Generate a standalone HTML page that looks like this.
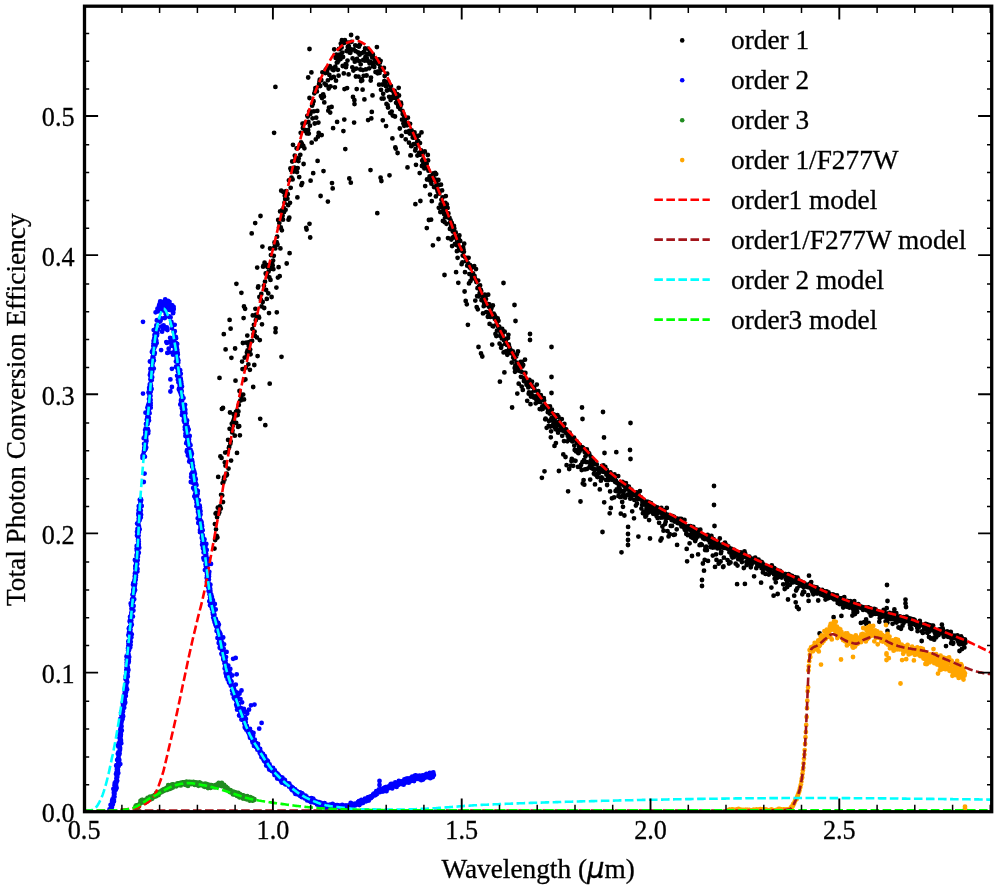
<!DOCTYPE html>
<html lang="en"><head><meta charset="utf-8"><title>Total Photon Conversion Efficiency</title>
<style>html,body{margin:0;padding:0;background:#fff;overflow:hidden}svg{display:block;filter:blur(0.45px)}</style></head>
<body>
<svg width="1000" height="892" viewBox="0 0 1000 892">
<rect width="1000" height="892" fill="#fff"/>
<defs><clipPath id="ax"><rect x="84.5" y="6.2" width="907.2" height="805.5"/></clipPath></defs>
<g clip-path="url(#ax)" fill="none" stroke-linecap="round" stroke-width="4.8">
<path stroke="#000" d="M214.5 548.6h0M214.9 524.1h0M215.2 540.0h0M215.6 513.6h0M216.0 529.3h0M216.3 513.0h0M216.7 536.0h0M217.1 517.2h0M217.4 537.5h0M217.8 507.7h0M218.2 476.9h0M218.6 513.9h0M218.9 507.8h0M219.3 512.3h0M219.7 509.5h0M220.0 506.5h0M220.4 456.4h0M220.8 508.4h0M221.1 494.8h0M221.5 457.9h0M221.9 408.9h0M222.2 495.4h0M222.6 483.1h0M223.0 502.1h0M223.3 482.6h0M223.7 480.0h0M224.1 477.3h0M224.4 479.8h0M224.8 462.4h0M225.2 452.6h0M225.5 465.7h0M225.9 474.9h0M226.3 475.6h0M226.7 473.7h0M227.0 474.7h0M227.4 452.1h0M227.8 452.1h0M228.1 439.9h0M228.5 468.6h0M228.9 447.9h0M229.2 446.9h0M229.6 428.8h0M230.0 412.5h0M230.3 443.8h0M230.7 441.5h0M231.1 460.6h0M231.4 357.8h0M231.8 423.7h0M232.2 432.4h0M232.5 430.4h0M232.9 425.5h0M233.3 421.1h0M233.7 414.2h0M234.0 418.9h0M234.4 416.3h0M234.8 435.7h0M235.1 348.5h0M235.5 380.7h0M235.9 411.9h0M236.2 422.9h0M236.6 411.3h0M237.0 452.9h0M237.3 410.5h0M237.7 415.0h0M238.1 426.9h0M238.4 411.5h0M238.8 405.0h0M239.2 426.2h0M239.5 391.0h0M239.9 435.3h0M240.3 400.6h0M240.7 400.4h0M241.0 396.1h0M241.4 292.8h0M241.8 394.9h0M242.1 361.6h0M242.5 369.1h0M242.9 343.0h0M243.2 394.6h0M243.6 318.1h0M244.0 399.4h0M244.3 380.0h0M244.7 357.6h0M245.1 308.8h0M245.4 379.4h0M245.8 367.5h0M246.2 342.7h0M246.5 356.4h0M246.9 352.4h0M247.3 335.6h0M247.6 350.3h0M248.0 353.8h0M248.4 364.3h0M248.8 345.9h0M249.1 342.2h0M249.5 351.7h0M249.9 369.8h0M250.2 349.6h0M250.6 354.3h0M251.0 341.6h0M251.3 341.2h0M251.7 233.4h0M252.1 341.0h0M252.4 329.1h0M252.8 315.4h0M253.2 387.0h0M253.5 334.1h0M253.9 324.8h0M254.3 365.0h0M254.6 331.6h0M255.0 335.8h0M255.4 308.8h0M255.8 320.2h0M256.1 314.6h0M256.5 316.4h0M256.9 337.4h0M257.2 267.6h0M257.6 356.1h0M258.0 287.6h0M258.3 286.3h0M258.7 316.6h0M259.1 317.7h0M259.4 296.9h0M259.8 340.1h0M260.2 418.8h0M260.5 216.0h0M260.9 299.9h0M261.3 294.0h0M261.6 306.4h0M262.0 324.3h0M262.4 246.6h0M262.7 302.0h0M263.1 266.7h0M263.5 265.6h0M263.9 285.7h0M264.2 308.0h0M264.6 262.7h0M265.0 281.7h0M265.3 425.2h0M265.7 273.5h0M266.1 290.0h0M266.4 274.2h0M266.8 298.9h0M267.2 275.9h0M267.5 267.1h0M267.9 265.2h0M268.3 293.3h0M268.6 271.6h0M269.0 313.1h0M269.4 277.4h0M269.7 383.7h0M270.1 248.5h0M270.5 279.9h0M270.9 255.1h0M271.2 268.5h0M271.6 297.0h0M272.0 263.2h0M272.3 266.8h0M272.7 265.4h0M273.1 260.6h0M273.4 269.2h0M273.8 255.8h0M274.2 247.6h0M274.5 242.4h0M274.9 244.2h0M275.3 248.4h0M275.6 328.3h0M276.0 245.2h0M276.4 287.6h0M276.7 242.2h0M277.1 236.7h0M277.5 244.5h0M277.9 277.6h0M278.2 220.0h0M278.6 267.2h0M279.0 227.4h0M279.3 223.1h0M279.7 276.2h0M280.1 211.4h0M280.4 248.4h0M280.8 227.5h0M281.2 190.7h0M281.5 356.8h0M281.9 230.3h0M282.3 210.0h0M282.6 215.7h0M283.0 219.7h0M283.4 192.0h0M283.7 207.9h0M284.1 212.1h0M284.5 202.7h0M284.8 195.7h0M285.2 199.0h0M285.6 209.8h0M286.0 196.0h0M286.3 191.1h0M286.7 263.5h0M287.1 194.5h0M287.4 198.7h0M287.8 194.2h0M288.2 205.2h0M288.5 219.7h0M288.9 180.3h0M289.3 217.7h0M289.6 253.2h0M290.0 202.8h0M290.4 168.5h0M290.7 187.8h0M291.1 170.3h0M291.5 177.6h0M291.8 178.4h0M292.2 161.5h0M292.6 179.4h0M293.0 144.8h0M293.3 170.9h0M293.7 171.5h0M294.1 168.9h0M294.4 167.7h0M294.8 155.6h0M295.2 160.5h0M295.5 157.2h0M295.9 168.7h0M296.3 171.2h0M296.6 148.3h0M297.0 172.1h0M297.4 197.4h0M297.7 168.1h0M298.1 148.1h0M298.5 161.1h0M298.8 158.3h0M299.2 177.1h0M299.6 146.4h0M299.9 146.0h0M300.3 154.8h0M300.7 132.8h0M301.1 142.5h0M301.4 185.1h0M301.8 143.6h0M302.2 183.1h0M302.5 123.7h0M302.9 128.0h0M303.3 146.0h0M303.6 164.0h0M304.0 123.4h0M304.4 148.3h0M304.7 130.3h0M305.1 131.0h0M305.5 130.2h0M305.8 122.5h0M306.2 227.8h0M306.6 229.6h0M306.9 133.4h0M307.3 115.8h0M307.7 116.6h0M308.1 129.9h0M308.4 121.9h0M308.8 133.6h0M309.2 111.6h0M309.5 98.0h0M309.9 125.7h0M310.3 113.9h0M310.6 180.7h0M311.0 111.6h0M311.4 72.4h0M311.7 142.7h0M312.1 105.7h0M312.5 118.3h0M312.8 104.1h0M313.2 173.2h0M313.6 101.2h0M313.9 111.3h0M314.3 93.3h0M314.7 123.5h0M315.1 90.8h0M315.4 88.1h0M315.8 139.3h0M316.2 117.7h0M316.5 88.0h0M316.9 91.4h0M317.3 110.9h0M317.6 160.9h0M318.0 136.7h0M318.4 122.6h0M318.7 133.0h0M319.1 83.9h0M319.5 81.3h0M319.8 79.6h0M320.2 86.0h0M320.6 196.0h0M320.9 96.1h0M321.3 80.1h0M321.7 135.1h0M322.0 98.0h0M322.4 72.3h0M322.8 95.0h0M323.2 94.3h0M323.5 171.1h0M323.9 96.6h0M324.3 102.4h0M324.6 83.6h0M325.0 72.1h0M325.4 73.0h0M325.7 69.8h0M326.1 85.2h0M326.5 69.0h0M326.8 68.4h0M327.2 72.3h0M327.6 69.3h0M327.9 80.3h0M328.3 110.7h0M328.7 88.6h0M329.0 107.6h0M329.4 74.9h0M329.8 66.1h0M330.2 112.6h0M330.5 86.3h0M330.9 67.7h0M331.3 78.0h0M331.6 106.9h0M332.0 183.1h0M332.4 69.5h0M332.7 188.4h0M333.1 128.2h0M333.5 70.2h0M333.8 76.9h0M334.2 49.3h0M334.6 55.3h0M334.9 87.3h0M335.3 66.7h0M335.7 57.9h0M336.0 80.7h0M336.4 54.7h0M336.8 62.6h0M337.1 121.9h0M337.5 62.4h0M337.9 69.8h0M338.3 60.9h0M338.6 75.7h0M339.0 48.9h0M339.4 49.2h0M339.7 56.7h0M340.1 54.5h0M340.5 59.0h0M340.8 43.6h0M341.2 47.0h0M341.6 47.5h0M341.9 40.2h0M342.3 52.6h0M342.7 66.0h0M343.0 57.0h0M343.4 131.1h0M343.8 73.4h0M344.1 42.9h0M344.5 89.1h0M344.9 40.2h0M345.3 149.1h0M345.6 64.2h0M346.0 67.2h0M346.4 65.0h0M346.7 51.0h0M347.1 88.1h0M347.5 60.6h0M347.8 47.0h0M348.2 42.6h0M348.6 74.4h0M348.9 46.2h0M349.3 178.5h0M349.7 52.7h0M350.0 48.9h0M350.4 52.8h0M350.8 182.7h0M351.1 35.0h0M351.5 41.8h0M351.9 49.8h0M352.3 67.3h0M352.6 58.4h0M353.0 97.0h0M353.4 70.5h0M353.7 49.3h0M354.1 122.6h0M354.5 104.1h0M354.8 61.7h0M355.2 45.3h0M355.6 51.2h0M355.9 76.5h0M356.3 68.6h0M356.7 89.1h0M357.0 59.0h0M357.4 37.8h0M357.8 46.1h0M358.1 52.5h0M358.5 76.6h0M358.9 46.7h0M359.2 61.2h0M359.6 54.7h0M360.0 44.5h0M360.4 69.5h0M360.7 64.3h0M361.1 81.0h0M361.5 79.5h0M361.8 53.1h0M362.2 80.4h0M362.6 89.7h0M362.9 70.1h0M363.3 60.0h0M363.7 75.8h0M364.0 52.0h0M364.4 99.4h0M364.8 60.7h0M365.1 48.5h0M365.5 56.7h0M365.9 69.4h0M366.2 59.8h0M366.6 75.5h0M367.0 59.0h0M367.4 54.0h0M367.7 48.7h0M368.1 120.1h0M368.5 61.3h0M368.8 54.4h0M369.2 68.3h0M369.6 63.4h0M369.9 52.7h0M370.3 62.0h0M370.7 80.6h0M371.0 77.6h0M371.4 62.6h0M371.8 111.9h0M372.1 57.3h0M372.5 95.4h0M372.9 54.5h0M373.2 66.4h0M373.6 66.3h0M374.0 57.9h0M374.3 67.0h0M374.7 58.8h0M375.1 62.4h0M375.5 72.1h0M375.8 59.9h0M376.2 72.2h0M376.6 61.9h0M376.9 47.1h0M377.3 213.2h0M377.7 73.3h0M378.0 63.5h0M378.4 71.3h0M378.8 59.4h0M379.1 84.7h0M379.5 72.9h0M379.9 62.7h0M380.2 67.5h0M380.6 60.8h0M381.0 89.8h0M381.3 69.0h0M381.7 98.6h0M382.1 69.7h0M382.5 84.5h0M382.8 120.3h0M383.2 93.8h0M383.6 98.5h0M383.9 68.0h0M384.3 81.1h0M384.7 76.0h0M385.0 81.7h0M385.4 83.1h0M385.8 86.1h0M386.1 126.1h0M386.5 103.9h0M386.9 90.6h0M387.2 73.7h0M387.6 105.1h0M388.0 107.5h0M388.3 81.5h0M388.7 89.5h0M389.1 96.8h0M389.5 175.3h0M389.8 85.0h0M390.2 112.8h0M390.6 100.0h0M390.9 86.0h0M391.3 90.0h0M391.7 111.6h0M392.0 96.8h0M392.4 138.4h0M392.8 115.6h0M393.1 97.9h0M393.5 92.0h0M393.9 92.8h0M394.2 93.7h0M394.6 90.9h0M395.0 116.5h0M395.3 147.4h0M395.7 148.5h0M396.1 102.8h0M396.4 97.7h0M396.8 98.8h0M397.2 94.1h0M397.6 153.0h0M397.9 104.7h0M398.3 107.0h0M398.7 87.8h0M399.0 95.5h0M399.4 105.7h0M399.8 128.5h0M400.1 109.0h0M400.5 106.2h0M400.9 102.7h0M401.2 104.3h0M401.6 135.8h0M402.0 119.7h0M402.3 110.8h0M402.7 114.1h0M403.1 112.9h0M403.4 123.5h0M403.8 115.5h0M404.2 125.8h0M404.6 118.4h0M404.9 119.0h0M405.3 124.3h0M405.7 139.3h0M406.0 131.9h0M406.4 124.3h0M406.8 123.0h0M407.1 125.3h0M407.5 167.4h0M407.9 117.7h0M408.2 123.5h0M408.6 123.6h0M409.0 142.7h0M409.3 130.8h0M409.7 133.6h0M410.1 123.8h0M410.4 155.4h0M410.8 155.4h0M411.2 146.2h0M411.6 130.5h0M411.9 145.3h0M412.3 133.8h0M412.7 137.5h0M413.0 137.5h0M413.4 136.9h0M413.8 144.2h0M414.1 137.5h0M414.5 132.3h0M414.9 135.1h0M415.2 150.5h0M415.6 148.9h0M416.0 164.8h0M416.3 143.8h0M416.7 137.7h0M417.1 141.8h0M417.4 155.6h0M417.8 145.1h0M418.2 141.1h0M418.5 155.0h0M418.9 135.7h0M419.3 152.8h0M419.7 173.1h0M420.0 143.1h0M420.4 201.0h0M420.8 154.5h0M421.1 150.5h0M421.5 132.4h0M421.9 166.0h0M422.2 160.6h0M422.6 154.0h0M423.0 159.5h0M423.3 163.0h0M423.7 161.8h0M424.1 161.1h0M424.4 168.4h0M424.8 151.5h0M425.2 186.1h0M425.5 165.2h0M425.9 165.2h0M426.3 167.0h0M426.7 164.0h0M427.0 179.5h0M427.4 167.9h0M427.8 155.0h0M428.1 160.4h0M428.5 170.7h0M428.9 220.0h0M429.2 179.2h0M429.6 176.5h0M430.0 194.6h0M430.3 180.8h0M430.7 179.6h0M431.1 219.7h0M431.4 183.7h0M431.8 201.2h0M432.2 175.4h0M432.5 180.1h0M432.9 245.3h0M433.3 173.4h0M433.6 177.8h0M434.0 187.1h0M434.4 187.0h0M434.8 173.4h0M435.1 172.8h0M435.5 179.7h0M435.9 196.4h0M436.2 174.1h0M436.6 183.9h0M437.0 187.6h0M437.3 189.7h0M437.7 191.4h0M438.1 192.3h0M438.4 179.9h0M438.8 207.8h0M439.2 193.6h0M439.5 190.9h0M439.9 184.8h0M440.3 212.1h0M440.6 204.5h0M441.0 184.7h0M441.4 199.8h0M441.8 206.9h0M442.1 190.4h0M442.5 197.5h0M442.9 220.9h0M443.2 210.4h0M443.6 210.3h0M444.0 214.0h0M444.3 204.9h0M444.7 222.2h0M445.1 217.4h0M445.4 202.8h0M445.8 196.1h0M446.2 208.1h0M446.5 223.8h0M446.9 204.4h0M447.3 213.4h0M447.6 207.9h0M448.0 238.1h0M448.4 213.5h0M448.8 217.6h0M449.1 217.9h0M449.5 218.0h0M449.9 228.9h0M450.2 222.4h0M450.6 220.4h0M451.0 226.3h0M451.3 239.5h0M451.7 222.8h0M452.1 246.1h0M452.4 237.9h0M452.8 231.6h0M453.2 226.5h0M453.5 236.8h0M453.9 225.8h0M454.3 228.5h0M454.6 236.2h0M455.0 243.8h0M455.4 237.5h0M455.7 232.4h0M456.1 272.2h0M456.5 245.1h0M456.9 251.2h0M457.2 240.3h0M457.6 257.8h0M458.0 243.1h0M458.3 282.8h0M458.7 238.4h0M459.1 248.2h0M459.4 235.4h0M459.8 250.1h0M460.2 240.9h0M460.5 248.3h0M460.9 248.9h0M461.3 250.6h0M461.6 264.2h0M462.0 249.8h0M462.4 262.3h0M462.7 255.6h0M463.1 247.2h0M463.5 249.6h0M463.9 251.8h0M464.2 243.7h0M464.6 291.5h0M465.0 272.2h0M465.3 257.6h0M465.7 300.9h0M466.1 261.1h0M466.4 260.6h0M466.8 304.3h0M467.2 265.7h0M467.5 257.8h0M467.9 324.8h0M468.3 263.5h0M468.6 257.8h0M469.0 283.4h0M469.4 274.1h0M469.7 267.4h0M470.1 265.1h0M470.5 281.0h0M470.8 268.4h0M471.2 274.4h0M471.6 273.9h0M472.0 277.7h0M472.3 277.4h0M472.7 267.0h0M473.1 273.4h0M473.4 276.8h0M473.8 278.4h0M474.2 266.1h0M474.5 275.9h0M474.9 278.5h0M475.3 300.6h0M475.6 279.6h0M476.0 269.1h0M476.4 282.0h0M476.7 307.1h0M477.1 296.1h0M477.5 288.2h0M477.8 309.3h0M478.2 280.6h0M478.6 296.3h0M479.0 286.5h0M479.3 286.9h0M479.7 293.1h0M480.1 285.4h0M480.4 290.7h0M480.8 289.8h0M481.2 291.1h0M481.5 300.2h0M481.9 295.6h0M482.3 356.5h0M482.6 299.5h0M483.0 313.4h0M483.4 299.2h0M483.7 306.2h0M484.1 302.8h0M484.5 297.1h0M484.8 294.7h0M485.2 295.9h0M485.6 298.9h0M486.0 299.1h0M486.3 312.1h0M486.7 304.7h0M487.1 305.0h0M487.4 303.8h0M487.8 316.8h0M488.2 294.7h0M488.5 313.6h0M488.9 306.8h0M489.3 304.5h0M489.6 323.9h0M490.0 315.3h0M490.4 316.9h0M490.7 309.9h0M491.1 309.2h0M491.5 307.9h0M491.8 314.9h0M492.2 344.6h0M492.6 326.0h0M492.9 305.5h0M493.3 326.4h0M493.7 313.7h0M494.1 317.2h0M494.4 314.8h0M494.8 318.9h0M495.2 316.4h0M495.5 333.9h0M495.9 320.1h0M496.3 336.0h0M496.6 323.9h0M497.0 330.7h0M497.4 319.7h0M497.7 318.4h0M498.1 326.4h0M498.5 320.8h0M498.8 329.8h0M499.2 326.6h0M499.6 343.7h0M499.9 381.7h0M500.3 335.9h0M500.7 333.7h0M501.1 347.8h0M501.4 345.8h0M501.8 338.4h0M502.2 328.9h0M502.5 336.0h0M502.9 338.8h0M503.3 332.4h0M503.6 352.4h0M504.0 340.2h0M504.4 372.4h0M504.7 331.7h0M505.1 343.8h0M505.5 351.7h0M505.8 340.8h0M506.2 338.7h0M506.6 351.5h0M506.9 344.9h0M507.3 354.8h0M507.7 345.0h0M508.0 338.1h0M508.4 334.8h0M508.8 344.5h0M509.2 348.6h0M509.5 347.5h0M509.9 350.4h0M510.3 349.6h0M510.6 352.8h0M511.0 353.2h0M511.4 350.6h0M511.7 362.6h0M512.1 407.5h0M512.5 353.7h0M512.8 351.4h0M513.2 357.6h0M513.6 357.2h0M513.9 355.2h0M514.3 359.2h0M514.7 368.0h0M515.0 371.8h0M515.4 365.4h0M515.8 371.1h0M516.2 356.4h0M516.5 362.6h0M516.9 354.2h0M517.3 393.6h0M517.6 369.8h0M518.0 351.5h0M518.4 368.4h0M518.7 383.7h0M519.1 370.0h0M519.5 367.5h0M519.8 370.9h0M520.2 365.6h0M520.6 362.0h0M520.9 376.8h0M521.3 371.7h0M521.7 386.6h0M522.0 361.9h0M522.4 366.6h0M522.8 389.9h0M523.2 365.0h0M523.5 377.8h0M523.9 381.1h0M524.3 372.9h0M524.6 381.4h0M525.0 359.7h0M525.4 373.0h0M525.7 378.9h0M526.1 381.1h0M526.5 384.8h0M526.8 380.5h0M527.2 400.8h0M527.6 382.6h0M527.9 382.1h0M528.3 387.4h0M528.7 393.7h0M529.0 392.5h0M529.4 380.0h0M529.8 384.7h0M530.1 384.3h0M530.5 404.2h0M530.9 396.6h0M531.3 392.6h0M531.6 385.3h0M532.0 381.7h0M532.4 395.5h0M532.7 386.9h0M533.1 396.7h0M533.5 397.2h0M533.8 397.6h0M534.2 388.4h0M534.6 390.6h0M534.9 397.8h0M535.3 396.5h0M535.7 403.3h0M536.0 399.0h0M536.4 399.3h0M536.8 384.6h0M537.1 401.4h0M537.5 402.1h0M537.9 392.6h0M538.3 391.2h0M538.6 396.3h0M539.0 396.2h0M539.4 397.4h0M539.7 409.1h0M540.1 401.9h0M540.5 396.2h0M540.8 395.1h0M541.2 398.4h0M541.6 409.3h0M541.9 477.8h0M542.3 406.5h0M542.7 408.9h0M543.0 399.5h0M543.4 405.4h0M543.8 398.1h0M544.1 400.5h0M544.5 471.3h0M544.9 405.1h0M545.2 419.3h0M545.6 418.6h0M546.0 406.5h0M546.4 407.5h0M546.7 427.8h0M547.1 406.3h0M547.5 406.5h0M547.8 412.2h0M548.2 410.7h0M548.6 425.9h0M548.9 421.0h0M549.3 410.2h0M549.7 413.6h0M550.0 406.5h0M550.4 426.6h0M550.8 437.3h0M551.1 431.3h0M551.5 418.2h0M551.9 409.7h0M552.2 425.9h0M552.6 420.4h0M553.0 418.2h0M553.4 423.8h0M553.7 414.5h0M554.1 417.4h0M554.5 445.9h0M554.8 427.5h0M555.2 418.0h0M555.6 429.3h0M555.9 443.1h0M556.3 426.4h0M556.7 422.4h0M557.0 425.1h0M557.4 415.1h0M557.8 430.5h0M558.1 432.7h0M558.5 417.0h0M558.9 471.0h0M559.2 423.3h0M559.6 421.6h0M560.0 429.9h0M560.4 429.5h0M560.7 428.2h0M561.1 426.4h0M561.5 426.4h0M561.8 419.1h0M562.2 435.8h0M562.6 427.4h0M562.9 430.7h0M563.3 454.4h0M563.7 427.3h0M564.0 441.1h0M564.4 424.0h0M564.8 431.6h0M565.1 429.4h0M565.5 457.0h0M565.9 432.8h0M566.2 429.3h0M566.6 465.2h0M567.0 431.8h0M567.3 441.3h0M567.7 435.7h0M568.1 491.3h0M568.5 437.5h0M568.8 436.9h0M569.2 469.0h0M569.6 432.7h0M569.9 435.7h0M570.3 435.1h0M570.7 439.9h0M571.0 465.6h0M571.4 460.9h0M571.8 459.0h0M572.1 441.3h0M572.5 439.9h0M572.9 460.3h0M573.2 465.8h0M573.6 460.4h0M574.0 437.6h0M574.3 445.6h0M574.7 450.0h0M575.1 440.7h0M575.5 460.8h0M575.8 451.0h0M576.2 451.4h0M576.6 441.5h0M576.9 451.3h0M577.3 442.9h0M577.7 452.3h0M578.0 466.9h0M578.4 453.2h0M578.8 449.0h0M579.1 446.8h0M579.5 451.4h0M579.9 445.2h0M580.2 466.3h0M580.6 447.7h0M581.0 464.9h0M581.3 449.3h0M581.7 470.0h0M582.1 447.2h0M582.4 462.2h0M582.8 483.5h0M583.2 447.8h0M583.6 480.1h0M583.9 460.2h0M584.3 484.7h0M584.7 452.1h0M585.0 469.4h0M585.4 456.5h0M585.8 452.0h0M586.1 462.0h0M586.5 450.3h0M586.9 449.5h0M587.2 468.8h0M587.6 452.5h0M588.0 454.0h0M588.3 452.7h0M588.7 462.3h0M589.1 453.3h0M589.4 454.7h0M589.8 466.6h0M590.2 479.6h0M590.6 461.0h0M590.9 456.9h0M591.3 468.1h0M591.7 460.5h0M592.0 464.1h0M592.4 464.9h0M592.8 468.8h0M593.1 460.1h0M593.5 462.3h0M593.9 473.7h0M594.2 464.3h0M594.6 469.9h0M595.0 484.4h0M595.3 474.4h0M595.7 469.3h0M596.1 474.9h0M596.4 475.2h0M596.8 464.5h0M597.2 476.7h0M597.6 477.1h0M597.9 473.8h0M598.3 468.9h0M598.7 473.2h0M599.0 473.0h0M599.4 468.5h0M599.8 489.4h0M600.1 470.2h0M600.5 468.1h0M600.9 480.7h0M601.2 478.8h0M601.6 477.4h0M602.0 465.8h0M602.3 478.3h0M602.7 471.7h0M603.1 467.9h0M603.4 465.5h0M603.8 470.3h0M604.2 502.3h0M604.5 468.4h0M604.9 472.2h0M605.3 467.0h0M605.7 470.0h0M606.0 479.9h0M606.4 474.7h0M606.8 469.8h0M607.1 485.0h0M607.5 473.8h0M607.9 474.7h0M608.2 477.0h0M608.6 480.1h0M609.0 479.4h0M609.3 476.3h0M609.7 513.3h0M610.1 491.4h0M610.4 472.3h0M610.8 508.0h0M611.2 476.7h0M611.5 479.6h0M611.9 498.3h0M612.3 476.3h0M612.7 479.8h0M613.0 477.9h0M613.4 475.4h0M613.8 479.5h0M614.1 497.4h0M614.5 474.4h0M614.9 479.4h0M615.2 482.1h0M615.6 490.9h0M616.0 481.0h0M616.3 452.2h0M616.7 489.4h0M617.1 483.0h0M617.4 483.3h0M617.8 491.6h0M618.2 476.1h0M618.5 496.0h0M618.9 487.1h0M619.3 491.9h0M619.6 488.5h0M620.0 497.0h0M620.4 484.2h0M620.8 513.7h0M621.1 491.0h0M621.5 552.3h0M621.9 496.5h0M622.2 502.0h0M622.6 482.0h0M623.0 506.8h0M623.3 494.8h0M623.7 485.5h0M624.1 490.8h0M624.4 515.5h0M624.8 486.6h0M625.2 497.7h0M625.5 487.6h0M625.9 483.1h0M626.3 488.5h0M626.6 487.2h0M627.0 486.4h0M627.4 494.7h0M627.8 489.4h0M628.1 526.9h0M628.5 486.7h0M628.9 486.7h0M629.2 495.3h0M629.6 492.0h0M630.0 493.7h0M630.3 498.7h0M630.7 493.5h0M631.1 498.1h0M631.4 489.7h0M631.8 494.3h0M632.2 511.3h0M632.5 495.2h0M632.9 493.2h0M633.3 492.8h0M633.6 494.7h0M634.0 518.3h0M634.4 499.9h0M634.8 494.6h0M635.1 492.8h0M635.5 495.0h0M635.9 505.6h0M636.2 495.5h0M636.6 492.3h0M637.0 503.6h0M637.3 499.2h0M637.7 495.4h0M638.1 498.4h0M638.4 536.6h0M638.8 495.5h0M639.2 497.4h0M639.5 498.9h0M639.9 491.1h0M640.3 497.1h0M640.6 498.4h0M641.0 497.3h0M641.4 508.6h0M641.7 499.8h0M642.1 505.1h0M642.5 502.4h0M642.9 513.2h0M643.2 502.4h0M643.6 500.5h0M644.0 512.3h0M644.3 513.7h0M644.7 503.3h0M645.1 511.3h0M645.4 516.7h0M645.8 505.1h0M646.2 515.7h0M646.5 508.2h0M646.9 501.6h0M647.3 507.8h0M647.6 512.2h0M648.0 509.4h0M648.4 512.6h0M648.7 502.2h0M649.1 520.1h0M649.5 504.1h0M649.9 507.2h0M650.2 509.3h0M650.6 511.1h0M651.0 503.2h0M651.3 509.1h0M651.7 511.8h0M652.1 507.7h0M652.4 506.8h0M652.8 505.7h0M653.2 513.8h0M653.5 513.2h0M653.9 507.9h0M654.3 509.5h0M654.6 510.1h0M655.0 506.6h0M655.4 513.8h0M655.7 506.9h0M656.1 509.2h0M656.5 516.1h0M656.8 512.5h0M657.2 507.3h0M657.6 518.0h0M658.0 513.0h0M658.3 509.7h0M658.7 508.6h0M659.1 522.8h0M659.4 511.2h0M659.8 511.7h0M660.2 509.4h0M660.5 540.5h0M660.9 517.7h0M661.3 507.8h0M661.6 538.5h0M662.0 513.5h0M662.4 526.5h0M662.7 513.3h0M663.1 517.3h0M663.5 530.7h0M663.8 511.8h0M664.2 510.5h0M664.6 512.3h0M665.0 524.1h0M665.3 514.3h0M665.7 521.8h0M666.1 518.6h0M666.4 516.1h0M666.8 507.9h0M667.2 514.7h0M667.5 531.1h0M667.9 516.3h0M668.3 517.5h0M668.6 536.4h0M669.0 516.8h0M669.4 517.9h0M669.7 534.2h0M670.1 515.9h0M670.5 515.6h0M670.8 525.9h0M671.2 518.4h0M671.6 520.1h0M672.0 525.9h0M672.3 517.8h0M672.7 516.1h0M673.1 517.0h0M673.4 519.9h0M673.8 534.9h0M674.2 516.9h0M674.5 521.5h0M674.9 534.6h0M675.3 519.2h0M675.6 519.4h0M676.0 520.2h0M676.4 518.5h0M676.7 529.3h0M677.1 544.9h0M677.5 523.1h0M677.8 522.1h0M678.2 522.3h0M678.6 520.8h0M678.9 521.9h0M679.3 518.9h0M679.7 520.6h0M680.1 523.8h0M680.4 523.9h0M680.8 523.7h0M681.2 518.8h0M681.5 526.4h0M681.9 523.0h0M682.3 526.6h0M682.6 522.6h0M683.0 526.7h0M683.4 524.7h0M683.7 524.7h0M684.1 527.9h0M684.5 519.9h0M684.8 529.8h0M685.2 525.8h0M685.6 526.8h0M685.9 530.8h0M686.3 533.9h0M686.7 548.9h0M687.1 561.3h0M687.4 529.7h0M687.8 535.2h0M688.2 528.3h0M688.5 534.8h0M688.9 526.2h0M689.3 529.0h0M689.6 543.3h0M690.0 526.9h0M690.4 526.1h0M690.7 530.1h0M691.1 537.1h0M691.5 534.2h0M691.8 530.9h0M692.2 535.4h0M692.6 529.5h0M692.9 538.1h0M693.3 526.8h0M693.7 534.4h0M694.0 532.4h0M694.4 530.1h0M694.8 530.4h0M695.2 541.0h0M695.5 529.3h0M695.9 539.1h0M696.3 532.8h0M696.6 535.3h0M697.0 534.6h0M697.4 529.9h0M697.7 536.7h0M698.1 554.4h0M698.5 534.1h0M698.8 532.7h0M699.2 533.0h0M699.6 545.2h0M699.9 531.5h0M700.3 529.7h0M700.7 535.3h0M701.0 544.2h0M701.4 535.2h0M701.8 544.8h0M702.2 536.8h0M702.5 536.0h0M702.9 563.5h0M703.3 538.4h0M703.6 536.3h0M704.0 570.7h0M704.4 539.1h0M704.7 559.9h0M705.1 550.0h0M705.5 547.4h0M705.8 538.8h0M706.2 546.6h0M706.6 537.8h0M706.9 550.2h0M707.3 536.9h0M707.7 535.0h0M708.0 560.9h0M708.4 540.0h0M708.8 537.5h0M709.2 539.8h0M709.5 541.2h0M709.9 542.7h0M710.3 540.5h0M710.6 547.0h0M711.0 538.9h0M711.4 536.0h0M711.7 539.1h0M712.1 545.0h0M712.5 547.6h0M712.8 555.6h0M713.2 540.3h0M713.6 539.2h0M713.9 542.7h0M714.3 547.3h0M714.7 546.0h0M715.0 566.9h0M715.4 546.7h0M715.8 544.1h0M716.1 554.3h0M716.5 559.9h0M716.9 543.0h0M717.3 543.2h0M717.6 548.4h0M718.0 542.2h0M718.4 546.4h0M718.7 563.7h0M719.1 545.8h0M719.5 547.9h0M719.8 538.5h0M720.2 545.1h0M720.6 561.5h0M720.9 553.2h0M721.3 551.6h0M721.7 545.6h0M722.0 544.6h0M722.4 546.8h0M722.8 547.2h0M723.1 567.0h0M723.5 566.4h0M723.9 557.7h0M724.3 547.8h0M724.6 547.2h0M725.0 542.7h0M725.4 546.5h0M725.7 544.4h0M726.1 546.8h0M726.5 545.5h0M726.8 547.6h0M727.2 548.5h0M727.6 560.1h0M727.9 546.9h0M728.3 546.5h0M728.7 548.2h0M729.0 563.5h0M729.4 552.3h0M729.8 548.6h0M730.1 550.2h0M730.5 562.5h0M730.9 548.7h0M731.2 548.8h0M731.6 555.7h0M732.0 551.6h0M732.4 557.6h0M732.7 550.1h0M733.1 550.6h0M733.5 555.5h0M733.8 557.2h0M734.2 549.8h0M734.6 551.9h0M734.9 551.0h0M735.3 553.6h0M735.7 563.7h0M736.0 553.7h0M736.4 555.4h0M736.8 552.2h0M737.1 584.2h0M737.5 565.6h0M737.9 552.1h0M738.2 559.2h0M738.6 556.2h0M739.0 553.2h0M739.4 557.1h0M739.7 556.2h0M740.1 557.0h0M740.5 559.8h0M740.8 552.5h0M741.2 556.7h0M741.6 559.3h0M741.9 562.1h0M742.3 553.0h0M742.7 554.4h0M743.0 553.8h0M743.4 556.1h0M743.8 568.0h0M744.1 556.5h0M744.5 551.3h0M744.9 583.9h0M745.2 553.6h0M745.6 557.2h0M746.0 556.8h0M746.4 561.9h0M746.7 565.0h0M747.1 556.9h0M747.5 558.7h0M747.8 560.2h0M748.2 558.4h0M748.6 559.2h0M748.9 557.0h0M749.3 556.6h0M749.7 563.2h0M750.0 560.6h0M750.4 559.2h0M750.8 567.3h0M751.1 559.7h0M751.5 564.7h0M751.9 558.6h0M752.2 560.9h0M752.6 560.1h0M753.0 562.6h0M753.3 559.2h0M753.7 562.1h0M754.1 576.3h0M754.5 562.2h0M754.8 560.9h0M755.2 557.7h0M755.6 562.2h0M755.9 561.6h0M756.3 568.2h0M756.7 563.1h0M757.0 561.8h0M757.4 565.7h0M757.8 560.8h0M758.1 563.3h0M758.5 559.6h0M758.9 564.0h0M759.2 564.0h0M759.6 563.6h0M760.0 565.9h0M760.3 564.3h0M760.7 561.7h0M761.1 582.7h0M761.5 568.2h0M761.8 562.2h0M762.2 563.9h0M762.6 563.3h0M762.9 572.4h0M763.3 567.9h0M763.7 565.1h0M764.0 565.3h0M764.4 567.2h0M764.8 568.4h0M765.1 566.9h0M765.5 573.9h0M765.9 566.7h0M766.2 566.9h0M766.6 566.6h0M767.0 568.9h0M767.3 566.5h0M767.7 568.1h0M768.1 567.6h0M768.4 570.2h0M768.8 574.5h0M769.2 568.0h0M769.6 567.9h0M769.9 568.6h0M770.3 569.2h0M770.7 569.0h0M771.0 572.6h0M771.4 587.6h0M771.8 565.4h0M772.1 567.1h0M772.5 567.1h0M772.9 572.7h0M773.2 572.7h0M773.6 595.7h0M774.0 574.3h0M774.3 568.2h0M774.7 578.7h0M775.1 570.2h0M775.4 569.9h0M775.8 582.3h0M776.2 571.1h0M776.6 569.8h0M776.9 575.6h0M777.3 577.8h0M777.7 594.0h0M778.0 574.6h0M778.4 573.6h0M778.8 571.3h0M779.1 571.6h0M779.5 576.5h0M779.9 571.0h0M780.2 575.2h0M780.6 571.6h0M781.0 573.2h0M781.3 574.0h0M781.7 577.6h0M782.1 573.9h0M782.4 575.5h0M782.8 574.8h0M783.2 584.3h0M783.6 574.8h0M783.9 574.4h0M784.3 575.3h0M784.7 589.0h0M785.0 574.2h0M785.4 575.4h0M785.8 574.2h0M786.1 579.4h0M786.5 579.4h0M786.9 583.2h0M787.2 587.1h0M787.6 575.9h0M788.0 576.2h0M788.3 577.1h0M788.7 574.2h0M789.1 576.2h0M789.4 578.7h0M789.8 584.9h0M790.2 575.3h0M790.5 580.4h0M790.9 580.7h0M791.3 578.5h0M791.7 582.4h0M792.0 575.8h0M792.4 577.5h0M792.8 579.3h0M793.1 582.3h0M793.5 578.3h0M793.9 581.5h0M794.2 595.7h0M794.6 580.6h0M795.0 577.2h0M795.3 578.9h0M795.7 602.3h0M796.1 590.5h0M796.4 582.5h0M796.8 582.4h0M797.2 588.5h0M797.5 577.7h0M797.9 583.1h0M798.3 579.5h0M798.7 609.0h0M799.0 582.7h0M799.4 582.2h0M799.8 585.6h0M800.1 581.2h0M800.5 585.3h0M800.9 581.5h0M801.2 583.4h0M801.6 585.8h0M802.0 584.5h0M802.3 594.3h0M802.7 585.6h0M803.1 592.1h0M803.4 582.6h0M803.8 587.6h0M804.2 592.1h0M804.5 583.4h0M804.9 585.2h0M805.3 584.4h0M805.7 585.4h0M806.0 585.4h0M806.4 585.4h0M806.8 585.0h0M807.1 585.4h0M807.5 586.6h0M807.9 587.2h0M808.2 595.2h0M808.6 600.9h0M809.0 575.7h0M809.3 584.2h0M809.7 585.1h0M810.1 587.8h0M810.4 583.4h0M810.8 583.9h0M811.2 582.1h0M811.5 589.4h0M811.9 586.4h0M812.3 591.6h0M812.6 592.1h0M813.0 589.3h0M813.4 594.3h0M813.8 588.0h0M814.1 586.9h0M814.5 592.1h0M814.9 592.8h0M815.2 587.3h0M815.6 589.7h0M816.0 588.1h0M816.3 589.3h0M816.7 587.5h0M817.1 593.5h0M817.4 592.7h0M817.8 592.9h0M818.2 600.5h0M818.5 589.2h0M818.9 591.7h0M819.3 593.4h0M819.6 633.4h0M820.0 591.2h0M820.4 591.6h0M820.8 594.4h0M821.1 590.6h0M821.5 594.7h0M821.9 592.8h0M822.2 589.9h0M822.6 594.2h0M823.0 591.7h0M823.3 593.2h0M823.7 593.3h0M824.1 595.8h0M824.4 591.3h0M824.8 593.0h0M825.2 592.5h0M825.5 599.6h0M825.9 598.1h0M826.3 591.8h0M826.6 591.5h0M827.0 597.3h0M827.4 596.3h0M827.7 597.4h0M828.1 598.3h0M828.5 592.3h0M828.9 596.3h0M829.2 594.1h0M829.6 594.9h0M830.0 595.8h0M830.3 597.3h0M830.7 596.3h0M831.1 595.7h0M831.4 594.7h0M831.8 596.5h0M832.2 598.0h0M832.5 596.9h0M832.9 594.4h0M833.3 596.3h0M833.6 617.2h0M834.0 599.3h0M834.4 598.0h0M834.7 599.0h0M835.1 598.3h0M835.5 595.4h0M835.9 596.7h0M836.2 597.6h0M836.6 597.5h0M837.0 595.4h0M837.3 600.4h0M837.7 603.1h0M838.1 601.2h0M838.4 600.7h0M838.8 599.0h0M839.2 599.8h0M839.5 598.5h0M839.9 604.2h0M840.3 604.0h0M840.6 598.7h0M841.0 601.6h0M841.4 615.9h0M841.7 598.3h0M842.1 601.9h0M842.5 601.2h0M842.9 602.0h0M843.2 607.6h0M843.6 602.1h0M844.0 604.7h0M844.3 597.2h0M844.7 604.5h0M845.1 605.5h0M845.4 601.8h0M845.8 601.6h0M846.2 602.7h0M846.5 606.5h0M846.9 606.7h0M847.3 600.9h0M847.6 602.4h0M848.0 601.1h0M848.4 605.5h0M848.7 605.6h0M849.1 601.8h0M849.5 607.7h0M849.8 605.6h0M850.2 601.1h0M850.6 604.7h0M851.0 602.6h0M851.3 607.0h0M851.7 604.2h0M852.1 605.2h0M852.4 615.6h0M852.8 605.4h0M853.2 609.2h0M853.5 612.0h0M853.9 604.1h0M854.3 601.1h0M854.6 607.4h0M855.0 614.0h0M855.4 608.4h0M855.7 608.2h0M856.1 606.1h0M856.5 608.6h0M856.8 608.3h0M857.2 611.9h0M857.6 606.8h0M858.0 604.7h0M858.3 604.2h0M858.7 606.8h0M859.1 605.7h0M859.4 605.7h0M859.8 606.9h0M860.2 606.4h0M860.5 607.8h0M860.9 622.9h0M861.3 607.4h0M861.6 607.0h0M862.0 606.8h0M862.4 607.1h0M862.7 608.7h0M863.1 609.9h0M863.5 608.3h0M863.8 608.7h0M864.2 622.2h0M864.6 608.2h0M864.9 636.7h0M865.3 607.4h0M865.7 607.6h0M866.1 619.3h0M866.4 624.2h0M866.8 610.3h0M867.2 635.2h0M867.5 607.8h0M867.9 609.0h0M868.3 607.5h0M868.6 623.0h0M869.0 608.5h0M869.4 612.5h0M869.7 609.2h0M870.1 610.3h0M870.5 608.3h0M870.8 615.7h0M871.2 609.9h0M871.6 609.4h0M871.9 609.4h0M872.3 614.4h0M872.7 613.4h0M873.1 609.4h0M873.4 609.1h0M873.8 610.8h0M874.2 608.8h0M874.5 610.4h0M874.9 611.6h0M875.3 613.8h0M875.6 609.4h0M876.0 611.5h0M876.4 610.9h0M876.7 636.3h0M877.1 612.5h0M877.5 611.1h0M877.8 612.2h0M878.2 614.1h0M878.6 613.9h0M878.9 611.7h0M879.3 621.8h0M879.7 618.3h0M880.1 612.9h0M880.4 613.6h0M880.8 613.1h0M881.2 613.7h0M881.5 612.7h0M881.9 615.2h0M882.3 616.7h0M882.6 613.0h0M883.0 613.4h0M883.4 613.0h0M883.7 609.8h0M884.1 612.1h0M884.5 611.5h0M884.8 612.9h0M885.2 613.9h0M885.6 621.5h0M885.9 617.1h0M886.3 616.4h0M886.7 608.2h0M887.0 620.3h0M887.4 622.6h0M887.8 617.6h0M888.2 616.1h0M888.5 615.2h0M888.9 613.1h0M889.3 613.1h0M889.6 613.0h0M890.0 613.4h0M890.4 616.2h0M890.7 619.1h0M891.1 617.2h0M891.5 615.7h0M891.8 615.7h0M892.2 617.6h0M892.6 623.8h0M892.9 618.5h0M893.3 615.2h0M893.7 612.7h0M894.0 614.0h0M894.4 609.5h0M894.8 618.6h0M895.2 619.7h0M895.5 620.3h0M895.9 617.9h0M896.3 613.2h0M896.6 622.5h0M897.0 618.5h0M897.4 617.4h0M897.7 618.4h0M898.1 619.4h0M898.5 627.5h0M898.8 617.8h0M899.2 617.2h0M899.6 617.0h0M899.9 616.3h0M900.3 621.1h0M900.7 617.9h0M901.0 628.8h0M901.4 617.9h0M901.8 617.3h0M902.1 618.4h0M902.5 625.7h0M902.9 619.3h0M903.3 617.2h0M903.6 623.0h0M904.0 617.3h0M904.4 621.0h0M904.7 617.9h0M905.1 618.0h0M905.5 621.0h0M905.8 621.1h0M906.2 619.8h0M906.6 616.6h0M906.9 620.4h0M907.3 621.0h0M907.7 619.2h0M908.0 618.0h0M908.4 619.5h0M908.8 620.4h0M909.1 618.5h0M909.5 621.8h0M909.9 625.1h0M910.3 628.1h0M910.6 618.7h0M911.0 624.8h0M911.4 628.9h0M911.7 620.7h0M912.1 620.5h0M912.5 622.0h0M912.8 620.7h0M913.2 623.5h0M913.6 619.3h0M913.9 620.0h0M914.3 619.9h0M914.7 620.2h0M915.0 621.3h0M915.4 624.9h0M915.8 624.3h0M916.1 622.4h0M916.5 622.6h0M916.9 626.1h0M917.3 628.0h0M917.6 631.2h0M918.0 624.1h0M918.4 623.3h0M918.7 627.5h0M919.1 623.5h0M919.5 624.0h0M919.8 620.9h0M920.2 624.0h0M920.6 624.2h0M920.9 625.0h0M921.3 625.0h0M921.7 641.0h0M922.0 631.5h0M922.4 631.7h0M922.8 632.9h0M923.1 624.8h0M923.5 625.7h0M923.9 626.0h0M924.2 628.1h0M924.6 626.9h0M925.0 629.0h0M925.4 628.8h0M925.7 623.8h0M926.1 625.3h0M926.5 626.4h0M926.8 625.5h0M927.2 632.8h0M927.6 629.3h0M927.9 624.6h0M928.3 628.7h0M928.7 627.1h0M929.0 637.0h0M929.4 631.6h0M929.8 629.3h0M930.1 630.4h0M930.5 625.4h0M930.9 638.4h0M931.2 638.5h0M931.6 629.1h0M932.0 628.2h0M932.4 626.2h0M932.7 625.7h0M933.1 625.7h0M933.5 629.6h0M933.8 630.7h0M934.2 639.7h0M934.6 637.3h0M934.9 633.1h0M935.3 630.2h0M935.7 630.4h0M936.0 637.4h0M936.4 636.7h0M936.8 633.2h0M937.1 631.5h0M937.5 630.3h0M937.9 631.1h0M938.2 631.0h0M938.6 635.0h0M939.0 632.6h0M939.3 629.3h0M939.7 631.6h0M940.1 632.7h0M940.5 629.6h0M940.8 633.0h0M941.2 630.6h0M941.6 631.7h0M941.9 624.7h0M942.3 630.6h0M942.7 628.5h0M943.0 630.4h0M943.4 634.4h0M943.8 636.8h0M944.1 633.7h0M944.5 633.6h0M944.9 632.2h0M945.2 633.6h0M945.6 633.4h0M946.0 646.1h0M946.3 634.2h0M946.7 633.3h0M947.1 631.3h0M947.5 633.1h0M947.8 634.5h0M948.2 636.9h0M948.6 635.0h0M948.9 635.1h0M949.3 635.5h0M949.7 635.1h0M950.0 634.7h0M950.4 634.9h0M950.8 631.9h0M951.1 643.2h0M951.5 639.0h0M951.9 635.6h0M952.2 638.6h0M952.6 637.0h0M953.0 643.8h0M953.3 643.0h0M953.7 635.6h0M954.1 637.7h0M954.5 637.1h0M954.8 636.4h0M955.2 636.0h0M955.6 638.3h0M955.9 636.8h0M956.3 637.8h0M956.7 638.2h0M957.0 639.1h0M957.4 635.3h0M957.8 638.0h0M958.1 641.3h0M958.5 638.0h0M958.9 643.6h0M959.2 638.7h0M959.6 644.3h0M960.0 636.9h0M960.3 665.4h0M960.7 641.2h0M961.1 636.4h0M961.4 638.2h0M961.8 637.8h0M962.2 640.8h0M962.6 639.3h0M962.9 643.8h0M963.3 639.9h0M963.7 644.7h0M964.0 642.9h0M964.4 647.4h0M964.8 639.3h0M965.1 639.9h0M965.5 642.8h0M275.4 86.9h0M274.1 132.8h0M309.5 49.0h0M308.2 77.5h0M255.2 223.1h0M327.9 201.6h0M309.5 223.8h0M310.2 237.5h0M344.3 119.6h0M371.3 118.4h0M354.4 100.2h0M370.5 170.1h0M380.6 177.7h0M381.4 181.0h0M415.4 204.2h0M426.8 228.1h0M236.4 283.8h0M244.0 306.5h0M229.6 319.9h0M230.6 328.7h0M223.8 334.2h0M225.6 349.4h0M219.5 377.9h0M223.0 407.9h0M276.8 312.3h0M275.5 332.2h0M503.5 283.0h0M514.5 305.0h0M515.5 321.0h0M530.0 334.0h0M530.0 340.0h0M551.5 347.0h0M551.5 377.0h0M551.5 393.0h0M478.5 347.0h0M481.0 353.5h0M444.5 275.0h0M438.5 239.0h0M582.0 407.5h0M582.5 419.0h0M603.0 412.0h0M604.0 437.5h0M604.5 453.0h0M630.5 423.0h0M630.0 450.0h0M630.5 459.0h0M714.0 486.0h0M714.0 505.0h0M714.5 526.0h0M580.5 501.5h0M602.5 532.0h0M628.0 534.0h0M628.0 540.0h0M628.0 545.0h0M650.0 538.5h0M702.0 580.0h0M702.0 586.0h0M692.0 556.0h0M887.0 585.0h0M887.5 601.0h0M887.5 631.0h0M905.5 599.6h0M905.5 603.4h0M906.0 607.0h0M962.0 649.0h0M959.5 651.0h0M788.0 599.5h0M797.0 607.0h0"/>
<path stroke="#00f" d="M109.7 810.8h0M109.5 809.4h0M111.4 809.5h0M110.6 809.0h0M110.5 810.3h0M110.9 808.6h0M111.1 808.7h0M111.6 809.3h0M111.3 807.3h0M110.6 808.9h0M111.1 807.9h0M110.7 805.1h0M110.6 805.0h0M111.9 807.2h0M111.4 804.3h0M111.8 804.0h0M112.5 803.9h0M112.8 804.4h0M112.4 803.0h0M112.1 801.3h0M113.1 799.6h0M112.2 800.2h0M113.9 801.6h0M112.7 799.3h0M113.9 797.2h0M112.6 799.2h0M113.9 799.9h0M113.8 796.7h0M113.5 798.1h0M114.5 796.8h0M114.2 795.9h0M114.0 796.0h0M114.0 795.2h0M114.5 793.9h0M114.4 793.2h0M113.9 793.1h0M114.0 792.0h0M114.5 792.0h0M113.9 792.5h0M113.4 789.0h0M115.4 790.1h0M114.6 789.3h0M116.6 788.0h0M115.3 788.9h0M115.8 789.8h0M115.8 789.7h0M115.4 787.4h0M115.2 785.0h0M114.5 785.2h0M114.9 784.3h0M114.8 785.1h0M114.8 785.8h0M114.8 783.6h0M116.1 785.1h0M114.7 783.2h0M117.2 780.8h0M115.6 781.8h0M116.5 782.2h0M116.5 779.0h0M116.7 778.4h0M116.4 778.3h0M116.5 780.4h0M116.7 776.3h0M117.3 777.1h0M117.3 775.3h0M117.0 773.9h0M116.0 774.1h0M116.5 772.3h0M117.2 772.5h0M118.0 773.5h0M118.3 773.1h0M117.0 768.8h0M117.7 767.7h0M117.1 770.7h0M116.9 769.2h0M117.7 768.3h0M118.1 767.1h0M117.9 769.9h0M116.2 765.7h0M118.7 766.0h0M116.5 765.2h0M118.8 765.5h0M119.1 762.0h0M120.3 764.1h0M117.2 760.0h0M117.9 759.7h0M118.4 762.3h0M118.7 759.3h0M118.1 758.5h0M119.3 759.9h0M118.3 762.3h0M118.6 758.6h0M118.6 756.9h0M119.2 753.0h0M119.1 753.9h0M117.8 753.8h0M119.4 754.2h0M118.3 752.4h0M118.4 754.7h0M118.6 754.0h0M119.0 754.2h0M119.6 753.3h0M119.6 750.9h0M118.3 746.5h0M119.3 751.7h0M120.1 748.1h0M120.1 747.9h0M119.6 750.5h0M119.0 746.9h0M120.0 749.8h0M119.5 743.3h0M118.8 743.1h0M118.0 745.4h0M120.2 744.1h0M120.7 743.6h0M121.3 743.3h0M120.9 740.0h0M120.4 742.8h0M120.0 740.7h0M120.3 741.6h0M120.7 736.6h0M119.4 737.8h0M120.4 735.4h0M120.1 738.3h0M120.9 741.0h0M120.9 734.3h0M119.0 734.0h0M119.5 732.4h0M120.6 733.4h0M121.0 731.4h0M120.1 730.4h0M120.8 732.4h0M120.8 735.0h0M120.5 728.8h0M120.5 729.0h0M121.2 729.6h0M121.8 730.5h0M120.7 724.0h0M121.5 726.4h0M121.3 725.8h0M120.9 727.2h0M120.9 726.3h0M120.7 723.6h0M121.5 726.1h0M121.9 720.3h0M121.3 723.1h0M120.4 718.8h0M121.7 720.5h0M121.6 721.8h0M121.5 715.3h0M122.6 719.0h0M121.4 719.3h0M121.8 715.6h0M122.2 716.1h0M123.2 716.3h0M121.5 720.0h0M122.4 718.8h0M121.1 712.5h0M122.0 715.0h0M122.3 712.2h0M121.7 714.5h0M123.0 711.4h0M122.9 715.3h0M122.3 711.3h0M123.0 707.0h0M122.5 709.0h0M122.9 709.7h0M123.0 708.5h0M124.2 707.7h0M122.7 702.8h0M123.8 706.1h0M124.2 704.8h0M123.6 706.3h0M124.0 703.3h0M125.1 702.9h0M123.0 704.9h0M123.1 706.5h0M124.4 702.6h0M124.1 698.8h0M125.2 702.2h0M123.8 701.1h0M124.3 696.9h0M124.8 699.3h0M123.0 702.9h0M125.5 693.9h0M124.7 697.0h0M124.1 697.8h0M124.4 696.5h0M124.5 694.1h0M125.8 695.9h0M124.4 689.8h0M126.0 692.3h0M124.8 691.2h0M125.5 691.4h0M125.0 692.8h0M125.3 690.4h0M126.1 685.9h0M125.4 690.7h0M125.2 689.2h0M126.3 687.3h0M127.1 689.4h0M125.6 684.7h0M125.6 689.3h0M125.5 684.6h0M125.0 687.4h0M125.5 685.0h0M126.3 684.4h0M125.7 676.3h0M126.4 683.7h0M126.3 679.0h0M126.7 679.8h0M127.3 682.1h0M126.3 677.2h0M125.5 679.0h0M126.6 682.4h0M126.9 682.0h0M127.8 676.5h0M126.6 675.7h0M126.2 679.6h0M126.1 674.7h0M127.2 675.0h0M126.6 672.2h0M127.5 674.7h0M127.8 672.0h0M127.0 671.8h0M127.4 669.3h0M127.1 667.4h0M127.5 664.0h0M126.2 672.8h0M126.6 667.5h0M128.4 669.9h0M126.3 669.9h0M126.6 671.0h0M127.8 667.1h0M126.8 664.8h0M127.2 664.9h0M126.9 663.0h0M128.6 662.4h0M127.6 661.0h0M128.8 661.4h0M127.9 660.1h0M126.7 659.8h0M128.0 660.9h0M126.7 662.7h0M128.6 662.4h0M126.5 656.4h0M128.8 659.8h0M128.5 654.3h0M129.2 657.1h0M128.5 657.3h0M128.5 655.1h0M128.1 653.3h0M128.0 648.2h0M128.0 653.6h0M128.3 653.2h0M128.4 650.0h0M130.2 647.5h0M129.0 650.0h0M128.1 650.5h0M129.7 646.8h0M128.9 646.7h0M128.4 645.6h0M129.0 650.2h0M128.5 643.6h0M129.4 644.6h0M128.9 641.0h0M129.9 644.1h0M128.3 641.5h0M129.4 642.8h0M128.4 635.1h0M130.6 645.1h0M128.6 643.0h0M130.8 641.8h0M129.3 647.7h0M130.3 639.7h0M129.0 632.5h0M129.4 634.5h0M130.7 632.8h0M128.8 635.8h0M130.2 636.6h0M128.8 634.5h0M131.4 637.3h0M130.7 638.0h0M128.8 628.6h0M129.8 631.4h0M130.9 626.4h0M131.8 634.3h0M130.2 629.0h0M129.0 633.3h0M131.2 623.0h0M129.9 627.0h0M130.5 629.8h0M130.2 629.1h0M129.6 621.3h0M129.1 628.0h0M131.8 624.7h0M130.8 623.3h0M130.8 625.9h0M130.4 617.2h0M131.2 615.4h0M130.2 622.4h0M130.2 619.3h0M130.1 616.9h0M130.1 616.6h0M131.4 615.6h0M130.2 621.0h0M132.6 616.5h0M131.3 620.5h0M131.1 615.6h0M131.3 612.9h0M132.6 611.2h0M130.0 620.2h0M131.6 611.8h0M132.9 616.6h0M132.5 609.7h0M132.1 609.3h0M131.6 609.3h0M133.6 606.0h0M131.7 607.7h0M133.4 610.5h0M131.5 608.4h0M131.1 605.4h0M132.3 611.5h0M132.0 606.1h0M130.7 603.4h0M132.4 607.6h0M134.2 599.2h0M132.5 598.9h0M132.9 600.2h0M132.7 601.7h0M132.8 601.9h0M133.0 598.0h0M133.0 597.8h0M133.0 595.4h0M133.3 600.5h0M133.4 595.3h0M133.3 592.9h0M132.1 599.5h0M132.7 595.0h0M132.5 594.7h0M133.2 594.8h0M134.5 590.2h0M133.7 593.5h0M133.3 589.7h0M135.1 590.1h0M134.3 588.2h0M133.3 591.1h0M134.2 591.9h0M134.6 586.6h0M134.6 588.1h0M133.6 584.7h0M134.3 588.7h0M133.7 588.3h0M133.3 583.1h0M134.6 584.5h0M133.0 584.8h0M134.3 581.2h0M135.2 583.6h0M135.0 581.7h0M134.6 579.8h0M134.9 584.9h0M134.8 576.8h0M135.7 579.7h0M135.2 580.0h0M135.5 578.6h0M134.5 580.0h0M135.0 583.7h0M134.8 576.2h0M135.9 577.3h0M135.9 569.1h0M135.4 569.0h0M136.0 575.5h0M135.5 571.8h0M135.4 568.4h0M136.0 570.3h0M135.9 571.6h0M137.4 571.6h0M134.9 573.4h0M136.6 565.8h0M135.3 566.1h0M136.6 567.1h0M135.4 567.1h0M134.9 560.0h0M137.3 564.1h0M136.1 560.0h0M137.5 568.9h0M135.9 567.0h0M135.9 566.2h0M137.4 559.7h0M136.1 563.1h0M136.7 556.2h0M136.1 560.0h0M136.6 556.1h0M135.3 560.4h0M136.6 555.1h0M136.8 559.0h0M137.6 557.4h0M137.7 560.2h0M137.0 562.6h0M137.2 559.5h0M137.2 553.3h0M138.8 552.7h0M136.8 559.3h0M137.9 556.9h0M137.5 557.1h0M136.6 548.8h0M137.9 553.7h0M138.4 553.6h0M137.8 547.1h0M136.8 550.6h0M138.1 545.5h0M138.2 543.9h0M137.5 548.4h0M138.4 552.1h0M136.7 545.9h0M137.0 535.5h0M137.7 547.6h0M138.0 537.3h0M138.6 544.5h0M138.7 545.1h0M137.5 534.7h0M138.8 541.6h0M139.2 547.7h0M138.8 543.9h0M138.1 541.2h0M138.1 539.4h0M137.7 531.3h0M137.0 531.8h0M137.8 535.0h0M137.4 532.4h0M138.6 535.5h0M138.6 539.6h0M138.8 532.0h0M138.8 532.3h0M138.9 526.9h0M138.2 528.7h0M138.4 524.5h0M139.0 530.2h0M139.7 529.3h0M137.5 529.0h0M138.0 529.9h0M138.6 521.2h0M138.1 524.3h0M138.5 529.3h0M138.9 526.2h0M138.4 514.9h0M139.5 512.4h0M139.5 515.6h0M139.6 520.2h0M139.4 513.3h0M139.7 519.6h0M137.1 523.6h0M139.8 517.6h0M138.6 521.9h0M140.8 517.4h0M138.8 506.1h0M139.6 512.8h0M138.4 513.5h0M138.6 510.2h0M139.6 514.9h0M139.8 511.2h0M140.6 515.9h0M140.2 516.8h0M140.5 512.3h0M141.1 514.8h0M138.7 518.7h0M140.8 510.4h0M139.3 512.1h0M140.1 510.8h0M139.8 499.8h0M140.6 502.7h0M140.6 500.4h0M140.4 505.0h0M139.8 508.0h0M138.9 506.7h0M140.2 513.9h0M140.3 502.9h0M140.7 499.0h0M141.7 506.0h0M140.8 501.6h0M141.2 500.1h0M142.5 456.0h0M143.3 456.5h0M143.3 454.4h0M143.1 457.0h0M143.5 456.3h0M142.5 457.9h0M143.5 454.6h0M144.1 450.4h0M143.3 456.6h0M144.9 456.7h0M144.4 447.3h0M145.1 449.9h0M144.2 456.2h0M144.8 447.3h0M144.3 447.9h0M143.7 438.2h0M144.9 444.2h0M144.1 443.9h0M145.0 447.8h0M144.0 451.6h0M144.8 446.6h0M144.6 446.8h0M145.7 446.3h0M144.7 438.2h0M145.8 448.8h0M145.4 433.9h0M146.2 447.4h0M144.9 448.9h0M145.9 436.0h0M146.0 441.5h0M145.9 443.3h0M145.7 436.8h0M146.5 440.9h0M144.7 437.0h0M146.2 439.0h0M145.3 435.6h0M146.2 440.1h0M146.5 431.5h0M146.2 436.8h0M145.8 433.4h0M145.4 444.8h0M145.1 430.1h0M145.7 435.1h0M146.6 432.6h0M145.3 432.7h0M148.2 433.3h0M146.4 434.9h0M146.0 424.0h0M147.3 431.0h0M147.4 428.9h0M147.0 429.0h0M146.3 430.5h0M146.9 420.1h0M147.8 429.0h0M147.5 422.8h0M145.7 428.4h0M147.7 431.4h0M148.4 430.9h0M146.8 419.6h0M146.0 432.4h0M146.9 430.3h0M147.6 423.9h0M147.4 416.7h0M147.5 423.2h0M145.5 412.7h0M147.3 418.9h0M147.3 418.6h0M147.8 408.2h0M148.7 413.3h0M147.4 417.7h0M148.8 417.7h0M149.1 409.6h0M148.9 405.8h0M147.9 414.3h0M149.2 413.0h0M148.1 405.5h0M148.3 414.6h0M147.4 407.7h0M147.9 408.0h0M148.0 409.6h0M149.6 413.2h0M149.0 420.6h0M149.0 407.8h0M148.6 413.1h0M148.6 404.1h0M148.3 408.0h0M148.8 406.6h0M150.1 395.5h0M149.0 399.1h0M150.7 407.7h0M149.7 396.8h0M149.1 403.0h0M150.3 407.7h0M149.5 398.8h0M150.2 398.9h0M149.2 392.8h0M150.7 391.8h0M150.0 390.7h0M149.9 400.2h0M150.5 395.9h0M149.5 405.0h0M148.5 392.4h0M149.4 394.8h0M150.7 405.3h0M151.2 388.6h0M149.2 389.0h0M150.6 400.0h0M150.7 403.1h0M149.4 391.6h0M149.2 387.6h0M151.6 388.9h0M150.7 379.4h0M150.3 373.4h0M150.9 385.7h0M149.5 386.8h0M150.9 387.5h0M150.6 372.1h0M150.5 383.3h0M151.6 378.7h0M150.9 376.9h0M150.9 375.3h0M150.6 378.2h0M150.4 368.9h0M151.0 375.9h0M152.1 377.5h0M149.8 384.3h0M150.4 379.3h0M150.8 376.8h0M151.7 369.6h0M150.8 378.6h0M151.8 373.1h0M149.9 375.0h0M150.7 389.3h0M152.0 370.9h0M149.9 361.5h0M151.8 379.9h0M152.6 363.6h0M152.2 377.2h0M152.3 371.7h0M151.3 369.1h0M151.5 362.1h0M152.7 367.2h0M152.3 366.1h0M153.3 360.1h0M152.4 359.0h0M152.3 365.2h0M152.3 360.6h0M153.4 354.4h0M153.1 359.2h0M152.1 367.7h0M153.0 360.5h0M152.0 369.7h0M153.3 345.9h0M152.6 357.7h0M153.8 368.6h0M153.9 360.5h0M153.5 354.4h0M151.9 352.0h0M152.7 356.7h0M153.4 357.8h0M153.4 360.5h0M153.6 348.3h0M154.1 345.3h0M153.0 350.5h0M152.7 350.7h0M152.6 350.4h0M154.5 354.2h0M154.4 352.5h0M153.5 345.9h0M153.9 347.2h0M154.9 345.5h0M153.8 352.4h0M154.6 342.0h0M154.8 352.9h0M154.4 337.7h0M154.9 346.3h0M155.2 342.5h0M154.2 348.3h0M153.4 343.8h0M154.5 347.5h0M153.6 341.0h0M153.6 353.0h0M155.4 333.3h0M154.2 338.9h0M154.7 335.0h0M155.2 339.7h0M154.5 335.0h0M155.7 342.2h0M156.7 342.9h0M154.8 339.2h0M155.5 345.5h0M153.7 330.1h0M155.0 336.9h0M157.0 335.5h0M155.8 339.0h0M155.6 329.3h0M156.4 325.3h0M155.9 333.8h0M157.3 333.6h0M156.2 328.3h0M156.0 328.4h0M156.3 340.4h0M154.8 334.6h0M157.1 320.2h0M157.2 311.1h0M155.6 312.3h0M155.1 330.4h0M156.8 320.4h0M157.5 308.7h0M158.5 308.2h0M156.9 331.4h0M157.1 329.2h0M157.8 320.9h0M158.9 306.3h0M157.4 330.4h0M157.9 329.7h0M157.8 311.4h0M159.2 304.9h0M159.7 307.5h0M160.3 319.7h0M160.1 318.5h0M159.7 304.8h0M158.8 322.0h0M159.7 303.9h0M160.4 305.3h0M160.2 301.4h0M159.2 309.0h0M159.8 319.1h0M159.8 321.7h0M161.0 306.9h0M160.6 307.5h0M160.3 306.8h0M161.2 326.6h0M161.2 303.6h0M160.6 320.8h0M162.0 301.8h0M161.5 318.4h0M161.5 305.8h0M161.1 350.1h0M162.1 304.4h0M162.5 328.0h0M160.8 311.0h0M162.1 331.7h0M162.6 305.5h0M163.4 304.2h0M162.4 305.5h0M165.0 328.6h0M163.6 325.3h0M163.4 307.8h0M164.2 303.6h0M165.2 311.5h0M164.8 318.0h0M164.5 307.3h0M165.4 301.4h0M165.7 314.0h0M165.8 306.2h0M165.2 299.4h0M166.3 342.1h0M169.2 309.9h0M166.3 301.9h0M166.8 327.5h0M165.3 307.6h0M167.0 304.8h0M167.4 330.1h0M167.0 305.2h0M167.4 303.0h0M166.9 342.9h0M168.4 316.5h0M168.0 300.9h0M167.3 352.9h0M168.1 316.4h0M168.7 348.7h0M168.8 302.1h0M170.6 317.3h0M168.9 308.2h0M169.2 316.5h0M168.7 302.1h0M169.9 309.1h0M169.0 352.3h0M170.1 337.9h0M169.5 306.8h0M169.5 301.9h0M169.7 308.2h0M171.8 328.0h0M169.7 342.2h0M171.4 308.4h0M170.9 306.3h0M170.1 308.6h0M170.9 305.2h0M170.7 310.0h0M171.6 345.7h0M172.3 305.4h0M173.0 308.2h0M171.3 342.1h0M171.4 322.0h0M171.5 323.8h0M172.1 345.1h0M171.6 307.3h0M173.6 306.8h0M172.4 310.5h0M172.4 306.9h0M170.5 305.2h0M172.9 338.8h0M172.2 307.9h0M174.7 324.8h0M173.6 331.4h0M172.9 352.6h0M173.7 309.3h0M174.8 331.2h0M173.8 340.6h0M174.2 332.6h0M172.4 309.1h0M173.3 312.3h0M173.0 344.8h0M174.3 340.1h0M173.1 313.2h0M173.0 354.7h0M174.0 337.1h0M174.3 345.7h0M174.9 348.3h0M175.8 336.8h0M175.6 338.0h0M174.9 351.4h0M175.1 342.7h0M173.7 308.3h0M176.0 351.3h0M174.6 351.1h0M175.0 347.8h0M175.3 337.4h0M174.8 348.1h0M175.4 348.8h0M176.4 366.4h0M176.8 347.3h0M177.2 343.9h0M176.6 358.0h0M175.7 346.4h0M176.5 349.6h0M175.5 347.4h0M174.6 353.2h0M176.8 353.6h0M176.1 338.2h0M176.2 343.1h0M175.9 361.5h0M178.1 366.9h0M176.9 354.3h0M177.8 354.5h0M177.1 357.3h0M177.3 359.5h0M177.3 350.0h0M178.3 379.2h0M176.0 366.8h0M177.2 357.2h0M177.0 358.7h0M177.9 359.3h0M177.2 367.9h0M177.7 352.9h0M177.3 358.1h0M177.2 359.6h0M178.2 362.8h0M178.7 375.4h0M178.3 370.6h0M177.1 375.8h0M177.6 368.4h0M178.8 378.6h0M178.1 370.2h0M179.0 374.8h0M178.6 371.6h0M179.7 386.0h0M177.9 379.7h0M178.9 372.9h0M179.4 369.9h0M179.3 382.7h0M178.0 371.5h0M178.4 360.4h0M178.8 377.8h0M178.4 382.3h0M178.9 389.6h0M178.9 388.9h0M179.1 382.9h0M179.2 382.0h0M179.0 377.3h0M180.2 370.2h0M180.4 387.3h0M179.7 380.8h0M180.8 373.8h0M180.8 379.8h0M179.8 382.5h0M181.4 383.4h0M181.3 393.0h0M180.9 394.1h0M180.1 381.6h0M180.7 378.5h0M180.2 380.8h0M181.2 381.6h0M180.5 378.6h0M180.0 380.1h0M180.0 391.8h0M180.5 388.7h0M180.3 404.5h0M181.4 385.2h0M181.7 391.1h0M181.4 392.0h0M181.1 387.3h0M181.2 401.7h0M181.1 393.6h0M181.0 400.2h0M182.0 386.4h0M181.3 403.9h0M182.2 400.4h0M181.2 395.0h0M181.1 388.2h0M182.3 399.0h0M184.1 407.8h0M182.3 404.3h0M181.7 398.7h0M183.5 398.1h0M182.5 409.1h0M182.3 395.8h0M181.8 408.3h0M183.3 409.2h0M182.5 405.5h0M182.3 412.0h0M182.8 412.7h0M183.9 407.5h0M183.8 420.8h0M182.4 409.7h0M181.9 415.1h0M184.6 407.0h0M183.6 414.8h0M185.1 404.8h0M184.0 408.6h0M184.1 408.3h0M183.8 410.5h0M184.0 417.3h0M184.2 410.8h0M184.1 410.1h0M185.4 413.5h0M184.2 412.9h0M184.1 413.4h0M185.3 417.4h0M183.9 419.6h0M184.4 416.5h0M184.8 416.9h0M183.7 414.8h0M185.2 412.2h0M184.9 421.3h0M185.7 422.7h0M185.3 409.7h0M184.3 421.6h0M184.3 422.1h0M184.8 427.1h0M185.3 421.0h0M185.4 436.0h0M185.5 428.5h0M186.1 426.3h0M184.9 429.5h0M185.5 424.9h0M187.1 420.5h0M186.1 425.4h0M186.2 430.1h0M186.8 441.9h0M185.5 433.7h0M186.7 423.2h0M186.5 422.3h0M186.1 428.0h0M186.9 427.1h0M187.9 428.1h0M187.2 441.1h0M186.9 435.9h0M188.3 437.2h0M187.6 431.7h0M188.7 429.6h0M188.4 435.9h0M187.6 426.6h0M187.2 438.1h0M187.5 440.8h0M188.6 441.6h0M187.0 450.2h0M189.7 436.0h0M186.2 443.2h0M188.5 437.5h0M189.0 439.2h0M187.7 439.3h0M186.8 451.6h0M188.1 445.4h0M188.2 445.4h0M189.3 442.9h0M188.7 450.6h0M189.0 451.4h0M188.8 440.3h0M190.1 454.5h0M188.8 446.4h0M189.1 454.0h0M189.5 444.6h0M191.4 451.9h0M187.2 452.0h0M187.9 455.5h0M189.2 461.5h0M189.0 442.5h0M189.8 452.7h0M190.5 445.2h0M190.5 450.0h0M189.9 459.1h0M189.7 457.4h0M190.2 452.3h0M189.9 455.4h0M192.0 459.9h0M191.5 455.0h0M190.6 453.1h0M191.3 451.9h0M190.6 450.0h0M191.0 458.7h0M191.2 461.6h0M190.4 462.1h0M191.3 474.1h0M190.9 454.6h0M191.9 453.7h0M190.8 482.0h0M191.2 462.6h0M192.2 466.7h0M193.0 465.8h0M192.4 474.2h0M192.3 466.5h0M191.1 477.1h0M191.8 463.9h0M192.4 462.9h0M192.4 462.0h0M192.6 477.5h0M193.4 475.6h0M193.7 473.3h0M192.4 463.9h0M192.3 472.5h0M191.8 464.1h0M193.1 471.6h0M193.6 469.8h0M194.2 481.1h0M192.8 482.8h0M193.1 479.0h0M192.9 481.7h0M195.2 483.7h0M194.9 474.0h0M193.5 469.5h0M194.1 481.7h0M193.4 479.1h0M193.8 472.4h0M195.8 479.3h0M194.1 476.5h0M194.2 477.2h0M194.4 475.4h0M193.5 476.3h0M193.4 481.1h0M193.2 488.0h0M195.5 478.3h0M194.3 489.7h0M194.5 484.1h0M195.7 483.1h0M194.3 471.7h0M194.9 482.9h0M194.7 484.8h0M195.7 489.3h0M195.3 489.0h0M194.3 496.3h0M196.4 500.3h0M196.7 490.8h0M196.0 489.9h0M195.7 493.6h0M195.9 493.2h0M195.2 493.8h0M195.9 484.6h0M197.0 496.8h0M196.5 485.1h0M195.4 498.3h0M195.5 496.6h0M196.4 496.4h0M197.6 493.9h0M197.1 490.3h0M196.8 493.0h0M197.6 493.1h0M196.5 497.5h0M197.4 499.5h0M196.9 500.7h0M196.4 506.2h0M197.8 491.0h0M196.5 502.3h0M197.5 506.0h0M198.4 508.8h0M196.8 505.2h0M198.7 509.5h0M198.9 500.3h0M198.6 500.2h0M197.9 509.5h0M198.0 500.9h0M198.1 503.7h0M198.3 506.5h0M197.7 507.4h0M198.7 510.6h0M199.7 505.6h0M197.7 518.3h0M200.0 507.7h0M198.0 512.0h0M198.3 523.0h0M198.7 514.5h0M199.1 512.9h0M199.3 511.3h0M200.5 514.4h0M199.8 519.8h0M200.3 515.0h0M199.2 516.1h0M200.0 532.2h0M198.4 523.1h0M198.9 520.3h0M201.6 522.2h0M199.9 519.0h0M200.5 511.2h0M200.8 521.0h0M200.7 523.8h0M199.3 522.7h0M200.5 527.1h0M202.1 526.2h0M201.3 527.5h0M200.3 522.2h0M200.8 527.8h0M200.5 525.5h0M201.0 525.1h0M201.1 531.8h0M201.1 525.2h0M200.6 521.3h0M200.0 530.1h0M201.7 528.4h0M201.6 525.3h0M201.9 525.0h0M202.4 530.1h0M201.5 532.9h0M202.7 530.2h0M201.8 537.9h0M202.7 537.3h0M202.6 536.8h0M201.6 533.1h0M203.0 540.5h0M202.7 535.1h0M202.5 544.0h0M202.4 541.7h0M202.6 541.8h0M202.1 536.2h0M201.9 531.6h0M202.8 546.6h0M203.5 539.4h0M202.9 541.6h0M203.7 539.9h0M202.1 544.7h0M204.5 539.3h0M203.6 552.4h0M203.3 540.1h0M203.6 538.6h0M203.9 548.8h0M203.8 545.3h0M204.1 551.3h0M203.0 548.5h0M204.4 548.9h0M203.9 559.7h0M203.3 545.4h0M204.8 546.8h0M204.3 542.5h0M205.5 551.2h0M204.0 550.9h0M205.5 547.1h0M205.1 560.2h0M204.2 551.0h0M205.5 555.3h0M205.3 546.6h0M205.7 555.7h0M204.7 551.5h0M203.4 558.0h0M204.9 570.1h0M205.4 551.7h0M206.1 553.7h0M206.3 543.9h0M206.5 560.5h0M206.1 555.0h0M205.8 564.4h0M205.5 564.3h0M206.2 557.8h0M205.6 558.8h0M206.2 555.5h0M205.9 566.4h0M206.7 550.0h0M206.0 562.6h0M205.9 561.0h0M206.0 570.3h0M206.9 566.2h0M206.2 568.9h0M207.5 565.7h0M206.0 556.8h0M207.0 566.2h0M206.6 563.4h0M206.1 559.7h0M206.9 572.3h0M207.4 570.4h0M207.6 572.1h0M207.0 573.3h0M206.5 570.1h0M206.8 559.1h0M207.0 577.6h0M208.8 583.4h0M206.7 578.0h0M207.6 575.0h0M209.3 571.8h0M207.0 575.8h0M209.0 576.4h0M209.0 573.9h0M208.6 558.9h0M208.5 583.1h0M206.9 581.7h0M208.2 562.9h0M208.1 584.2h0M209.3 586.1h0M209.3 584.4h0M207.7 584.0h0M206.8 568.8h0M208.1 587.1h0M210.2 588.9h0M208.9 587.9h0M208.9 579.4h0M209.5 594.3h0M208.9 587.1h0M209.4 585.1h0M208.6 590.9h0M208.8 584.3h0M209.8 595.0h0M209.6 594.6h0M210.1 588.5h0M209.7 588.0h0M210.4 591.1h0M210.1 595.2h0M210.2 599.6h0M210.8 599.3h0M210.2 591.7h0M209.3 601.3h0M209.7 593.3h0M210.2 596.9h0M211.2 594.4h0M210.1 597.2h0M210.5 601.2h0M211.7 599.8h0M211.9 601.8h0M210.0 605.3h0M210.2 602.3h0M211.1 602.4h0M211.4 606.6h0M211.0 563.9h0M210.4 584.7h0M213.2 604.4h0M212.0 608.9h0M212.9 600.2h0M212.5 608.1h0M212.5 602.7h0M210.9 606.0h0M212.6 603.4h0M212.6 607.3h0M212.7 612.6h0M212.1 605.1h0M211.9 596.9h0M212.9 614.3h0M213.5 616.0h0M213.9 603.3h0M213.4 613.7h0M212.1 600.2h0M213.2 617.6h0M213.3 604.2h0M213.2 611.7h0M213.0 611.1h0M214.4 614.4h0M213.6 611.6h0M214.3 617.7h0M214.8 604.0h0M213.9 617.2h0M214.4 619.0h0M214.3 615.4h0M215.7 609.5h0M214.5 617.8h0M214.0 620.1h0M216.0 623.1h0M213.7 608.1h0M216.6 623.6h0M216.0 620.3h0M216.1 625.3h0M216.3 622.5h0M216.2 626.5h0M216.6 624.6h0M214.6 622.3h0M216.3 620.9h0M215.8 619.0h0M215.4 624.8h0M216.0 625.0h0M216.7 621.7h0M217.3 629.3h0M216.6 630.9h0M216.7 625.1h0M218.5 625.2h0M218.1 623.0h0M217.1 623.9h0M217.3 624.9h0M218.1 627.9h0M218.7 630.8h0M217.8 627.7h0M218.3 637.8h0M219.1 633.1h0M217.5 637.9h0M218.8 634.4h0M218.7 643.1h0M218.2 633.5h0M219.2 635.6h0M219.8 632.5h0M219.1 641.4h0M219.0 638.1h0M220.5 634.2h0M219.8 643.5h0M219.2 639.3h0M220.1 646.0h0M220.5 634.1h0M220.0 643.4h0M218.9 624.6h0M220.0 640.7h0M219.7 647.7h0M221.7 642.6h0M220.2 648.3h0M222.1 642.3h0M221.0 640.1h0M221.1 645.3h0M221.3 645.8h0M222.4 650.5h0M220.6 645.6h0M221.2 645.6h0M221.4 645.1h0M222.0 646.5h0M221.4 653.8h0M222.0 653.4h0M222.7 650.3h0M221.9 648.7h0M223.2 653.6h0M222.4 653.0h0M222.4 651.0h0M223.1 652.5h0M222.5 644.6h0M223.2 637.5h0M222.5 653.0h0M222.2 654.7h0M223.4 655.3h0M223.8 656.6h0M223.3 658.2h0M224.1 653.4h0M223.3 659.5h0M225.2 657.2h0M223.6 648.6h0M224.3 661.3h0M224.0 659.2h0M224.1 644.3h0M223.7 656.6h0M225.4 663.7h0M224.4 660.4h0M224.2 661.1h0M225.6 660.5h0M225.6 665.6h0M224.5 663.4h0M225.6 668.2h0M226.1 664.4h0M225.6 662.7h0M224.7 662.2h0M225.6 672.9h0M225.3 668.5h0M225.1 666.9h0M226.2 673.2h0M226.6 651.9h0M224.7 668.5h0M226.2 674.5h0M226.0 657.1h0M227.0 669.6h0M226.4 676.6h0M226.0 674.3h0M228.1 674.3h0M227.1 673.1h0M228.3 665.6h0M227.7 672.5h0M227.1 675.7h0M226.8 674.7h0M226.9 673.8h0M227.9 669.6h0M228.4 679.7h0M229.3 674.4h0M227.7 679.4h0M228.8 679.8h0M229.4 671.8h0M230.0 683.2h0M229.8 679.2h0M229.7 682.2h0M229.9 678.2h0M228.7 679.4h0M229.8 683.3h0M229.0 682.6h0M231.6 681.7h0M230.9 681.0h0M230.3 673.8h0M230.3 668.9h0M230.5 683.0h0M231.3 684.1h0M230.8 685.7h0M231.1 683.3h0M230.7 684.0h0M231.9 685.4h0M232.1 686.2h0M231.1 685.1h0M232.4 685.6h0M232.0 690.4h0M232.9 687.1h0M233.1 658.8h0M232.2 690.9h0M233.2 685.5h0M233.7 687.0h0M232.2 675.4h0M233.2 690.6h0M232.6 690.8h0M234.0 689.7h0M232.5 693.7h0M234.5 693.4h0M233.8 697.5h0M234.6 695.6h0M235.8 684.6h0M234.5 695.3h0M234.0 695.6h0M234.0 691.6h0M235.5 691.6h0M234.2 689.6h0M234.3 698.6h0M235.7 657.9h0M236.5 697.5h0M236.0 700.6h0M237.3 698.5h0M237.0 700.1h0M236.8 699.7h0M236.7 674.3h0M236.9 697.4h0M237.1 701.1h0M237.6 697.4h0M237.2 702.5h0M236.2 694.1h0M236.2 704.7h0M236.8 695.5h0M237.7 704.1h0M236.7 706.2h0M237.8 692.9h0M238.3 704.4h0M239.1 707.3h0M237.8 709.1h0M237.9 704.8h0M237.9 694.9h0M238.1 706.7h0M238.8 704.1h0M240.3 709.0h0M237.1 709.7h0M239.5 693.7h0M239.9 710.1h0M240.8 708.3h0M240.9 708.5h0M240.4 713.1h0M239.1 715.5h0M239.9 707.6h0M240.4 711.8h0M240.2 714.1h0M241.5 712.4h0M240.7 707.8h0M240.5 699.1h0M241.4 719.6h0M242.2 715.7h0M241.3 711.8h0M241.2 714.0h0M241.5 690.5h0M242.3 715.6h0M242.6 715.6h0M242.1 702.3h0M242.2 719.6h0M243.4 718.9h0M244.6 718.4h0M245.1 717.4h0M245.1 720.4h0M243.1 719.1h0M243.9 708.9h0M243.9 717.6h0M243.7 720.3h0M243.9 719.3h0M244.4 723.5h0M244.9 722.2h0M245.7 722.3h0M245.9 719.0h0M244.9 727.7h0M245.1 725.8h0M246.1 727.6h0M246.1 727.2h0M245.4 724.9h0M246.0 726.8h0M244.9 726.6h0M246.5 726.8h0M245.6 711.9h0M246.8 725.9h0M244.8 727.3h0M247.0 730.0h0M246.3 729.7h0M246.9 728.6h0M247.6 730.8h0M247.2 713.5h0M249.0 709.7h0M248.7 731.8h0M247.9 731.8h0M249.6 733.7h0M248.5 731.4h0M248.9 733.5h0M250.2 734.2h0M250.4 733.7h0M249.3 729.4h0M250.0 729.0h0M249.6 735.5h0M250.5 736.6h0M249.9 733.7h0M251.0 705.3h0M249.2 733.6h0M250.9 737.5h0M251.6 734.5h0M251.1 733.0h0M250.0 737.8h0M251.5 733.3h0M250.8 736.5h0M251.4 733.8h0M252.0 734.1h0M253.4 740.4h0M252.2 736.8h0M251.7 732.2h0M253.9 739.3h0M252.7 739.3h0M252.6 742.5h0M253.1 735.7h0M253.3 741.4h0M254.6 743.9h0M252.3 741.2h0M253.4 741.8h0M254.8 739.7h0M254.5 744.8h0M254.5 704.6h0M253.5 733.0h0M255.6 743.2h0M254.8 744.1h0M256.4 744.3h0M254.0 745.9h0M256.1 746.7h0M256.4 743.1h0M257.4 749.7h0M256.5 744.3h0M256.2 745.6h0M257.0 746.2h0M256.8 745.1h0M257.4 747.2h0M256.0 747.1h0M257.7 746.8h0M258.0 743.9h0M258.2 746.9h0M258.3 747.4h0M259.8 749.4h0M260.1 748.8h0M259.7 751.5h0M259.2 728.7h0M260.3 750.4h0M259.7 752.7h0M259.5 751.3h0M259.6 750.7h0M260.1 753.5h0M261.4 754.5h0M261.5 752.7h0M261.7 753.9h0M261.3 754.9h0M260.8 753.5h0M261.6 722.9h0M261.6 754.1h0M261.4 752.8h0M262.8 754.4h0M261.1 755.0h0M261.5 757.3h0M261.8 753.8h0M262.5 756.7h0M263.0 753.8h0M263.8 757.8h0M264.1 757.1h0M263.4 759.6h0M263.5 757.3h0M264.2 760.4h0M265.0 758.4h0M264.8 756.1h0M265.2 758.0h0M265.6 761.5h0M265.4 758.3h0M265.4 762.0h0M264.2 761.0h0M265.4 761.6h0M265.1 761.7h0M265.7 761.5h0M266.2 765.5h0M267.1 760.4h0M267.6 762.6h0M266.5 764.3h0M267.7 762.5h0M267.9 761.1h0M266.4 765.2h0M268.2 762.9h0M268.1 764.4h0M267.1 764.4h0M268.7 765.7h0M269.3 765.0h0M269.6 764.5h0M268.9 768.1h0M270.0 767.2h0M270.5 767.1h0M270.4 767.5h0M269.2 769.5h0M271.0 768.1h0M270.2 769.2h0M270.4 767.2h0M271.9 768.1h0M272.3 768.1h0M272.6 768.1h0M269.7 769.6h0M272.9 770.6h0M270.6 768.4h0M272.8 770.3h0M271.7 770.9h0M273.0 767.8h0M273.8 772.6h0M273.1 769.5h0M273.3 769.0h0M273.6 771.7h0M273.8 772.4h0M274.0 771.2h0M274.2 773.2h0M274.5 775.1h0M274.7 770.9h0M274.9 770.5h0M275.1 774.9h0M275.4 772.2h0M275.6 773.2h0M275.8 773.8h0M276.1 772.9h0M276.3 774.8h0M276.5 774.9h0M276.7 774.5h0M277.0 774.5h0M277.2 778.6h0M277.4 773.7h0M277.7 774.8h0M277.9 774.4h0M278.1 776.3h0M278.4 777.8h0M278.6 775.8h0M278.8 776.1h0M279.1 775.7h0M279.3 776.3h0M279.5 778.7h0M279.8 779.3h0M280.0 778.3h0M280.2 777.6h0M280.5 778.5h0M280.7 779.4h0M280.9 778.7h0M281.2 781.6h0M281.4 779.5h0M281.7 782.5h0M281.9 777.5h0M282.1 782.4h0M282.4 777.7h0M282.6 779.2h0M282.8 779.2h0M283.1 779.7h0M283.3 781.5h0M283.5 781.1h0M283.8 779.3h0M284.0 783.1h0M284.3 782.2h0M284.5 780.8h0M284.7 783.2h0M285.0 780.2h0M285.2 784.3h0M285.5 783.9h0M285.7 783.0h0M285.9 784.3h0M286.2 783.9h0M286.4 783.7h0M286.7 784.2h0M286.9 783.7h0M287.2 783.8h0M287.4 784.1h0M287.6 784.4h0M287.9 784.8h0M288.1 784.7h0M288.4 784.8h0M288.6 784.4h0M288.8 783.5h0M289.1 786.7h0M289.3 783.7h0M289.6 785.1h0M289.8 785.1h0M290.1 787.3h0M290.3 786.4h0M290.5 786.6h0M290.8 787.5h0M291.0 786.5h0M291.3 789.0h0M291.5 788.8h0M291.8 786.9h0M292.0 787.7h0M292.2 790.2h0M292.5 788.1h0M292.7 788.6h0M293.0 788.0h0M293.2 789.3h0M293.5 789.4h0M293.7 790.7h0M293.9 789.9h0M294.2 790.4h0M294.4 789.6h0M294.7 792.6h0M294.9 790.6h0M295.2 789.5h0M295.4 793.9h0M295.7 790.4h0M295.9 790.8h0M296.2 791.3h0M296.4 791.3h0M296.6 792.6h0M296.9 791.1h0M297.1 791.9h0M297.4 794.3h0M297.6 791.8h0M297.9 794.0h0M298.1 794.0h0M298.4 792.7h0M298.6 793.7h0M298.9 793.3h0M299.1 793.3h0M299.4 793.9h0M299.6 793.5h0M299.9 795.8h0M300.1 792.5h0M300.4 793.5h0M300.6 795.3h0M300.9 795.0h0M301.1 793.3h0M301.4 796.0h0M301.6 797.0h0M301.9 793.2h0M302.1 794.1h0M302.4 795.3h0M302.6 794.0h0M302.9 795.4h0M303.1 795.3h0M303.4 795.6h0M303.6 795.6h0M303.9 797.5h0M304.1 796.6h0M304.4 796.4h0M304.6 798.0h0M304.9 798.4h0M305.2 797.3h0M305.4 795.7h0M305.7 797.6h0M305.9 796.5h0M306.2 796.4h0M306.4 796.4h0M306.7 797.3h0M306.9 799.9h0M307.2 800.4h0M307.5 799.5h0M307.7 798.7h0M308.0 798.7h0M308.2 799.2h0M308.5 799.2h0M308.7 798.3h0M309.0 800.3h0M309.2 798.6h0M309.5 798.7h0M309.8 801.2h0M310.0 799.4h0M310.3 799.7h0M310.5 799.2h0M310.8 799.4h0M311.0 802.2h0M311.3 798.2h0M311.6 800.1h0M311.8 799.3h0M312.1 799.5h0M312.3 801.6h0M312.6 800.7h0M312.9 801.0h0M313.1 798.7h0M313.4 802.3h0M313.6 799.5h0M313.9 800.3h0M314.1 801.4h0M314.4 802.5h0M314.7 801.7h0M314.9 801.0h0M315.2 802.7h0M315.4 801.6h0M315.7 801.3h0M316.0 801.3h0M316.2 802.5h0M316.5 801.6h0M316.7 801.6h0M317.0 804.5h0M317.3 803.7h0M317.5 804.1h0M317.8 803.5h0M318.0 802.1h0M318.3 802.4h0M318.6 802.7h0M318.8 803.7h0M319.1 802.2h0M319.3 804.9h0M319.6 804.8h0M319.9 802.8h0M320.1 803.9h0M320.4 802.6h0M320.6 802.9h0M320.9 802.9h0M321.2 804.7h0M321.4 804.6h0M321.7 805.7h0M321.9 804.2h0M322.2 804.3h0M322.5 804.9h0M322.7 804.7h0M323.0 804.3h0M323.3 803.7h0M323.5 805.2h0M323.8 805.3h0M324.0 804.9h0M324.3 804.3h0M324.6 803.1h0M324.8 804.1h0M325.1 807.4h0M325.4 806.8h0M325.6 806.0h0M325.9 807.7h0M326.1 804.7h0M326.4 806.3h0M326.7 806.7h0M326.9 805.7h0M327.2 805.3h0M327.5 806.0h0M327.7 805.7h0M328.0 804.9h0M328.3 806.8h0M328.5 805.9h0M328.8 807.7h0M329.0 807.1h0M329.3 805.1h0M329.6 806.8h0M329.8 807.1h0M330.1 805.4h0M330.4 806.6h0M330.6 805.4h0M330.9 804.5h0M331.2 804.3h0M331.4 806.6h0M331.7 806.1h0M332.0 807.0h0M332.2 804.9h0M332.5 806.0h0M332.7 804.0h0M333.0 807.0h0M333.3 806.7h0M333.5 809.3h0M333.8 807.4h0M334.0 807.1h0M334.3 806.1h0M334.5 805.6h0M334.8 807.2h0M335.1 806.6h0M335.3 806.0h0M335.6 806.6h0M335.9 805.9h0M336.1 805.1h0M336.4 807.1h0M336.7 806.3h0M336.9 805.5h0M337.2 806.5h0M337.5 805.2h0M337.7 806.8h0M338.0 805.6h0M338.3 806.3h0M338.5 806.0h0M338.8 807.1h0M339.1 805.6h0M339.3 807.6h0M339.6 805.6h0M339.9 806.5h0M340.1 806.3h0M340.4 805.4h0M340.7 807.7h0M340.9 805.8h0M341.2 806.2h0M341.4 806.9h0M341.7 805.8h0M342.0 806.5h0M342.2 804.8h0M342.5 806.9h0M342.8 805.1h0M343.0 805.2h0M343.3 806.1h0M343.6 806.9h0M343.8 806.3h0M344.1 807.4h0M344.4 806.9h0M344.6 806.8h0M344.9 805.9h0M345.2 807.4h0M345.4 805.8h0M345.7 806.5h0M346.0 805.3h0M346.2 805.6h0M346.5 806.6h0M346.8 805.8h0M347.0 805.8h0M347.3 806.4h0M347.5 806.1h0M347.8 806.0h0M348.1 806.7h0M348.3 806.8h0M348.6 805.6h0M348.9 807.2h0M349.1 805.3h0M349.4 804.9h0M349.7 806.0h0M349.9 805.2h0M350.2 806.2h0M350.5 804.9h0M350.7 802.8h0M351.0 805.0h0M351.3 805.4h0M351.5 805.3h0M351.8 806.5h0M352.0 805.8h0M352.3 805.4h0M352.6 805.7h0M352.8 805.0h0M353.1 803.9h0M353.4 806.2h0M353.6 805.5h0M353.9 804.7h0M354.2 805.8h0M354.4 805.5h0M354.7 804.2h0M354.9 804.1h0M355.2 804.2h0M355.5 805.3h0M355.7 803.9h0M356.0 803.5h0M356.3 804.6h0M356.5 804.1h0M356.8 804.3h0M357.0 804.2h0M357.3 804.3h0M357.6 803.4h0M357.8 804.4h0M358.1 802.0h0M358.3 802.9h0M358.6 803.6h0M358.9 801.2h0M359.1 803.0h0M359.4 805.1h0M359.6 801.9h0M359.9 802.2h0M360.1 802.7h0M360.4 802.5h0M360.7 803.0h0M360.9 803.5h0M361.2 803.3h0M361.4 799.8h0M361.7 802.6h0M362.0 801.8h0M362.2 800.1h0M362.5 802.4h0M362.7 801.7h0M363.0 801.9h0M363.2 802.8h0M363.5 800.8h0M363.8 800.6h0M364.0 801.3h0M364.3 801.1h0M364.5 800.2h0M364.8 800.0h0M365.0 798.7h0M365.3 799.7h0M365.6 799.5h0M365.8 800.8h0M366.1 801.3h0M366.3 798.6h0M366.6 800.6h0M366.8 799.0h0M367.1 799.4h0M367.3 800.1h0M367.6 798.9h0M367.8 797.3h0M368.1 797.5h0M368.3 799.2h0M368.6 798.9h0M368.8 800.5h0M369.1 799.5h0M369.4 798.7h0M369.6 798.0h0M369.9 797.4h0M370.1 798.1h0M370.4 796.3h0M370.6 798.3h0M370.9 796.5h0M371.1 798.1h0M371.4 797.2h0M371.6 796.5h0M371.9 795.8h0M372.1 797.1h0M372.4 796.7h0M372.6 796.3h0M372.9 795.7h0M373.1 794.3h0M373.4 794.9h0M373.6 795.7h0M373.8 795.5h0M374.1 793.8h0M374.3 793.5h0M374.6 793.6h0M374.8 794.5h0M375.1 795.3h0M375.3 794.9h0M375.6 793.8h0M375.8 794.9h0M376.1 793.8h0M376.3 791.1h0M376.5 792.8h0M376.8 792.2h0M377.0 793.9h0M377.3 791.2h0M377.5 792.9h0M377.8 792.2h0M378.0 791.9h0M378.3 791.9h0M378.5 792.4h0M378.8 791.0h0M379.0 789.3h0M379.3 791.7h0M379.5 790.3h0M379.8 792.2h0M380.0 790.6h0M380.3 791.4h0M380.5 789.1h0M380.8 791.0h0M381.1 789.7h0M381.3 790.1h0M381.6 791.4h0M381.8 789.9h0M382.1 789.9h0M382.3 788.9h0M382.6 789.8h0M382.9 791.5h0M383.1 790.5h0M383.4 789.9h0M383.6 788.4h0M383.9 789.5h0M384.1 788.0h0M384.4 789.2h0M384.7 788.3h0M384.9 787.5h0M385.2 788.4h0M385.4 790.3h0M385.7 787.1h0M386.0 788.5h0M386.2 787.2h0M386.5 791.2h0M386.7 788.0h0M387.0 787.9h0M387.2 788.3h0M387.5 787.8h0M387.8 788.7h0M388.0 788.5h0M388.3 786.8h0M388.5 787.5h0M388.8 786.3h0M389.1 786.6h0M389.3 787.8h0M389.6 786.9h0M389.8 787.2h0M390.1 786.1h0M390.4 784.7h0M390.6 786.4h0M390.9 787.0h0M391.1 783.8h0M391.4 786.5h0M391.7 786.9h0M391.9 786.4h0M392.2 788.4h0M392.4 784.0h0M392.7 784.4h0M393.0 784.3h0M393.2 784.8h0M393.5 785.6h0M393.7 785.9h0M394.0 786.1h0M394.3 784.2h0M394.5 783.9h0M394.8 783.9h0M395.0 786.0h0M395.3 782.4h0M395.5 785.5h0M395.8 784.4h0M396.1 784.4h0M396.3 784.8h0M396.6 786.9h0M396.8 785.6h0M397.1 784.7h0M397.4 782.7h0M397.6 784.3h0M397.9 783.3h0M398.1 785.1h0M398.4 783.9h0M398.7 781.9h0M398.9 781.0h0M399.2 782.7h0M399.4 782.4h0M399.7 782.8h0M400.0 783.1h0M400.2 782.7h0M400.5 781.5h0M400.7 783.5h0M401.0 783.9h0M401.3 781.7h0M401.5 783.1h0M401.8 781.8h0M402.0 783.5h0M402.3 781.8h0M402.6 782.5h0M402.8 782.6h0M403.1 781.0h0M403.3 782.5h0M403.6 784.7h0M403.9 783.1h0M404.1 781.8h0M404.4 779.3h0M404.6 781.8h0M404.9 782.7h0M405.2 781.9h0M405.4 779.7h0M405.7 780.5h0M406.0 780.2h0M406.2 780.1h0M406.5 778.7h0M406.7 782.3h0M407.0 778.8h0M407.3 779.6h0M407.5 781.6h0M407.8 779.3h0M408.0 778.4h0M408.3 780.4h0M408.6 778.6h0M408.8 782.7h0M409.1 781.8h0M409.4 779.1h0M409.6 779.5h0M409.9 778.7h0M410.1 778.8h0M410.4 778.2h0M410.7 781.2h0M410.9 781.1h0M411.2 777.6h0M411.4 778.6h0M411.7 778.9h0M412.0 779.1h0M412.2 776.6h0M412.5 779.7h0M412.8 778.1h0M413.0 776.6h0M413.3 779.3h0M413.5 779.2h0M413.8 778.8h0M414.1 781.0h0M414.3 776.7h0M414.6 776.8h0M414.9 775.6h0M415.1 778.0h0M415.4 777.3h0M415.7 776.9h0M415.9 775.5h0M416.2 777.2h0M416.4 777.0h0M416.7 778.5h0M417.0 777.1h0M417.2 777.5h0M417.5 776.0h0M417.8 776.4h0M418.0 778.9h0M418.3 778.8h0M418.6 776.8h0M418.8 777.8h0M419.1 776.8h0M419.4 775.6h0M419.6 778.9h0M419.9 776.5h0M420.1 778.4h0M420.4 777.1h0M420.7 777.1h0M420.9 778.5h0M421.2 780.2h0M421.5 777.5h0M421.7 778.6h0M422.0 776.6h0M422.3 776.7h0M422.5 775.5h0M422.8 776.0h0M423.1 779.5h0M423.3 779.2h0M423.6 777.9h0M423.9 776.8h0M424.1 776.2h0M424.4 777.5h0M424.6 776.0h0M424.9 777.8h0M425.2 774.8h0M425.4 777.0h0M425.7 777.1h0M426.0 777.0h0M426.2 776.2h0M426.5 774.0h0M426.8 775.8h0M427.0 774.6h0M427.3 777.0h0M427.6 775.0h0M427.8 774.7h0M428.1 774.3h0M428.3 777.1h0M428.6 777.0h0M428.9 775.5h0M429.1 774.7h0M429.4 776.7h0M429.7 775.1h0M429.9 773.0h0M430.2 778.2h0M430.5 777.1h0M430.7 775.5h0M431.0 774.4h0M431.2 775.1h0M431.5 774.2h0M431.8 772.8h0M432.0 775.5h0M432.3 776.0h0M432.6 772.6h0M432.8 777.1h0M433.1 773.2h0M433.3 772.5h0M433.6 773.9h0M433.9 775.1h0M144.6 473.6h0M143.8 482.0h0M143.0 321.8h0M143.0 393.6h0M171.9 368.8h0M170.4 379.4h0M171.9 387.0h0M170.4 391.5h0M379.5 781.0h0M379.5 785.0h0"/>
<path stroke="#218c21" d="M135.5 806.3h0M135.7 807.0h0M135.9 807.0h0M136.1 807.9h0M136.3 805.3h0M136.5 806.9h0M136.7 805.8h0M136.8 805.8h0M137.0 806.9h0M137.2 806.0h0M137.4 805.4h0M137.6 806.1h0M137.8 805.7h0M138.0 805.2h0M138.2 807.6h0M138.4 805.1h0M138.6 805.4h0M138.8 805.1h0M139.0 806.2h0M139.2 805.3h0M139.3 804.7h0M139.5 804.7h0M139.7 803.8h0M139.9 804.1h0M140.1 803.4h0M140.3 803.1h0M140.5 800.9h0M140.7 802.1h0M140.9 803.1h0M141.1 802.5h0M141.3 800.6h0M141.5 800.1h0M141.7 800.9h0M141.8 801.0h0M142.0 799.9h0M142.2 801.9h0M142.4 800.0h0M142.6 800.2h0M142.8 800.3h0M143.0 802.4h0M143.2 800.6h0M143.4 800.3h0M143.6 801.4h0M143.8 801.9h0M144.0 802.3h0M144.2 801.6h0M144.3 800.9h0M144.5 801.3h0M144.7 801.0h0M144.9 800.3h0M145.1 801.7h0M145.3 802.5h0M145.5 802.3h0M145.7 801.1h0M145.9 800.9h0M146.1 800.7h0M146.3 799.3h0M146.5 801.2h0M146.7 800.5h0M146.8 801.7h0M147.0 801.4h0M147.2 801.1h0M147.4 800.3h0M147.6 797.9h0M147.8 799.5h0M148.0 799.2h0M148.2 800.6h0M148.4 799.7h0M148.6 800.0h0M148.8 798.3h0M149.0 799.1h0M149.1 798.0h0M149.3 799.6h0M149.5 798.6h0M149.7 798.0h0M149.9 797.0h0M150.1 796.6h0M150.3 798.9h0M150.5 796.9h0M150.7 798.0h0M150.9 797.8h0M151.1 797.9h0M151.3 797.4h0M151.5 799.0h0M151.6 797.0h0M151.8 797.7h0M152.0 797.0h0M152.2 798.7h0M152.4 797.0h0M152.6 797.2h0M152.8 796.9h0M153.0 796.6h0M153.2 795.8h0M153.4 796.4h0M153.6 795.9h0M153.8 796.8h0M154.0 797.0h0M154.1 796.5h0M154.3 796.5h0M154.5 795.3h0M154.7 795.3h0M154.9 795.0h0M155.1 795.2h0M155.3 795.8h0M155.5 796.2h0M155.7 794.3h0M155.9 794.2h0M156.1 796.3h0M156.3 792.9h0M156.5 795.3h0M156.6 793.6h0M156.8 795.4h0M157.0 794.1h0M157.2 794.2h0M157.4 793.4h0M157.6 793.9h0M157.8 794.6h0M158.0 792.6h0M158.2 795.2h0M158.4 794.1h0M158.6 795.0h0M158.8 792.7h0M159.0 793.2h0M159.1 793.6h0M159.3 791.8h0M159.5 792.4h0M159.7 793.2h0M159.9 792.9h0M160.1 792.5h0M160.3 792.6h0M160.5 791.6h0M160.7 791.9h0M160.9 792.0h0M161.1 791.6h0M161.3 792.3h0M161.5 791.1h0M161.6 790.6h0M161.8 791.2h0M162.0 791.7h0M162.2 791.3h0M162.4 791.7h0M162.6 790.1h0M162.8 790.0h0M163.0 791.2h0M163.2 790.5h0M163.4 791.1h0M163.6 790.4h0M163.8 790.9h0M164.0 789.2h0M164.1 790.8h0M164.3 789.1h0M164.5 790.4h0M164.7 789.5h0M164.9 789.8h0M165.1 790.2h0M165.3 790.2h0M165.5 789.3h0M165.7 788.8h0M165.9 788.8h0M166.1 788.7h0M166.3 789.2h0M166.5 788.0h0M166.6 789.1h0M166.8 788.9h0M167.0 788.8h0M167.2 788.3h0M167.4 789.8h0M167.6 787.9h0M167.8 788.0h0M168.0 787.7h0M168.2 785.2h0M168.4 787.8h0M168.6 788.9h0M168.8 788.6h0M169.0 787.1h0M169.1 787.9h0M169.3 787.1h0M169.5 787.1h0M169.7 787.5h0M169.9 788.9h0M170.1 788.0h0M170.3 787.6h0M170.5 786.8h0M170.7 787.5h0M170.9 786.7h0M171.1 785.1h0M171.3 787.3h0M171.4 788.2h0M171.6 788.1h0M171.8 786.3h0M172.0 786.7h0M172.2 784.4h0M172.4 787.2h0M172.6 787.7h0M172.8 786.3h0M173.0 785.5h0M173.2 784.6h0M173.4 784.3h0M173.6 784.9h0M173.8 785.7h0M173.9 786.0h0M174.1 786.2h0M174.3 785.1h0M174.5 785.4h0M174.7 786.4h0M174.9 785.6h0M175.1 786.2h0M175.3 784.9h0M175.5 784.8h0M175.7 784.6h0M175.9 785.8h0M176.1 785.5h0M176.3 785.2h0M176.4 786.3h0M176.6 785.3h0M176.8 785.0h0M177.0 784.6h0M177.2 785.2h0M177.4 783.3h0M177.6 784.0h0M177.8 785.0h0M178.0 785.1h0M178.2 784.7h0M178.4 783.9h0M178.6 783.7h0M178.8 783.7h0M178.9 783.8h0M179.1 783.9h0M179.3 785.0h0M179.5 784.5h0M179.7 784.0h0M179.9 783.7h0M180.1 785.0h0M180.3 783.3h0M180.5 783.0h0M180.7 785.3h0M180.9 785.4h0M181.1 784.9h0M181.3 784.6h0M181.4 783.6h0M181.6 782.8h0M181.8 782.7h0M182.0 783.9h0M182.2 784.2h0M182.4 782.3h0M182.6 783.0h0M182.8 783.2h0M183.0 783.9h0M183.2 784.0h0M183.4 783.0h0M183.6 783.5h0M183.8 783.5h0M183.9 783.6h0M184.1 782.9h0M184.3 782.5h0M184.5 782.8h0M184.7 783.2h0M184.9 784.7h0M185.1 782.9h0M185.3 783.3h0M185.5 784.9h0M185.7 783.6h0M185.9 784.0h0M186.1 783.2h0M186.3 783.1h0M186.4 782.6h0M186.6 781.6h0M186.8 784.4h0M187.0 782.2h0M187.2 784.1h0M187.4 782.3h0M187.6 783.0h0M187.8 783.1h0M188.0 785.9h0M188.2 782.9h0M188.4 782.6h0M188.6 783.0h0M188.8 782.5h0M188.9 781.8h0M189.1 783.0h0M189.3 782.8h0M189.5 783.1h0M189.7 784.1h0M189.9 782.0h0M190.1 782.3h0M190.3 783.6h0M190.5 783.5h0M190.7 782.6h0M190.9 783.1h0M191.1 784.0h0M191.3 783.8h0M191.4 782.1h0M191.6 783.7h0M191.8 783.5h0M192.0 782.9h0M192.2 782.7h0M192.4 782.7h0M192.6 783.7h0M192.8 783.6h0M193.0 783.3h0M193.2 784.1h0M193.4 781.8h0M193.6 783.6h0M193.8 782.6h0M193.9 784.2h0M194.1 784.1h0M194.3 784.1h0M194.5 784.1h0M194.7 784.9h0M194.9 784.2h0M195.1 783.3h0M195.3 782.7h0M195.5 782.9h0M195.7 782.9h0M195.9 782.4h0M196.1 783.6h0M196.2 783.0h0M196.4 782.9h0M196.6 784.2h0M196.8 783.9h0M197.0 783.2h0M197.2 782.7h0M197.4 784.9h0M197.6 782.8h0M197.8 784.5h0M198.0 785.0h0M198.2 784.9h0M198.4 785.8h0M198.6 784.5h0M198.7 784.3h0M198.9 783.2h0M199.1 783.8h0M199.3 783.2h0M199.5 782.5h0M199.7 783.0h0M199.9 784.8h0M200.1 785.1h0M200.3 784.5h0M200.5 784.7h0M200.7 784.1h0M200.9 785.0h0M201.1 785.2h0M201.2 783.8h0M201.4 784.3h0M201.6 783.7h0M201.8 783.7h0M202.0 785.3h0M202.2 784.1h0M202.4 784.4h0M202.6 784.4h0M202.8 784.4h0M203.0 785.5h0M203.2 785.4h0M203.4 786.0h0M203.6 786.3h0M203.7 785.9h0M203.9 786.5h0M204.1 784.6h0M204.3 785.0h0M204.5 785.3h0M204.7 784.7h0M204.9 786.9h0M205.1 783.7h0M205.3 786.3h0M205.5 785.3h0M205.7 785.5h0M205.9 786.1h0M206.1 785.2h0M206.2 785.9h0M206.4 785.0h0M206.6 785.0h0M206.8 785.9h0M207.0 784.2h0M207.2 785.2h0M207.4 786.3h0M207.6 786.4h0M207.8 785.3h0M208.0 788.0h0M208.2 786.8h0M208.4 785.9h0M208.6 785.6h0M208.7 786.0h0M208.9 786.0h0M209.1 786.9h0M209.3 787.0h0M209.5 784.9h0M209.7 786.5h0M209.9 786.0h0M210.1 786.4h0M210.3 785.1h0M210.5 787.9h0M210.7 786.4h0M210.9 787.0h0M211.1 786.5h0M211.2 786.0h0M211.4 787.1h0M211.6 785.2h0M211.8 786.7h0M212.0 785.6h0M212.2 786.3h0M212.4 786.2h0M212.6 785.6h0M212.8 786.2h0M213.0 785.8h0M213.2 786.2h0M213.4 785.7h0M213.6 787.1h0M213.7 787.0h0M213.9 785.8h0M214.1 786.0h0M214.3 786.1h0M214.5 786.3h0M214.7 787.2h0M214.9 785.4h0M215.1 785.2h0M215.3 786.0h0M215.5 787.0h0M215.7 786.8h0M215.9 785.0h0M216.1 785.7h0M216.2 785.4h0M216.4 785.8h0M216.6 784.6h0M216.8 785.1h0M217.0 786.1h0M217.2 786.5h0M217.4 785.6h0M217.6 785.9h0M217.8 785.9h0M218.0 784.0h0M218.2 784.0h0M218.4 784.4h0M218.6 784.7h0M218.7 782.8h0M218.9 785.3h0M219.1 784.6h0M219.3 785.0h0M219.5 785.3h0M219.7 783.6h0M219.9 784.6h0M220.1 785.2h0M220.3 785.3h0M220.5 784.8h0M220.7 785.1h0M220.9 785.7h0M221.0 785.3h0M221.2 784.5h0M221.4 786.0h0M221.6 785.3h0M221.8 783.0h0M222.0 784.6h0M222.2 785.5h0M222.4 785.0h0M222.6 785.5h0M222.8 785.5h0M223.0 784.5h0M223.2 785.4h0M223.4 785.1h0M223.5 786.1h0M223.7 786.2h0M223.9 785.5h0M224.1 785.0h0M224.3 786.0h0M224.5 786.9h0M224.7 785.9h0M224.9 786.4h0M225.1 787.2h0M225.3 787.5h0M225.5 787.3h0M225.7 788.6h0M225.9 787.9h0M226.0 789.1h0M226.2 787.0h0M226.4 787.9h0M226.6 787.8h0M226.8 789.3h0M227.0 788.0h0M227.2 788.4h0M227.4 789.6h0M227.6 788.2h0M227.8 789.5h0M228.0 789.4h0M228.2 789.4h0M228.4 790.5h0M228.5 790.3h0M228.7 790.3h0M228.9 790.3h0M229.1 790.8h0M229.3 790.2h0M229.5 791.4h0M229.7 792.0h0M229.9 791.0h0M230.1 791.5h0M230.3 791.2h0M230.5 790.1h0M230.7 790.8h0M230.9 790.8h0M231.0 791.8h0M231.2 791.9h0M231.4 792.3h0M231.6 792.1h0M231.8 791.8h0M232.0 791.8h0M232.2 792.4h0M232.4 793.2h0M232.6 792.0h0M232.8 794.3h0M233.0 793.4h0M233.2 792.9h0M233.4 791.7h0M233.5 792.6h0M233.7 792.0h0M233.9 793.0h0M234.1 794.5h0M234.3 793.7h0M234.5 794.3h0M234.7 793.7h0M234.9 794.2h0M235.1 794.2h0M235.3 793.4h0M235.5 793.4h0M235.7 792.5h0M235.9 794.3h0M236.0 794.1h0M236.2 793.7h0M236.4 794.2h0M236.6 794.8h0M236.8 794.7h0M237.0 795.9h0M237.2 795.3h0M237.4 794.6h0M237.6 794.8h0M237.8 795.5h0M238.0 795.2h0M238.2 792.9h0M238.4 794.1h0M238.5 795.0h0M238.7 796.1h0M238.9 794.5h0M239.1 796.1h0M239.3 797.3h0M239.5 795.1h0M239.7 794.0h0M239.9 797.0h0M240.1 797.3h0M240.3 796.4h0M240.5 795.4h0M240.7 796.2h0M240.9 796.3h0M241.0 796.6h0M241.2 795.7h0M241.4 795.3h0M241.6 796.4h0M241.8 795.2h0M242.0 796.6h0M242.2 796.1h0M242.4 796.5h0M242.6 796.9h0M242.8 796.8h0M243.0 798.5h0M243.2 796.7h0M243.3 795.3h0M243.5 795.7h0M243.7 796.3h0M243.9 796.6h0M244.1 798.1h0M244.3 796.7h0M244.5 798.2h0M244.7 796.9h0M244.9 796.5h0M245.1 798.8h0M245.3 797.8h0M245.5 796.8h0M245.7 797.3h0M245.8 797.7h0M246.0 796.6h0M246.2 796.5h0M246.4 798.2h0M246.6 799.3h0M246.8 798.3h0M247.0 797.8h0M247.2 796.1h0M247.4 797.1h0M247.6 798.6h0M247.8 797.2h0M248.0 798.7h0M248.2 798.9h0M248.3 798.9h0M248.5 798.4h0M248.7 797.9h0M248.9 798.1h0M249.1 799.2h0M249.3 798.5h0M249.5 800.5h0M249.7 799.3h0M249.9 800.6h0M250.1 799.0h0M250.3 797.2h0M250.5 798.2h0M250.7 799.8h0M250.8 798.5h0M251.0 798.6h0M251.2 799.5h0M251.4 799.2h0M251.6 800.2h0M251.8 798.0h0M252.0 799.3h0M252.2 800.3h0M252.4 800.7h0M252.6 798.2h0M252.8 800.7h0M253.0 799.7h0M253.2 800.2h0M253.3 800.0h0M253.5 799.4h0M253.7 799.1h0M253.9 800.1h0M254.1 800.0h0M254.3 799.2h0M254.5 799.5h0"/>
<path stroke="#ffa500" d="M728.5 809.8h0M728.9 811.1h0M729.2 809.7h0M729.6 809.6h0M730.0 811.1h0M730.4 810.5h0M730.7 810.2h0M731.1 810.3h0M731.5 809.8h0M731.8 809.5h0M732.2 809.6h0M732.6 811.1h0M732.9 809.4h0M733.3 809.8h0M733.7 811.0h0M734.1 811.1h0M734.4 810.0h0M734.8 810.8h0M735.2 810.8h0M735.5 811.1h0M735.9 809.7h0M736.3 810.7h0M736.6 809.7h0M737.0 811.1h0M737.4 810.9h0M737.8 810.3h0M738.1 809.9h0M738.5 809.0h0M738.9 810.3h0M739.2 810.6h0M739.6 811.1h0M740.0 809.4h0M740.3 810.3h0M740.7 810.2h0M741.1 810.2h0M741.5 810.2h0M741.8 810.4h0M742.2 810.2h0M742.6 810.2h0M742.9 810.2h0M743.3 809.8h0M743.7 810.1h0M744.0 811.1h0M744.4 811.1h0M744.8 810.9h0M745.2 810.3h0M745.5 809.9h0M745.9 809.8h0M746.3 810.0h0M746.6 810.4h0M747.0 811.1h0M747.4 810.2h0M747.7 810.1h0M748.1 811.0h0M748.5 810.0h0M748.9 810.1h0M749.2 810.9h0M749.6 810.1h0M750.0 810.1h0M750.3 810.8h0M750.7 810.4h0M751.1 810.3h0M751.4 810.6h0M751.8 811.1h0M752.2 810.2h0M752.6 811.1h0M752.9 809.9h0M753.3 810.1h0M753.7 809.7h0M754.0 810.3h0M754.4 810.7h0M754.8 810.4h0M755.1 811.1h0M755.5 809.8h0M755.9 810.1h0M756.3 810.4h0M756.6 809.5h0M757.0 811.1h0M757.4 810.2h0M757.7 811.1h0M758.1 811.1h0M758.5 810.6h0M758.8 811.0h0M759.2 809.4h0M759.6 810.7h0M760.0 811.1h0M760.3 809.2h0M760.7 809.9h0M761.1 809.7h0M761.4 810.1h0M761.8 810.0h0M762.2 809.5h0M762.6 809.5h0M762.9 810.6h0M763.3 809.5h0M763.7 811.1h0M764.0 810.5h0M764.4 810.6h0M764.8 810.5h0M765.1 810.1h0M765.5 810.3h0M765.9 809.3h0M766.3 811.1h0M766.6 810.8h0M767.0 810.0h0M767.4 810.1h0M767.7 811.1h0M768.1 810.6h0M768.5 810.7h0M768.8 810.4h0M769.2 810.4h0M769.6 811.1h0M770.0 810.9h0M770.3 811.1h0M770.7 810.4h0M771.1 809.6h0M771.4 809.4h0M771.8 809.7h0M772.2 810.2h0M772.5 811.1h0M772.9 810.2h0M773.3 811.1h0M773.7 811.1h0M774.0 810.9h0M774.4 810.3h0M774.8 810.3h0M775.1 811.1h0M775.5 811.1h0M775.9 810.1h0M776.2 810.4h0M776.6 811.1h0M777.0 810.0h0M777.4 811.1h0M777.7 809.8h0M778.1 809.6h0M778.5 809.0h0M778.8 810.1h0M779.2 811.1h0M779.6 808.8h0M779.9 811.1h0M780.3 810.3h0M780.7 810.7h0M781.1 810.1h0M781.4 809.6h0M781.8 809.4h0M782.2 811.0h0M782.5 811.1h0M782.9 809.6h0M783.3 809.4h0M783.6 809.8h0M784.0 809.3h0M784.4 810.4h0M784.8 810.3h0M785.1 811.1h0M785.5 809.6h0M785.9 810.4h0M786.2 809.5h0M786.6 810.3h0M787.0 810.5h0M787.3 811.1h0M787.7 809.8h0M788.1 809.9h0M788.5 809.2h0M788.8 810.2h0M789.2 809.2h0M789.6 809.7h0M789.9 809.3h0M790.3 809.6h0M790.7 808.9h0M791.0 808.0h0M791.4 807.0h0M791.8 807.8h0M792.2 806.8h0M792.5 805.6h0M792.9 805.9h0M793.3 804.0h0M793.6 804.6h0M794.0 803.7h0M794.4 802.5h0M794.7 802.1h0M795.1 800.9h0M795.5 800.0h0M795.9 799.4h0M796.2 799.1h0M796.6 799.3h0M797.0 797.6h0M797.3 796.4h0M797.7 796.2h0M798.1 794.3h0M798.5 793.5h0M798.8 792.4h0M799.2 791.5h0M799.6 789.9h0M799.9 788.3h0M800.3 787.2h0M800.7 785.1h0M801.0 784.3h0M801.4 781.4h0M801.8 778.7h0M802.2 777.6h0M802.5 773.8h0M802.9 770.6h0M803.3 767.8h0M803.6 763.4h0M804.0 758.8h0M804.4 754.6h0M804.7 750.1h0M805.1 744.0h0M805.5 737.2h0M805.9 732.1h0M806.2 724.9h0M806.6 716.9h0M807.0 708.2h0M807.3 700.7h0M807.7 691.2h0M808.1 687.2h0M808.4 670.5h0M808.8 666.2h0M809.2 661.2h0M809.6 650.1h0M809.9 654.7h0M810.3 657.1h0M810.7 649.5h0M811.0 647.5h0M811.4 650.0h0M811.8 649.0h0M812.1 646.9h0M812.5 647.0h0M812.9 651.3h0M813.3 649.7h0M813.6 646.1h0M814.0 645.9h0M814.4 646.6h0M814.7 643.0h0M815.1 644.0h0M815.5 647.6h0M815.8 644.2h0M816.2 643.0h0M816.6 649.4h0M817.0 646.7h0M817.3 645.2h0M817.7 650.1h0M818.1 640.9h0M818.4 640.4h0M818.8 651.4h0M819.2 646.3h0M819.5 640.1h0M819.9 645.3h0M820.3 640.7h0M820.7 636.6h0M821.0 664.6h0M821.4 640.1h0M821.8 635.4h0M822.1 642.9h0M822.5 640.8h0M822.9 639.1h0M823.2 639.6h0M823.6 641.2h0M824.0 640.2h0M824.4 631.2h0M824.7 636.0h0M825.1 637.3h0M825.5 639.1h0M825.8 637.4h0M826.2 634.7h0M826.6 637.4h0M826.9 629.6h0M827.3 633.7h0M827.7 633.0h0M828.1 633.2h0M828.4 630.7h0M828.8 635.0h0M829.2 632.0h0M829.5 630.8h0M829.9 626.5h0M830.3 637.1h0M830.7 624.0h0M831.0 630.0h0M831.4 627.1h0M831.8 639.4h0M832.1 627.3h0M832.5 629.0h0M832.9 629.1h0M833.2 627.7h0M833.6 629.1h0M834.0 621.5h0M834.4 624.9h0M834.7 628.0h0M835.1 631.1h0M835.5 628.5h0M835.8 621.8h0M836.2 630.7h0M836.6 633.3h0M836.9 626.6h0M837.3 638.1h0M837.7 628.7h0M838.1 633.0h0M838.4 631.8h0M838.8 628.7h0M839.2 634.1h0M839.5 630.7h0M839.9 634.7h0M840.3 629.3h0M840.6 635.9h0M841.0 633.0h0M841.4 631.8h0M841.8 634.6h0M842.1 638.0h0M842.5 636.0h0M842.9 638.5h0M843.2 640.2h0M843.6 637.7h0M844.0 637.4h0M844.3 634.6h0M844.7 637.1h0M845.1 641.3h0M845.5 637.1h0M845.8 633.5h0M846.2 641.5h0M846.6 638.8h0M846.9 645.4h0M847.3 633.4h0M847.7 637.8h0M848.0 643.3h0M848.4 644.0h0M848.8 639.8h0M849.2 641.5h0M849.5 643.0h0M849.9 635.9h0M850.3 638.1h0M850.6 643.1h0M851.0 642.6h0M851.4 641.2h0M851.7 640.6h0M852.1 636.7h0M852.5 646.7h0M852.9 644.0h0M853.2 647.7h0M853.6 643.8h0M854.0 643.6h0M854.3 636.8h0M854.7 638.9h0M855.1 646.6h0M855.4 642.7h0M855.8 635.5h0M856.2 637.7h0M856.6 642.0h0M856.9 642.5h0M857.3 638.6h0M857.7 643.8h0M858.0 642.6h0M858.4 638.1h0M858.8 639.4h0M859.1 640.5h0M859.5 638.9h0M859.9 638.9h0M860.3 638.7h0M860.6 636.9h0M861.0 642.2h0M861.4 634.5h0M861.7 637.2h0M862.1 636.7h0M862.5 635.7h0M862.8 633.8h0M863.2 628.0h0M863.6 637.0h0M864.0 637.1h0M864.3 635.0h0M864.7 635.6h0M865.1 638.8h0M865.4 634.9h0M865.8 641.4h0M866.2 628.9h0M866.6 630.6h0M866.9 638.6h0M867.3 639.0h0M867.7 627.4h0M868.0 633.3h0M868.4 638.0h0M868.8 633.9h0M869.1 628.2h0M869.5 630.8h0M869.9 625.9h0M870.3 627.1h0M870.6 632.7h0M871.0 628.9h0M871.4 635.8h0M871.7 630.2h0M872.1 632.2h0M872.5 631.1h0M872.8 630.6h0M873.2 625.9h0M873.6 634.8h0M874.0 634.1h0M874.3 641.3h0M874.7 633.5h0M875.1 630.3h0M875.4 632.7h0M875.8 637.2h0M876.2 632.2h0M876.5 634.9h0M876.9 637.7h0M877.3 631.5h0M877.7 644.3h0M878.0 635.7h0M878.4 632.7h0M878.8 637.1h0M879.1 637.6h0M879.5 637.0h0M879.9 635.1h0M880.2 636.1h0M880.6 632.9h0M881.0 638.8h0M881.4 641.2h0M881.7 635.0h0M882.1 634.9h0M882.5 637.2h0M882.8 641.5h0M883.2 638.6h0M883.6 636.0h0M883.9 636.6h0M884.3 640.1h0M884.7 638.9h0M885.1 637.8h0M885.4 636.9h0M885.8 638.9h0M886.2 643.3h0M886.5 653.5h0M886.9 640.0h0M887.3 642.2h0M887.6 633.8h0M888.0 644.7h0M888.4 641.0h0M888.8 658.2h0M889.1 640.5h0M889.5 636.6h0M889.9 648.3h0M890.2 643.3h0M890.6 644.1h0M891.0 641.4h0M891.3 644.8h0M891.7 642.8h0M892.1 646.4h0M892.5 640.5h0M892.8 640.7h0M893.2 645.4h0M893.6 650.7h0M893.9 645.3h0M894.3 644.8h0M894.7 647.7h0M895.0 640.6h0M895.4 649.6h0M895.8 639.1h0M896.2 644.4h0M896.5 643.1h0M896.9 648.4h0M897.3 649.3h0M897.6 644.4h0M898.0 640.0h0M898.4 646.6h0M898.8 641.8h0M899.1 644.9h0M899.5 649.4h0M899.9 644.8h0M900.2 645.8h0M900.6 648.8h0M901.0 646.6h0M901.3 647.5h0M901.7 644.6h0M902.1 660.1h0M902.5 649.9h0M902.8 646.7h0M903.2 653.8h0M903.6 649.3h0M903.9 650.6h0M904.3 650.6h0M904.7 646.5h0M905.0 648.7h0M905.4 649.6h0M905.8 646.8h0M906.2 659.2h0M906.5 647.5h0M906.9 651.6h0M907.3 648.6h0M907.6 645.0h0M908.0 649.7h0M908.4 652.5h0M908.7 654.4h0M909.1 652.1h0M909.5 652.4h0M909.9 653.4h0M910.2 653.7h0M910.6 652.5h0M911.0 652.8h0M911.3 651.3h0M911.7 651.9h0M912.1 646.7h0M912.4 651.9h0M912.8 651.9h0M913.2 650.4h0M913.6 650.4h0M913.9 660.4h0M914.3 653.8h0M914.7 654.8h0M915.0 653.2h0M915.4 648.3h0M915.8 654.5h0M916.1 652.9h0M916.5 651.4h0M916.9 650.2h0M917.3 647.4h0M917.6 652.7h0M918.0 652.5h0M918.4 650.5h0M918.7 652.0h0M919.1 652.3h0M919.5 655.2h0M919.8 650.6h0M920.2 656.1h0M920.6 648.2h0M921.0 650.0h0M921.3 655.9h0M921.7 649.6h0M922.1 655.1h0M922.4 653.7h0M922.8 649.0h0M923.2 656.2h0M923.5 658.5h0M923.9 656.3h0M924.3 651.9h0M924.7 652.5h0M925.0 659.1h0M925.4 663.9h0M925.8 657.7h0M926.1 660.3h0M926.5 653.4h0M926.9 664.0h0M927.2 653.6h0M927.6 657.6h0M928.0 655.8h0M928.4 655.0h0M928.7 655.0h0M929.1 661.5h0M929.5 656.2h0M929.8 662.3h0M930.2 654.4h0M930.6 657.4h0M930.9 659.7h0M931.3 657.8h0M931.7 656.9h0M932.1 657.5h0M932.4 654.6h0M932.8 657.4h0M933.2 659.2h0M933.5 649.1h0M933.9 661.7h0M934.3 663.2h0M934.7 656.9h0M935.0 654.5h0M935.4 654.9h0M935.8 654.9h0M936.1 654.1h0M936.5 662.5h0M936.9 661.6h0M937.2 664.5h0M937.6 658.9h0M938.0 673.6h0M938.4 659.4h0M938.7 658.8h0M939.1 659.0h0M939.5 662.1h0M939.8 670.2h0M940.2 666.2h0M940.6 655.7h0M940.9 663.0h0M941.3 669.4h0M941.7 661.9h0M942.1 658.3h0M942.4 663.4h0M942.8 664.1h0M943.2 659.4h0M943.5 657.6h0M943.9 666.5h0M944.3 667.4h0M944.6 664.7h0M945.0 669.1h0M945.4 661.7h0M945.8 669.2h0M946.1 658.5h0M946.5 665.7h0M946.9 665.5h0M947.2 661.0h0M947.6 662.0h0M948.0 663.3h0M948.3 662.4h0M948.7 667.6h0M949.1 657.3h0M949.5 670.8h0M949.8 667.6h0M950.2 669.6h0M950.6 669.8h0M950.9 661.5h0M951.3 660.7h0M951.7 661.0h0M952.0 664.9h0M952.4 675.8h0M952.8 673.0h0M953.2 671.2h0M953.5 670.4h0M953.9 665.8h0M954.3 665.8h0M954.6 668.1h0M955.0 674.2h0M955.4 665.3h0M955.7 668.1h0M956.1 675.2h0M956.5 666.9h0M956.9 671.9h0M957.2 660.9h0M957.6 674.4h0M958.0 666.5h0M958.3 670.7h0M958.7 677.9h0M959.1 675.4h0M959.4 675.4h0M959.8 671.3h0M960.2 665.4h0M960.6 668.6h0M960.9 664.1h0M961.3 667.6h0M961.7 665.5h0M962.0 670.2h0M962.4 668.5h0M962.8 668.4h0M963.1 672.7h0M963.5 670.7h0M963.9 674.5h0M964.3 672.7h0M964.6 675.5h0M965.0 673.3h0M900.5 683.5h0M841.0 659.5h0M853.0 657.0h0M886.0 625.0h0M886.5 654.5h0M886.5 660.0h0M963.5 679.5h0M961.0 677.0h0M965.0 808.2h0M965.0 806.6h0"/>
</g>
<g clip-path="url(#ax)" fill="none" stroke-width="2.6" stroke-dasharray="8.6 3.45">
<path stroke="#f00" d="M84.5,811.5 L86.0,811.5 L87.5,811.5 L89.0,811.5 L90.6,811.4 L92.1,811.4 L93.6,811.4 L95.1,811.3 L96.6,811.3 L98.1,811.2 L99.6,811.2 L101.2,811.1 L102.7,811.0 L104.2,811.0 L105.7,810.9 L107.2,810.8 L108.7,810.7 L110.2,810.6 L111.8,810.6 L113.3,810.5 L114.8,810.4 L116.3,810.3 L117.8,810.2 L119.3,810.1 L120.8,809.9 L122.4,809.8 L123.9,809.6 L125.4,809.5 L126.9,809.3 L128.4,809.1 L129.9,808.9 L131.5,808.6 L133.0,808.4 L134.5,808.1 L136.0,807.8 L137.5,807.4 L139.0,806.9 L140.5,806.3 L142.1,805.6 L143.6,804.8 L145.1,804.0 L146.6,803.2 L148.1,802.2 L149.6,801.0 L151.1,799.6 L152.7,797.9 L154.2,795.8 L155.7,792.9 L157.2,789.5 L158.7,785.6 L160.2,781.4 L161.7,777.0 L163.3,771.7 L164.8,765.7 L166.3,759.3 L167.8,752.8 L169.3,746.4 L170.8,740.0 L172.3,733.5 L173.9,726.8 L175.4,720.0 L176.9,713.1 L178.4,706.1 L179.9,698.9 L181.4,691.7 L182.9,684.6 L184.5,677.4 L186.0,670.2 L187.5,663.1 L189.0,656.0 L190.5,649.2 L192.0,642.5 L193.5,635.9 L195.1,629.5 L196.6,623.1 L198.1,616.9 L199.6,611.1 L201.1,605.3 L202.6,599.2 L204.1,592.4 L205.7,584.8 L207.2,576.6 L208.7,568.2 L210.2,559.9 L211.7,551.7 L213.2,543.6 L214.7,535.3 L216.3,527.1 L217.8,518.6 L219.3,510.1 L220.8,501.3 L222.3,492.1 L223.8,482.6 L225.4,473.0 L226.9,463.4 L228.4,454.0 L229.9,444.9 L231.4,436.4 L232.9,428.2 L234.4,420.4 L236.0,412.7 L237.5,405.3 L239.0,398.0 L240.5,390.8 L242.0,383.6 L243.5,376.5 L245.0,369.6 L246.6,362.7 L248.1,355.9 L249.6,349.1 L251.1,342.3 L252.6,335.4 L254.1,328.5 L255.6,321.6 L257.2,314.7 L258.7,307.8 L260.2,301.1 L261.7,294.6 L263.2,288.2 L264.7,282.0 L266.2,275.9 L267.8,269.9 L269.3,263.9 L270.8,257.9 L272.3,251.8 L273.8,245.7 L275.3,239.4 L276.8,233.0 L278.4,226.6 L279.9,220.2 L281.4,213.8 L282.9,207.4 L284.4,201.1 L285.9,194.8 L287.4,188.6 L289.0,182.4 L290.5,176.2 L292.0,170.2 L293.5,164.2 L295.0,158.4 L296.5,152.7 L298.0,147.2 L299.6,141.8 L301.1,136.4 L302.6,131.2 L304.1,126.1 L305.6,121.2 L307.1,116.3 L308.6,111.5 L310.2,106.7 L311.7,102.1 L313.2,97.7 L314.7,93.5 L316.2,89.5 L317.7,85.7 L319.3,82.1 L320.8,78.6 L322.3,75.2 L323.8,72.0 L325.3,69.0 L326.8,66.2 L328.3,63.3 L329.9,60.6 L331.4,58.0 L332.9,55.6 L334.4,53.5 L335.9,51.6 L337.4,50.0 L338.9,48.4 L340.5,46.9 L342.0,45.6 L343.5,44.5 L345.0,43.6 L346.5,43.0 L348.0,42.4 L349.5,41.9 L351.1,41.5 L352.6,41.1 L354.1,40.8 L355.6,40.7 L357.1,40.8 L358.6,41.1 L360.1,41.6 L361.7,42.4 L363.2,43.3 L364.7,44.2 L366.2,45.2 L367.7,46.4 L369.2,48.0 L370.7,49.8 L372.3,51.9 L373.8,54.1 L375.3,56.3 L376.8,58.5 L378.3,60.9 L379.8,63.5 L381.3,66.1 L382.9,68.9 L384.4,71.7 L385.9,74.5 L387.4,77.4 L388.9,80.3 L390.4,83.3 L391.9,86.3 L393.5,89.4 L395.0,92.5 L396.5,95.7 L398.0,98.9 L399.5,102.3 L401.0,105.7 L402.6,109.2 L404.1,112.6 L405.6,116.1 L407.1,119.5 L408.6,122.9 L410.1,126.3 L411.6,129.7 L413.2,133.1 L414.7,136.5 L416.2,139.9 L417.7,143.3 L419.2,146.7 L420.7,150.1 L422.2,153.5 L423.8,157.0 L425.3,160.4 L426.8,163.8 L428.3,167.1 L429.8,170.5 L431.3,173.8 L432.8,177.2 L434.4,180.6 L435.9,184.1 L437.4,187.6 L438.9,191.3 L440.4,195.0 L441.9,198.7 L443.4,202.5 L445.0,206.4 L446.5,210.3 L448.0,214.4 L449.5,218.6 L451.0,223.0 L452.5,227.4 L454.0,231.7 L455.6,235.8 L457.1,239.7 L458.6,243.3 L460.1,246.7 L461.6,249.9 L463.1,253.1 L464.6,256.2 L466.2,259.3 L467.7,262.4 L469.2,265.5 L470.7,268.8 L472.2,272.0 L473.7,275.3 L475.2,278.7 L476.8,282.0 L478.3,285.3 L479.8,288.7 L481.3,292.0 L482.8,295.2 L484.3,298.5 L485.8,301.6 L487.4,304.8 L488.9,307.9 L490.4,311.0 L491.9,314.1 L493.4,317.1 L494.9,320.2 L496.5,323.1 L498.0,326.1 L499.5,329.1 L501.0,332.0 L502.5,334.8 L504.0,337.7 L505.5,340.5 L507.1,343.3 L508.6,346.0 L510.1,348.8 L511.6,351.5 L513.1,354.2 L514.6,356.8 L516.1,359.5 L517.7,362.1 L519.2,364.8 L520.7,367.4 L522.2,370.1 L523.7,372.7 L525.2,375.2 L526.7,377.7 L528.3,380.1 L529.8,382.5 L531.3,384.8 L532.8,387.0 L534.3,389.1 L535.8,391.1 L537.3,393.2 L538.9,395.1 L540.4,397.1 L541.9,399.0 L543.4,401.0 L544.9,402.9 L546.4,404.9 L547.9,406.8 L549.5,408.8 L551.0,410.7 L552.5,412.7 L554.0,414.6 L555.5,416.5 L557.0,418.4 L558.5,420.2 L560.1,422.0 L561.6,423.7 L563.1,425.4 L564.6,427.0 L566.1,428.6 L567.6,430.2 L569.1,431.8 L570.7,433.4 L572.2,435.0 L573.7,436.7 L575.2,438.4 L576.7,440.0 L578.2,441.7 L579.7,443.3 L581.3,445.0 L582.8,446.6 L584.3,448.2 L585.8,449.8 L587.3,451.4 L588.8,453.0 L590.4,454.5 L591.9,456.1 L593.4,457.6 L594.9,459.2 L596.4,460.6 L597.9,462.1 L599.4,463.5 L601.0,464.9 L602.5,466.3 L604.0,467.6 L605.5,468.9 L607.0,470.1 L608.5,471.4 L610.0,472.6 L611.6,473.8 L613.1,475.0 L614.6,476.2 L616.1,477.4 L617.6,478.6 L619.1,479.8 L620.6,480.9 L622.2,482.1 L623.7,483.2 L625.2,484.3 L626.7,485.4 L628.2,486.6 L629.7,487.7 L631.2,488.8 L632.8,490.0 L634.3,491.1 L635.8,492.3 L637.3,493.5 L638.8,494.6 L640.3,495.8 L641.8,496.9 L643.4,498.0 L644.9,499.0 L646.4,500.1 L647.9,501.0 L649.4,502.0 L650.9,502.9 L652.4,503.7 L654.0,504.6 L655.5,505.5 L657.0,506.3 L658.5,507.2 L660.0,508.1 L661.5,509.0 L663.0,509.8 L664.6,510.7 L666.1,511.6 L667.6,512.5 L669.1,513.4 L670.6,514.3 L672.1,515.1 L673.6,516.0 L675.2,516.9 L676.7,517.8 L678.2,518.7 L679.7,519.5 L681.2,520.4 L682.7,521.3 L684.3,522.2 L685.8,523.0 L687.3,523.9 L688.8,524.8 L690.3,525.7 L691.8,526.5 L693.3,527.4 L694.9,528.3 L696.4,529.2 L697.9,530.1 L699.4,531.0 L700.9,531.9 L702.4,532.8 L703.9,533.7 L705.5,534.5 L707.0,535.4 L708.5,536.2 L710.0,536.9 L711.5,537.7 L713.0,538.5 L714.5,539.2 L716.1,540.0 L717.6,540.7 L719.1,541.5 L720.6,542.2 L722.1,543.0 L723.6,543.7 L725.1,544.5 L726.7,545.2 L728.2,546.0 L729.7,546.8 L731.2,547.5 L732.7,548.3 L734.2,549.0 L735.7,549.8 L737.3,550.5 L738.8,551.3 L740.3,552.0 L741.8,552.7 L743.3,553.5 L744.8,554.2 L746.3,554.9 L747.9,555.7 L749.4,556.4 L750.9,557.1 L752.4,557.8 L753.9,558.6 L755.4,559.3 L756.9,560.0 L758.5,560.7 L760.0,561.4 L761.5,562.1 L763.0,562.8 L764.5,563.5 L766.0,564.2 L767.6,564.9 L769.1,565.6 L770.6,566.2 L772.1,566.9 L773.6,567.6 L775.1,568.3 L776.6,569.0 L778.2,569.7 L779.7,570.4 L781.2,571.1 L782.7,571.8 L784.2,572.5 L785.7,573.2 L787.2,574.0 L788.8,574.7 L790.3,575.4 L791.8,576.1 L793.3,576.8 L794.8,577.5 L796.3,578.2 L797.8,579.0 L799.4,579.7 L800.9,580.4 L802.4,581.1 L803.9,581.8 L805.4,582.5 L806.9,583.2 L808.4,583.9 L810.0,584.6 L811.5,585.3 L813.0,586.1 L814.5,586.8 L816.0,587.5 L817.5,588.2 L819.0,588.8 L820.6,589.5 L822.1,590.2 L823.6,590.9 L825.1,591.5 L826.6,592.2 L828.1,592.8 L829.6,593.5 L831.2,594.1 L832.7,594.8 L834.2,595.4 L835.7,596.1 L837.2,596.7 L838.7,597.3 L840.2,598.0 L841.8,598.6 L843.3,599.2 L844.8,599.8 L846.3,600.3 L847.8,600.9 L849.3,601.4 L850.8,602.0 L852.4,602.5 L853.9,603.0 L855.4,603.5 L856.9,604.0 L858.4,604.5 L859.9,605.0 L861.5,605.4 L863.0,605.9 L864.5,606.3 L866.0,606.8 L867.5,607.2 L869.0,607.7 L870.5,608.1 L872.1,608.5 L873.6,609.0 L875.1,609.4 L876.6,609.8 L878.1,610.3 L879.6,610.7 L881.1,611.1 L882.7,611.5 L884.2,611.9 L885.7,612.3 L887.2,612.7 L888.7,613.1 L890.2,613.4 L891.7,613.8 L893.3,614.2 L894.8,614.6 L896.3,615.0 L897.8,615.5 L899.3,615.9 L900.8,616.3 L902.3,616.8 L903.9,617.2 L905.4,617.7 L906.9,618.2 L908.4,618.7 L909.9,619.1 L911.4,619.6 L912.9,620.1 L914.5,620.6 L916.0,621.2 L917.5,621.7 L919.0,622.2 L920.5,622.7 L922.0,623.3 L923.5,623.8 L925.1,624.3 L926.6,624.9 L928.1,625.4 L929.6,626.0 L931.1,626.6 L932.6,627.2 L934.1,627.8 L935.7,628.4 L937.2,629.0 L938.7,629.6 L940.2,630.3 L941.7,630.9 L943.2,631.5 L944.7,632.1 L946.3,632.8 L947.8,633.4 L949.3,634.0 L950.8,634.6 L952.3,635.2 L953.8,635.8 L955.4,636.4 L956.9,637.0 L958.4,637.6 L959.9,638.2 L961.4,638.8 L962.9,639.4 L964.4,640.0 L966.0,640.7 L967.5,641.3 L969.0,642.0 L970.5,642.7 L972.0,643.4 L973.5,644.2 L975.0,644.9 L976.6,645.6 L978.1,646.3 L979.6,647.0 L981.1,647.8 L982.6,648.5 L984.1,649.2 L985.6,650.0 L987.2,650.7 L988.7,651.5 L990.2,652.2 L991.7,653.0"/>
<path stroke="#a3141a" d="M84.5,810.5 L85.5,810.5 L86.5,810.5 L87.5,810.5 L88.5,810.5 L89.5,810.5 L90.6,810.5 L91.6,810.5 L92.6,810.5 L93.6,810.5 L94.6,810.5 L95.6,810.5 L96.6,810.5 L97.6,810.5 L98.6,810.5 L99.6,810.5 L100.6,810.5 L101.7,810.5 L102.7,810.5 L103.7,810.5 L104.7,810.5 L105.7,810.5 L106.7,810.5 L107.7,810.5 L108.7,810.5 L109.7,810.5 L110.7,810.5 L111.7,810.5 L112.8,810.5 L113.8,810.5 L114.8,810.5 L115.8,810.5 L116.8,810.5 L117.8,810.5 L118.8,810.5 L119.8,810.5 L120.8,810.5 L121.8,810.5 L122.8,810.5 L123.9,810.5 L124.9,810.5 L125.9,810.5 L126.9,810.5 L127.9,810.5 L128.9,810.5 L129.9,810.5 L130.9,810.5 L131.9,810.5 L132.9,810.5 L133.9,810.5 L135.0,810.5 L136.0,810.5 L137.0,810.5 L138.0,810.5 L139.0,810.5 L140.0,810.5 L141.0,810.5 L142.0,810.5 L143.0,810.5 L144.0,810.5 L145.0,810.5 L146.1,810.5 L147.1,810.5 L148.1,810.5 L149.1,810.5 L150.1,810.5 L151.1,810.5 L152.1,810.5 L153.1,810.5 L154.1,810.5 L155.1,810.5 L156.1,810.5 L157.2,810.5 L158.2,810.5 L159.2,810.5 L160.2,810.5 L161.2,810.5 L162.2,810.5 L163.2,810.5 L164.2,810.5 L165.2,810.5 L166.2,810.5 L167.2,810.5 L168.3,810.5 L169.3,810.5 L170.3,810.5 L171.3,810.5 L172.3,810.5 L173.3,810.5 L174.3,810.5 L175.3,810.5 L176.3,810.5 L177.3,810.5 L178.3,810.5 L179.4,810.5 L180.4,810.5 L181.4,810.5 L182.4,810.5 L183.4,810.5 L184.4,810.5 L185.4,810.5 L186.4,810.5 L187.4,810.5 L188.4,810.5 L189.4,810.5 L190.5,810.5 L191.5,810.5 L192.5,810.5 L193.5,810.5 L194.5,810.5 L195.5,810.5 L196.5,810.5 L197.5,810.5 L198.5,810.5 L199.5,810.5 L200.5,810.5 L201.6,810.5 L202.6,810.5 L203.6,810.5 L204.6,810.5 L205.6,810.5 L206.6,810.5 L207.6,810.5 L208.6,810.5 L209.6,810.5 L210.6,810.5 L211.6,810.5 L212.7,810.5 L213.7,810.5 L214.7,810.5 L215.7,810.5 L216.7,810.5 L217.7,810.5 L218.7,810.5 L219.7,810.5 L220.7,810.5 L221.7,810.5 L222.7,810.5 L223.8,810.5 L224.8,810.5 L225.8,810.5 L226.8,810.5 L227.8,810.5 L228.8,810.5 L229.8,810.5 L230.8,810.5 L231.8,810.5 L232.8,810.5 L233.8,810.5 L234.9,810.5 L235.9,810.5 L236.9,810.5 L237.9,810.5 L238.9,810.5 L239.9,810.5 L240.9,810.5 L241.9,810.5 L242.9,810.5 L243.9,810.5 L245.0,810.5 L246.0,810.5 L247.0,810.5 L248.0,810.5 L249.0,810.5 L250.0,810.5 L251.0,810.5 L252.0,810.5 L253.0,810.5 L254.0,810.5 L255.0,810.5 L256.1,810.5 L257.1,810.5 L258.1,810.5 L259.1,810.5 L260.1,810.5 L261.1,810.5 L262.1,810.5 L263.1,810.5 L264.1,810.5 L265.1,810.5 L266.1,810.5 L267.2,810.5 L268.2,810.5 L269.2,810.5 L270.2,810.5 L271.2,810.5 L272.2,810.5 L273.2,810.5 L274.2,810.5 L275.2,810.5 L276.2,810.5 L277.2,810.5 L278.3,810.5 L279.3,810.5 L280.3,810.5 L281.3,810.5 L282.3,810.5 L283.3,810.5 L284.3,810.5 L285.3,810.5 L286.3,810.5 L287.3,810.5 L288.3,810.5 L289.4,810.5 L290.4,810.5 L291.4,810.5 L292.4,810.5 L293.4,810.5 L294.4,810.5 L295.4,810.5 L296.4,810.5 L297.4,810.5 L298.4,810.5 L299.4,810.5 L300.5,810.5 L301.5,810.5 L302.5,810.5 L303.5,810.5 L304.5,810.5 L305.5,810.5 L306.5,810.5 L307.5,810.5 L308.5,810.5 L309.5,810.5 L310.5,810.5 L311.6,810.5 L312.6,810.5 L313.6,810.5 L314.6,810.5 L315.6,810.5 L316.6,810.5 L317.6,810.5 L318.6,810.5 L319.6,810.5 L320.6,810.5 L321.6,810.5 L322.7,810.5 L323.7,810.5 L324.7,810.5 L325.7,810.5 L326.7,810.5 L327.7,810.5 L328.7,810.5 L329.7,810.5 L330.7,810.5 L331.7,810.5 L332.7,810.5 L333.8,810.5 L334.8,810.5 L335.8,810.5 L336.8,810.5 L337.8,810.5 L338.8,810.5 L339.8,810.5 L340.8,810.5 L341.8,810.5 L342.8,810.5 L343.8,810.5 L344.9,810.5 L345.9,810.5 L346.9,810.5 L347.9,810.5 L348.9,810.5 L349.9,810.5 L350.9,810.5 L351.9,810.5 L352.9,810.5 L353.9,810.5 L354.9,810.5 L356.0,810.5 L357.0,810.5 L358.0,810.5 L359.0,810.5 L360.0,810.5 L361.0,810.5 L362.0,810.5 L363.0,810.5 L364.0,810.5 L365.0,810.5 L366.0,810.5 L367.1,810.5 L368.1,810.5 L369.1,810.5 L370.1,810.5 L371.1,810.5 L372.1,810.5 L373.1,810.5 L374.1,810.5 L375.1,810.5 L376.1,810.5 L377.1,810.5 L378.2,810.5 L379.2,810.5 L380.2,810.5 L381.2,810.5 L382.2,810.5 L383.2,810.5 L384.2,810.5 L385.2,810.5 L386.2,810.5 L387.2,810.5 L388.2,810.5 L389.3,810.5 L390.3,810.5 L391.3,810.5 L392.3,810.5 L393.3,810.5 L394.3,810.5 L395.3,810.5 L396.3,810.5 L397.3,810.5 L398.3,810.5 L399.3,810.5 L400.4,810.5 L401.4,810.5 L402.4,810.5 L403.4,810.5 L404.4,810.5 L405.4,810.5 L406.4,810.5 L407.4,810.5 L408.4,810.5 L409.4,810.5 L410.4,810.5 L411.5,810.5 L412.5,810.5 L413.5,810.5 L414.5,810.5 L415.5,810.5 L416.5,810.5 L417.5,810.5 L418.5,810.5 L419.5,810.5 L420.5,810.5 L421.5,810.5 L422.6,810.5 L423.6,810.5 L424.6,810.5 L425.6,810.5 L426.6,810.5 L427.6,810.5 L428.6,810.5 L429.6,810.5 L430.6,810.5 L431.6,810.5 L432.6,810.5 L433.7,810.5 L434.7,810.5 L435.7,810.5 L436.7,810.5 L437.7,810.5 L438.7,810.5 L439.7,810.5 L440.7,810.5 L441.7,810.5 L442.7,810.5 L443.7,810.5 L444.8,810.5 L445.8,810.5 L446.8,810.5 L447.8,810.5 L448.8,810.5 L449.8,810.5 L450.8,810.5 L451.8,810.5 L452.8,810.5 L453.8,810.5 L454.8,810.5 L455.9,810.5 L456.9,810.5 L457.9,810.5 L458.9,810.5 L459.9,810.5 L460.9,810.5 L461.9,810.5 L462.9,810.5 L463.9,810.5 L464.9,810.5 L465.9,810.5 L467.0,810.5 L468.0,810.5 L469.0,810.5 L470.0,810.5 L471.0,810.5 L472.0,810.5 L473.0,810.5 L474.0,810.5 L475.0,810.5 L476.0,810.5 L477.0,810.5 L478.1,810.5 L479.1,810.5 L480.1,810.5 L481.1,810.5 L482.1,810.5 L483.1,810.5 L484.1,810.5 L485.1,810.5 L486.1,810.5 L487.1,810.5 L488.1,810.5 L489.2,810.5 L490.2,810.5 L491.2,810.5 L492.2,810.5 L493.2,810.5 L494.2,810.5 L495.2,810.5 L496.2,810.5 L497.2,810.5 L498.2,810.5 L499.2,810.5 L500.3,810.5 L501.3,810.5 L502.3,810.5 L503.3,810.5 L504.3,810.5 L505.3,810.5 L506.3,810.5 L507.3,810.5 L508.3,810.5 L509.3,810.5 L510.3,810.5 L511.4,810.5 L512.4,810.5 L513.4,810.5 L514.4,810.5 L515.4,810.5 L516.4,810.5 L517.4,810.5 L518.4,810.5 L519.4,810.5 L520.4,810.5 L521.4,810.5 L522.5,810.5 L523.5,810.5 L524.5,810.5 L525.5,810.5 L526.5,810.5 L527.5,810.5 L528.5,810.5 L529.5,810.5 L530.5,810.5 L531.5,810.5 L532.5,810.5 L533.6,810.5 L534.6,810.5 L535.6,810.5 L536.6,810.5 L537.6,810.5 L538.6,810.5 L539.6,810.5 L540.6,810.5 L541.6,810.5 L542.6,810.5 L543.7,810.5 L544.7,810.5 L545.7,810.5 L546.7,810.5 L547.7,810.5 L548.7,810.5 L549.7,810.5 L550.7,810.5 L551.7,810.5 L552.7,810.5 L553.7,810.5 L554.8,810.5 L555.8,810.5 L556.8,810.5 L557.8,810.5 L558.8,810.5 L559.8,810.5 L560.8,810.5 L561.8,810.5 L562.8,810.5 L563.8,810.5 L564.8,810.5 L565.9,810.5 L566.9,810.5 L567.9,810.5 L568.9,810.5 L569.9,810.5 L570.9,810.5 L571.9,810.5 L572.9,810.5 L573.9,810.5 L574.9,810.5 L575.9,810.5 L577.0,810.5 L578.0,810.5 L579.0,810.5 L580.0,810.5 L581.0,810.5 L582.0,810.5 L583.0,810.5 L584.0,810.5 L585.0,810.5 L586.0,810.5 L587.0,810.5 L588.1,810.5 L589.1,810.5 L590.1,810.5 L591.1,810.5 L592.1,810.5 L593.1,810.5 L594.1,810.5 L595.1,810.5 L596.1,810.5 L597.1,810.5 L598.1,810.5 L599.2,810.5 L600.2,810.5 L601.2,810.5 L602.2,810.5 L603.2,810.5 L604.2,810.5 L605.2,810.5 L606.2,810.5 L607.2,810.5 L608.2,810.5 L609.2,810.5 L610.3,810.5 L611.3,810.5 L612.3,810.5 L613.3,810.5 L614.3,810.5 L615.3,810.5 L616.3,810.5 L617.3,810.5 L618.3,810.5 L619.3,810.5 L620.3,810.5 L621.4,810.5 L622.4,810.5 L623.4,810.5 L624.4,810.5 L625.4,810.5 L626.4,810.5 L627.4,810.5 L628.4,810.5 L629.4,810.5 L630.4,810.5 L631.4,810.5 L632.5,810.5 L633.5,810.5 L634.5,810.5 L635.5,810.5 L636.5,810.5 L637.5,810.5 L638.5,810.5 L639.5,810.5 L640.5,810.5 L641.5,810.5 L642.5,810.5 L643.6,810.5 L644.6,810.5 L645.6,810.5 L646.6,810.5 L647.6,810.5 L648.6,810.5 L649.6,810.5 L650.6,810.5 L651.6,810.5 L652.6,810.5 L653.6,810.5 L654.7,810.5 L655.7,810.5 L656.7,810.5 L657.7,810.5 L658.7,810.5 L659.7,810.5 L660.7,810.5 L661.7,810.5 L662.7,810.5 L663.7,810.5 L664.7,810.5 L665.8,810.5 L666.8,810.5 L667.8,810.5 L668.8,810.5 L669.8,810.5 L670.8,810.5 L671.8,810.5 L672.8,810.5 L673.8,810.5 L674.8,810.5 L675.8,810.5 L676.9,810.5 L677.9,810.5 L678.9,810.5 L679.9,810.5 L680.9,810.5 L681.9,810.5 L682.9,810.5 L683.9,810.5 L684.9,810.5 L685.9,810.5 L686.9,810.5 L688.0,810.5 L689.0,810.5 L690.0,810.5 L691.0,810.5 L692.0,810.5 L693.0,810.5 L694.0,810.5 L695.0,810.5 L696.0,810.5 L697.0,810.5 L698.0,810.5 L699.1,810.5 L700.1,810.5 L701.1,810.5 L702.1,810.5 L703.1,810.5 L704.1,810.5 L705.1,810.5 L706.1,810.5 L707.1,810.5 L708.1,810.5 L709.1,810.5 L710.2,810.5 L711.2,810.5 L712.2,810.5 L713.2,810.5 L714.2,810.5 L715.2,810.5 L716.2,810.5 L717.2,810.5 L718.2,810.5 L719.2,810.5 L720.2,810.5 L721.3,810.5 L722.3,810.5 L723.3,810.5 L724.3,810.5 L725.3,810.5 L726.3,810.5 L727.3,810.5 L728.3,810.5 L729.3,810.5 L730.3,810.5 L731.3,810.5 L732.4,810.5 L733.4,810.5 L734.4,810.5 L735.4,810.5 L736.4,810.5 L737.4,810.5 L738.4,810.5 L739.4,810.5 L740.4,810.5 L741.4,810.5 L742.4,810.5 L743.5,810.5 L744.5,810.5 L745.5,810.5 L746.5,810.5 L747.5,810.5 L748.5,810.5 L749.5,810.5 L750.5,810.5 L751.5,810.5 L752.5,810.4 L753.5,810.4 L754.6,810.4 L755.6,810.4 L756.6,810.4 L757.6,810.4 L758.6,810.4 L759.6,810.4 L760.6,810.4 L761.6,810.4 L762.6,810.4 L763.6,810.4 L764.6,810.4 L765.7,810.4 L766.7,810.4 L767.7,810.4 L768.7,810.4 L769.7,810.4 L770.7,810.4 L771.7,810.4 L772.7,810.4 L773.7,810.4 L774.7,810.4 L775.7,810.3 L776.8,810.3 L777.8,810.3 L778.8,810.3 L779.8,810.2 L780.8,810.2 L781.8,810.1 L782.8,810.1 L783.8,810.1 L784.8,810.0 L785.8,809.9 L786.8,809.7 L787.9,809.5 L788.9,809.3 L789.9,809.0 L790.9,808.3 L791.9,807.1 L792.9,805.6 L793.9,803.8 L794.9,801.8 L795.9,799.8 L796.9,797.6 L797.9,795.0 L799.0,792.0 L800.0,788.3 L801.0,783.8 L802.0,777.6 L803.0,769.6 L804.0,759.9 L805.0,746.1 L806.0,728.9 L807.0,707.3 L808.0,682.4 L809.0,662.1 L810.1,653.4 L811.1,649.4 L812.1,648.3 L813.1,647.5 L814.1,646.9 L815.1,646.5 L816.1,646.1 L817.1,645.6 L818.1,645.0 L819.1,644.2 L820.1,643.4 L821.2,642.5 L822.2,641.6 L823.2,640.7 L824.2,639.8 L825.2,639.0 L826.2,638.2 L827.2,637.3 L828.2,636.4 L829.2,635.6 L830.2,634.8 L831.2,634.4 L832.3,634.2 L833.3,634.3 L834.3,634.6 L835.3,635.0 L836.3,635.5 L837.3,636.1 L838.3,636.7 L839.3,637.2 L840.3,637.7 L841.3,638.2 L842.4,638.8 L843.4,639.4 L844.4,639.9 L845.4,640.5 L846.4,641.0 L847.4,641.5 L848.4,641.8 L849.4,642.2 L850.4,642.5 L851.4,642.8 L852.4,643.0 L853.5,643.3 L854.5,643.5 L855.5,643.6 L856.5,643.6 L857.5,643.4 L858.5,643.0 L859.5,642.4 L860.5,641.7 L861.5,641.0 L862.5,640.4 L863.5,639.9 L864.6,639.4 L865.6,639.0 L866.6,638.6 L867.6,638.2 L868.6,637.8 L869.6,637.5 L870.6,637.2 L871.6,637.1 L872.6,637.0 L873.6,637.0 L874.6,637.1 L875.7,637.2 L876.7,637.4 L877.7,637.6 L878.7,637.9 L879.7,638.1 L880.7,638.4 L881.7,638.7 L882.7,639.0 L883.7,639.5 L884.7,640.0 L885.7,640.6 L886.8,641.2 L887.8,641.8 L888.8,642.3 L889.8,642.8 L890.8,643.2 L891.8,643.7 L892.8,644.1 L893.8,644.5 L894.8,644.9 L895.8,645.3 L896.8,645.6 L897.9,646.0 L898.9,646.3 L899.9,646.6 L900.9,646.8 L901.9,647.0 L902.9,647.3 L903.9,647.5 L904.9,647.7 L905.9,647.8 L906.9,648.0 L907.9,648.2 L909.0,648.4 L910.0,648.5 L911.0,648.7 L912.0,648.9 L913.0,649.1 L914.0,649.2 L915.0,649.4 L916.0,649.5 L917.0,649.7 L918.0,649.8 L919.0,650.0 L920.1,650.1 L921.1,650.3 L922.1,650.5 L923.1,650.7 L924.1,650.8 L925.1,651.1 L926.1,651.3 L927.1,651.5 L928.1,651.8 L929.1,652.2 L930.1,652.5 L931.2,652.9 L932.2,653.3 L933.2,653.8 L934.2,654.2 L935.2,654.7 L936.2,655.2 L937.2,655.7 L938.2,656.1 L939.2,656.6 L940.2,657.1 L941.2,657.5 L942.3,657.9 L943.3,658.3 L944.3,658.8 L945.3,659.2 L946.3,659.6 L947.3,660.0 L948.3,660.4 L949.3,660.9 L950.3,661.3 L951.3,661.7 L952.3,662.1 L953.4,662.5 L954.4,662.9 L955.4,663.4 L956.4,663.8 L957.4,664.2 L958.4,664.6 L959.4,665.1 L960.4,665.5 L961.4,665.9 L962.4,666.3 L963.4,666.8 L964.5,667.2 L965.5,667.6 L966.5,668.0 L967.5,668.4 L968.5,668.8 L969.5,669.2 L970.5,669.6 L971.5,669.9 L972.5,670.3 L973.5,670.6 L974.5,670.9 L975.6,671.2 L976.6,671.5 L977.6,671.7 L978.6,672.0 L979.6,672.2 L980.6,672.4 L981.6,672.6 L982.6,672.9 L983.6,673.1 L984.6,673.2 L985.6,673.4 L986.7,673.6 L987.7,673.8 L988.7,673.9 L989.7,674.1 L990.7,674.3 L991.7,674.4"/>
<path stroke="#0ff" d="M84.5,811.5 L85.5,811.4 L86.5,811.3 L87.5,811.1 L88.5,810.9 L89.5,810.6 L90.6,810.3 L91.6,810.0 L92.6,809.6 L93.6,809.1 L94.6,808.5 L95.6,807.8 L96.6,806.7 L97.6,805.2 L98.6,803.5 L99.6,801.7 L100.6,799.7 L101.7,797.3 L102.7,794.6 L103.7,791.7 L104.7,788.5 L105.7,785.1 L106.7,781.4 L107.7,777.4 L108.7,773.2 L109.7,768.6 L110.7,764.0 L111.7,759.1 L112.8,754.2 L113.8,749.2 L114.8,744.0 L115.8,738.6 L116.8,733.0 L117.8,727.1 L118.8,721.1 L119.8,714.8 L120.8,708.2 L121.8,701.2 L122.8,693.8 L123.9,686.0 L124.9,677.7 L125.9,669.0 L126.9,659.6 L127.9,649.6 L128.9,639.2 L129.9,628.8 L130.9,618.6 L131.9,608.2 L132.9,597.8 L133.9,587.5 L135.0,578.1 L136.0,568.5 L137.0,557.0 L138.0,540.9 L139.0,521.4 L140.0,503.6 L141.0,489.5 L142.0,476.8 L143.0,465.0 L144.0,453.7 L145.0,442.8 L146.1,432.8 L147.1,423.3 L148.1,413.6 L149.1,403.4 L150.1,391.5 L151.1,378.5 L152.1,365.9 L153.1,355.6 L154.1,346.8 L155.1,338.6 L156.1,331.5 L157.2,325.9 L158.2,321.9 L159.2,318.2 L160.2,314.9 L161.2,312.1 L162.2,310.1 L163.2,308.9 L164.2,308.9 L165.2,309.8 L166.2,311.4 L167.2,313.6 L168.3,316.1 L169.3,318.8 L170.3,321.7 L171.3,325.4 L172.3,329.8 L173.3,334.9 L174.3,340.6 L175.3,346.5 L176.3,352.7 L177.3,360.0 L178.3,368.2 L179.4,376.7 L180.4,385.1 L181.4,392.8 L182.4,400.2 L183.4,407.4 L184.4,414.6 L185.4,421.6 L186.4,428.5 L187.4,435.3 L188.4,441.9 L189.4,448.3 L190.5,454.7 L191.5,461.1 L192.5,467.7 L193.5,474.4 L194.5,481.3 L195.5,488.2 L196.5,495.3 L197.5,502.4 L198.5,509.5 L199.5,516.6 L200.5,523.6 L201.6,530.6 L202.6,537.7 L203.6,544.8 L204.6,552.2 L205.6,559.7 L206.6,568.0 L207.6,576.7 L208.6,585.2 L209.6,593.1 L210.6,599.7 L211.6,605.1 L212.7,609.9 L213.7,614.2 L214.7,618.2 L215.7,622.1 L216.7,625.9 L217.7,629.8 L218.7,634.0 L219.7,638.5 L220.7,643.3 L221.7,648.4 L222.7,653.4 L223.8,658.4 L224.8,663.1 L225.8,667.5 L226.8,671.3 L227.8,674.8 L228.8,678.2 L229.8,681.3 L230.8,684.3 L231.8,687.3 L232.8,690.1 L233.8,692.9 L234.9,695.6 L235.9,698.4 L236.9,701.3 L237.9,704.1 L238.9,706.9 L239.9,709.8 L240.9,712.6 L241.9,715.3 L242.9,718.1 L243.9,720.7 L245.0,723.3 L246.0,725.9 L247.0,728.3 L248.0,730.7 L249.0,732.9 L250.0,735.0 L251.0,737.0 L252.0,738.8 L253.0,740.6 L254.0,742.2 L255.0,743.9 L256.1,745.5 L257.1,747.1 L258.1,748.8 L259.1,750.4 L260.1,752.1 L261.1,753.7 L262.1,755.3 L263.1,756.9 L264.1,758.5 L265.1,760.1 L266.1,761.6 L267.2,763.1 L268.2,764.5 L269.2,765.9 L270.2,767.2 L271.2,768.5 L272.2,769.7 L273.2,770.9 L274.2,772.0 L275.2,773.1 L276.2,774.2 L277.2,775.3 L278.3,776.3 L279.3,777.3 L280.3,778.3 L281.3,779.3 L282.3,780.2 L283.3,781.1 L284.3,782.0 L285.3,782.9 L286.3,783.7 L287.3,784.6 L288.3,785.4 L289.4,786.2 L290.4,787.0 L291.4,787.8 L292.4,788.6 L293.4,789.4 L294.4,790.1 L295.4,790.9 L296.4,791.6 L297.4,792.4 L298.4,793.1 L299.4,793.7 L300.5,794.4 L301.5,795.0 L302.5,795.7 L303.5,796.2 L304.5,796.8 L305.5,797.4 L306.5,797.9 L307.5,798.3 L308.5,798.8 L309.5,799.3 L310.5,799.7 L311.6,800.2 L312.6,800.6 L313.6,801.1 L314.6,801.5 L315.6,801.9 L316.6,802.3 L317.6,802.7 L318.6,803.0 L319.6,803.4 L320.6,803.7 L321.6,804.1 L322.7,804.4 L323.7,804.7 L324.7,804.9 L325.7,805.2 L326.7,805.4 L327.7,805.6 L328.7,805.8 L329.7,806.0 L330.7,806.2 L331.7,806.3 L332.7,806.5 L333.8,806.6 L334.8,806.8 L335.8,806.9 L336.8,807.0 L337.8,807.1 L338.8,807.3 L339.8,807.4 L340.8,807.5 L341.8,807.6 L342.8,807.7 L343.8,807.8 L344.9,808.0 L345.9,808.1 L346.9,808.2 L347.9,808.3 L348.9,808.4 L349.9,808.5 L350.9,808.6 L351.9,808.7 L352.9,808.8 L353.9,808.9 L354.9,809.0 L356.0,809.0 L357.0,809.1 L358.0,809.1 L359.0,809.2 L360.0,809.2 L361.0,809.2 L362.0,809.2 L363.0,809.3 L364.0,809.3 L365.0,809.3 L366.0,809.3 L367.1,809.3 L368.1,809.3 L369.1,809.4 L370.1,809.4 L371.1,809.4 L372.1,809.4 L373.1,809.4 L374.1,809.4 L375.1,809.4 L376.1,809.5 L377.1,809.5 L378.2,809.5 L379.2,809.5 L380.2,809.5 L381.2,809.5 L382.2,809.5 L383.2,809.5 L384.2,809.5 L385.2,809.5 L386.2,809.6 L387.2,809.6 L388.2,809.6 L389.3,809.6 L390.3,809.6 L391.3,809.6 L392.3,809.6 L393.3,809.6 L394.3,809.6 L395.3,809.6 L396.3,809.6 L397.3,809.6 L398.3,809.6 L399.3,809.6 L400.4,809.6 L401.4,809.6 L402.4,809.6 L403.4,809.6 L404.4,809.6 L405.4,809.5 L406.4,809.5 L407.4,809.5 L408.4,809.5 L409.4,809.4 L410.4,809.4 L411.5,809.3 L412.5,809.3 L413.5,809.3 L414.5,809.2 L415.5,809.2 L416.5,809.1 L417.5,809.1 L418.5,809.0 L419.5,809.0 L420.5,809.0 L421.5,808.9 L422.6,808.9 L423.6,808.8 L424.6,808.8 L425.6,808.7 L426.6,808.7 L427.6,808.6 L428.6,808.6 L429.6,808.5 L430.6,808.5 L431.6,808.4 L432.6,808.3 L433.7,808.3 L434.7,808.2 L435.7,808.2 L436.7,808.1 L437.7,808.0 L438.7,807.9 L439.7,807.9 L440.7,807.8 L441.7,807.7 L442.7,807.7 L443.7,807.6 L444.8,807.5 L445.8,807.4 L446.8,807.4 L447.8,807.3 L448.8,807.2 L449.8,807.1 L450.8,807.0 L451.8,807.0 L452.8,806.9 L453.8,806.8 L454.8,806.7 L455.9,806.6 L456.9,806.6 L457.9,806.5 L458.9,806.4 L459.9,806.3 L460.9,806.2 L461.9,806.2 L462.9,806.1 L463.9,806.0 L464.9,805.9 L465.9,805.9 L467.0,805.8 L468.0,805.7 L469.0,805.7 L470.0,805.6 L471.0,805.5 L472.0,805.5 L473.0,805.4 L474.0,805.3 L475.0,805.3 L476.0,805.2 L477.0,805.2 L478.1,805.1 L479.1,805.0 L480.1,805.0 L481.1,804.9 L482.1,804.9 L483.1,804.8 L484.1,804.8 L485.1,804.8 L486.1,804.7 L487.1,804.7 L488.1,804.6 L489.2,804.6 L490.2,804.5 L491.2,804.5 L492.2,804.4 L493.2,804.4 L494.2,804.3 L495.2,804.3 L496.2,804.3 L497.2,804.2 L498.2,804.2 L499.2,804.1 L500.3,804.1 L501.3,804.0 L502.3,804.0 L503.3,804.0 L504.3,803.9 L505.3,803.9 L506.3,803.8 L507.3,803.8 L508.3,803.7 L509.3,803.7 L510.3,803.7 L511.4,803.6 L512.4,803.6 L513.4,803.6 L514.4,803.5 L515.4,803.5 L516.4,803.4 L517.4,803.4 L518.4,803.4 L519.4,803.3 L520.4,803.3 L521.4,803.3 L522.5,803.2 L523.5,803.2 L524.5,803.1 L525.5,803.1 L526.5,803.1 L527.5,803.0 L528.5,803.0 L529.5,803.0 L530.5,802.9 L531.5,802.9 L532.5,802.9 L533.6,802.8 L534.6,802.8 L535.6,802.8 L536.6,802.7 L537.6,802.7 L538.6,802.7 L539.6,802.6 L540.6,802.6 L541.6,802.6 L542.6,802.5 L543.7,802.5 L544.7,802.5 L545.7,802.4 L546.7,802.4 L547.7,802.4 L548.7,802.3 L549.7,802.3 L550.7,802.3 L551.7,802.2 L552.7,802.2 L553.7,802.2 L554.8,802.2 L555.8,802.1 L556.8,802.1 L557.8,802.1 L558.8,802.0 L559.8,802.0 L560.8,802.0 L561.8,801.9 L562.8,801.9 L563.8,801.9 L564.8,801.9 L565.9,801.8 L566.9,801.8 L567.9,801.8 L568.9,801.7 L569.9,801.7 L570.9,801.7 L571.9,801.7 L572.9,801.6 L573.9,801.6 L574.9,801.6 L575.9,801.5 L577.0,801.5 L578.0,801.5 L579.0,801.5 L580.0,801.4 L581.0,801.4 L582.0,801.4 L583.0,801.3 L584.0,801.3 L585.0,801.3 L586.0,801.3 L587.0,801.2 L588.1,801.2 L589.1,801.2 L590.1,801.2 L591.1,801.1 L592.1,801.1 L593.1,801.1 L594.1,801.1 L595.1,801.0 L596.1,801.0 L597.1,801.0 L598.1,801.0 L599.2,800.9 L600.2,800.9 L601.2,800.9 L602.2,800.8 L603.2,800.8 L604.2,800.8 L605.2,800.8 L606.2,800.7 L607.2,800.7 L608.2,800.7 L609.2,800.7 L610.3,800.7 L611.3,800.6 L612.3,800.6 L613.3,800.6 L614.3,800.6 L615.3,800.5 L616.3,800.5 L617.3,800.5 L618.3,800.5 L619.3,800.4 L620.3,800.4 L621.4,800.4 L622.4,800.4 L623.4,800.3 L624.4,800.3 L625.4,800.3 L626.4,800.3 L627.4,800.3 L628.4,800.2 L629.4,800.2 L630.4,800.2 L631.4,800.2 L632.5,800.2 L633.5,800.1 L634.5,800.1 L635.5,800.1 L636.5,800.1 L637.5,800.0 L638.5,800.0 L639.5,800.0 L640.5,800.0 L641.5,800.0 L642.5,799.9 L643.6,799.9 L644.6,799.9 L645.6,799.9 L646.6,799.9 L647.6,799.8 L648.6,799.8 L649.6,799.8 L650.6,799.8 L651.6,799.8 L652.6,799.7 L653.6,799.7 L654.7,799.7 L655.7,799.7 L656.7,799.7 L657.7,799.7 L658.7,799.6 L659.7,799.6 L660.7,799.6 L661.7,799.6 L662.7,799.6 L663.7,799.5 L664.7,799.5 L665.8,799.5 L666.8,799.5 L667.8,799.5 L668.8,799.4 L669.8,799.4 L670.8,799.4 L671.8,799.4 L672.8,799.4 L673.8,799.4 L674.8,799.3 L675.8,799.3 L676.9,799.3 L677.9,799.3 L678.9,799.3 L679.9,799.2 L680.9,799.2 L681.9,799.2 L682.9,799.2 L683.9,799.2 L684.9,799.2 L685.9,799.1 L686.9,799.1 L688.0,799.1 L689.0,799.1 L690.0,799.1 L691.0,799.1 L692.0,799.0 L693.0,799.0 L694.0,799.0 L695.0,799.0 L696.0,799.0 L697.0,799.0 L698.0,798.9 L699.1,798.9 L700.1,798.9 L701.1,798.9 L702.1,798.9 L703.1,798.9 L704.1,798.8 L705.1,798.8 L706.1,798.8 L707.1,798.8 L708.1,798.8 L709.1,798.8 L710.2,798.8 L711.2,798.7 L712.2,798.7 L713.2,798.7 L714.2,798.7 L715.2,798.7 L716.2,798.7 L717.2,798.7 L718.2,798.6 L719.2,798.6 L720.2,798.6 L721.3,798.6 L722.3,798.6 L723.3,798.6 L724.3,798.6 L725.3,798.6 L726.3,798.5 L727.3,798.5 L728.3,798.5 L729.3,798.5 L730.3,798.5 L731.3,798.5 L732.4,798.5 L733.4,798.5 L734.4,798.5 L735.4,798.4 L736.4,798.4 L737.4,798.4 L738.4,798.4 L739.4,798.4 L740.4,798.4 L741.4,798.4 L742.4,798.4 L743.5,798.4 L744.5,798.4 L745.5,798.3 L746.5,798.3 L747.5,798.3 L748.5,798.3 L749.5,798.3 L750.5,798.3 L751.5,798.3 L752.5,798.3 L753.5,798.3 L754.6,798.3 L755.6,798.3 L756.6,798.2 L757.6,798.2 L758.6,798.2 L759.6,798.2 L760.6,798.2 L761.6,798.2 L762.6,798.2 L763.6,798.2 L764.6,798.2 L765.7,798.2 L766.7,798.2 L767.7,798.2 L768.7,798.1 L769.7,798.1 L770.7,798.1 L771.7,798.1 L772.7,798.1 L773.7,798.1 L774.7,798.1 L775.7,798.1 L776.8,798.1 L777.8,798.1 L778.8,798.1 L779.8,798.1 L780.8,798.1 L781.8,798.1 L782.8,798.0 L783.8,798.0 L784.8,798.0 L785.8,798.0 L786.8,798.0 L787.9,798.0 L788.9,798.0 L789.9,798.0 L790.9,798.0 L791.9,798.0 L792.9,798.0 L793.9,798.0 L794.9,798.0 L795.9,798.0 L796.9,798.0 L797.9,798.0 L799.0,798.0 L800.0,798.0 L801.0,798.0 L802.0,798.0 L803.0,798.0 L804.0,798.0 L805.0,798.0 L806.0,798.0 L807.0,798.0 L808.0,798.0 L809.0,798.0 L810.1,798.0 L811.1,798.0 L812.1,798.0 L813.1,798.0 L814.1,798.0 L815.1,798.0 L816.1,798.0 L817.1,798.0 L818.1,798.0 L819.1,798.0 L820.1,798.0 L821.2,798.0 L822.2,798.0 L823.2,798.0 L824.2,798.0 L825.2,798.0 L826.2,798.0 L827.2,798.1 L828.2,798.1 L829.2,798.1 L830.2,798.1 L831.2,798.1 L832.3,798.1 L833.3,798.1 L834.3,798.1 L835.3,798.1 L836.3,798.1 L837.3,798.1 L838.3,798.1 L839.3,798.1 L840.3,798.1 L841.3,798.1 L842.4,798.1 L843.4,798.1 L844.4,798.1 L845.4,798.1 L846.4,798.1 L847.4,798.1 L848.4,798.1 L849.4,798.1 L850.4,798.2 L851.4,798.2 L852.4,798.2 L853.5,798.2 L854.5,798.2 L855.5,798.2 L856.5,798.2 L857.5,798.2 L858.5,798.2 L859.5,798.2 L860.5,798.2 L861.5,798.2 L862.5,798.2 L863.5,798.2 L864.6,798.2 L865.6,798.2 L866.6,798.2 L867.6,798.2 L868.6,798.3 L869.6,798.3 L870.6,798.3 L871.6,798.3 L872.6,798.3 L873.6,798.3 L874.6,798.3 L875.7,798.3 L876.7,798.3 L877.7,798.3 L878.7,798.3 L879.7,798.4 L880.7,798.4 L881.7,798.4 L882.7,798.4 L883.7,798.4 L884.7,798.4 L885.7,798.4 L886.8,798.4 L887.8,798.4 L888.8,798.4 L889.8,798.5 L890.8,798.5 L891.8,798.5 L892.8,798.5 L893.8,798.5 L894.8,798.5 L895.8,798.5 L896.8,798.5 L897.9,798.5 L898.9,798.6 L899.9,798.6 L900.9,798.6 L901.9,798.6 L902.9,798.6 L903.9,798.6 L904.9,798.6 L905.9,798.6 L906.9,798.7 L907.9,798.7 L909.0,798.7 L910.0,798.7 L911.0,798.7 L912.0,798.7 L913.0,798.7 L914.0,798.7 L915.0,798.7 L916.0,798.8 L917.0,798.8 L918.0,798.8 L919.0,798.8 L920.1,798.8 L921.1,798.8 L922.1,798.8 L923.1,798.8 L924.1,798.8 L925.1,798.9 L926.1,798.9 L927.1,798.9 L928.1,798.9 L929.1,798.9 L930.1,798.9 L931.2,798.9 L932.2,798.9 L933.2,798.9 L934.2,799.0 L935.2,799.0 L936.2,799.0 L937.2,799.0 L938.2,799.0 L939.2,799.0 L940.2,799.0 L941.2,799.0 L942.3,799.0 L943.3,799.0 L944.3,799.1 L945.3,799.1 L946.3,799.1 L947.3,799.1 L948.3,799.1 L949.3,799.1 L950.3,799.1 L951.3,799.1 L952.3,799.1 L953.4,799.2 L954.4,799.2 L955.4,799.2 L956.4,799.2 L957.4,799.2 L958.4,799.2 L959.4,799.2 L960.4,799.2 L961.4,799.3 L962.4,799.3 L963.4,799.3 L964.5,799.3 L965.5,799.3 L966.5,799.3 L967.5,799.3 L968.5,799.3 L969.5,799.3 L970.5,799.4 L971.5,799.4 L972.5,799.4 L973.5,799.4 L974.5,799.4 L975.6,799.4 L976.6,799.4 L977.6,799.4 L978.6,799.4 L979.6,799.5 L980.6,799.5 L981.6,799.5 L982.6,799.5 L983.6,799.5 L984.6,799.5 L985.6,799.5 L986.7,799.5 L987.7,799.6 L988.7,799.6 L989.7,799.6 L990.7,799.6 L991.7,799.6"/>
<path stroke="#0f0" d="M84.5,810.5 L86.0,810.5 L87.5,810.5 L89.0,810.5 L90.6,810.5 L92.1,810.5 L93.6,810.5 L95.1,810.5 L96.6,810.5 L98.1,810.5 L99.6,810.5 L101.2,810.5 L102.7,810.5 L104.2,810.5 L105.7,810.5 L107.2,810.5 L108.7,810.5 L110.2,810.5 L111.8,810.5 L113.3,810.5 L114.8,810.4 L116.3,810.3 L117.8,810.3 L119.3,810.2 L120.8,810.1 L122.4,810.0 L123.9,809.8 L125.4,809.6 L126.9,809.4 L128.4,809.1 L129.9,808.8 L131.5,808.4 L133.0,808.0 L134.5,807.4 L136.0,806.8 L137.5,806.0 L139.0,805.1 L140.5,804.2 L142.1,803.3 L143.6,802.3 L145.1,801.4 L146.6,800.4 L148.1,799.4 L149.6,798.4 L151.1,797.6 L152.7,796.7 L154.2,796.0 L155.7,795.2 L157.2,794.4 L158.7,793.5 L160.2,792.6 L161.7,791.7 L163.3,790.8 L164.8,789.9 L166.3,789.1 L167.8,788.3 L169.3,787.6 L170.8,786.9 L172.3,786.3 L173.9,785.7 L175.4,785.2 L176.9,784.8 L178.4,784.4 L179.9,784.1 L181.4,783.8 L182.9,783.6 L184.5,783.3 L186.0,783.2 L187.5,783.1 L189.0,783.1 L190.5,783.2 L192.0,783.3 L193.5,783.5 L195.1,783.7 L196.6,784.0 L198.1,784.3 L199.6,784.5 L201.1,784.8 L202.6,785.1 L204.1,785.3 L205.7,785.6 L207.2,786.0 L208.7,786.3 L210.2,786.7 L211.7,787.1 L213.2,787.5 L214.7,787.9 L216.3,788.3 L217.8,788.7 L219.3,789.1 L220.8,789.6 L222.3,790.0 L223.8,790.5 L225.4,791.0 L226.9,791.4 L228.4,791.9 L229.9,792.4 L231.4,792.9 L232.9,793.4 L234.4,793.9 L236.0,794.4 L237.5,794.9 L239.0,795.4 L240.5,796.0 L242.0,796.5 L243.5,797.0 L245.0,797.5 L246.6,797.9 L248.1,798.3 L249.6,798.7 L251.1,799.0 L252.6,799.4 L254.1,799.7 L255.6,799.9 L257.2,800.2 L258.7,800.5 L260.2,800.7 L261.7,801.0 L263.2,801.2 L264.7,801.5 L266.2,801.7 L267.8,801.9 L269.3,802.2 L270.8,802.4 L272.3,802.6 L273.8,802.9 L275.3,803.1 L276.8,803.3 L278.4,803.5 L279.9,803.7 L281.4,803.9 L282.9,804.1 L284.4,804.3 L285.9,804.5 L287.4,804.7 L289.0,804.9 L290.5,805.1 L292.0,805.3 L293.5,805.5 L295.0,805.7 L296.5,805.9 L298.0,806.0 L299.6,806.2 L301.1,806.4 L302.6,806.5 L304.1,806.7 L305.6,806.9 L307.1,807.0 L308.6,807.2 L310.2,807.3 L311.7,807.5 L313.2,807.6 L314.7,807.8 L316.2,807.9 L317.7,808.0 L319.3,808.2 L320.8,808.3 L322.3,808.4 L323.8,808.5 L325.3,808.6 L326.8,808.7 L328.3,808.8 L329.9,808.8 L331.4,808.9 L332.9,809.0 L334.4,809.0 L335.9,809.1 L337.4,809.2 L338.9,809.2 L340.5,809.3 L342.0,809.3 L343.5,809.4 L345.0,809.4 L346.5,809.5 L348.0,809.5 L349.5,809.6 L351.1,809.6 L352.6,809.6 L354.1,809.7 L355.6,809.7 L357.1,809.7 L358.6,809.8 L360.1,809.8 L361.7,809.8 L363.2,809.9 L364.7,809.9 L366.2,809.9 L367.7,809.9 L369.2,809.9 L370.7,810.0 L372.3,810.0 L373.8,810.0 L375.3,810.0 L376.8,810.1 L378.3,810.1 L379.8,810.1 L381.3,810.1 L382.9,810.1 L384.4,810.2 L385.9,810.2 L387.4,810.2 L388.9,810.2 L390.4,810.2 L391.9,810.2 L393.5,810.3 L395.0,810.3 L396.5,810.3 L398.0,810.3 L399.5,810.3 L401.0,810.3 L402.6,810.3 L404.1,810.3 L405.6,810.4 L407.1,810.4 L408.6,810.4 L410.1,810.4 L411.6,810.4 L413.2,810.4 L414.7,810.4 L416.2,810.4 L417.7,810.4 L419.2,810.4 L420.7,810.4 L422.2,810.4 L423.8,810.4 L425.3,810.4 L426.8,810.4 L428.3,810.4 L429.8,810.4 L431.3,810.4 L432.8,810.4 L434.4,810.4 L435.9,810.4 L437.4,810.4 L438.9,810.4 L440.4,810.4 L441.9,810.4 L443.4,810.4 L445.0,810.4 L446.5,810.4 L448.0,810.4 L449.5,810.4 L451.0,810.4 L452.5,810.4 L454.0,810.4 L455.6,810.4 L457.1,810.4 L458.6,810.4 L460.1,810.4 L461.6,810.4 L463.1,810.4 L464.6,810.4 L466.2,810.4 L467.7,810.4 L469.2,810.4 L470.7,810.4 L472.2,810.4 L473.7,810.4 L475.2,810.4 L476.8,810.4 L478.3,810.4 L479.8,810.4 L481.3,810.4 L482.8,810.4 L484.3,810.4 L485.8,810.4 L487.4,810.4 L488.9,810.4 L490.4,810.4 L491.9,810.4 L493.4,810.4 L494.9,810.4 L496.5,810.4 L498.0,810.4 L499.5,810.4 L501.0,810.4 L502.5,810.4 L504.0,810.4 L505.5,810.4 L507.1,810.4 L508.6,810.4 L510.1,810.4 L511.6,810.4 L513.1,810.4 L514.6,810.4 L516.1,810.4 L517.7,810.4 L519.2,810.4 L520.7,810.4 L522.2,810.4 L523.7,810.4 L525.2,810.4 L526.7,810.4 L528.3,810.4 L529.8,810.4 L531.3,810.4 L532.8,810.4 L534.3,810.4 L535.8,810.4 L537.3,810.4 L538.9,810.4 L540.4,810.4 L541.9,810.4 L543.4,810.4 L544.9,810.4 L546.4,810.4 L547.9,810.4 L549.5,810.4 L551.0,810.4 L552.5,810.4 L554.0,810.4 L555.5,810.4 L557.0,810.4 L558.5,810.4 L560.1,810.4 L561.6,810.4 L563.1,810.4 L564.6,810.4 L566.1,810.4 L567.6,810.4 L569.1,810.4 L570.7,810.4 L572.2,810.4 L573.7,810.4 L575.2,810.4 L576.7,810.4 L578.2,810.4 L579.7,810.4 L581.3,810.4 L582.8,810.4 L584.3,810.4 L585.8,810.4 L587.3,810.4 L588.8,810.4 L590.4,810.4 L591.9,810.4 L593.4,810.4 L594.9,810.4 L596.4,810.4 L597.9,810.4 L599.4,810.4 L601.0,810.4 L602.5,810.4 L604.0,810.4 L605.5,810.4 L607.0,810.4 L608.5,810.4 L610.0,810.4 L611.6,810.4 L613.1,810.4 L614.6,810.4 L616.1,810.4 L617.6,810.4 L619.1,810.4 L620.6,810.4 L622.2,810.4 L623.7,810.4 L625.2,810.4 L626.7,810.4 L628.2,810.4 L629.7,810.4 L631.2,810.4 L632.8,810.4 L634.3,810.4 L635.8,810.4 L637.3,810.4 L638.8,810.4 L640.3,810.4 L641.8,810.4 L643.4,810.4 L644.9,810.4 L646.4,810.4 L647.9,810.4 L649.4,810.4 L650.9,810.4 L652.4,810.4 L654.0,810.4 L655.5,810.4 L657.0,810.4 L658.5,810.4 L660.0,810.4 L661.5,810.4 L663.0,810.4 L664.6,810.4 L666.1,810.4 L667.6,810.4 L669.1,810.4 L670.6,810.4 L672.1,810.4 L673.6,810.4 L675.2,810.4 L676.7,810.4 L678.2,810.4 L679.7,810.4 L681.2,810.4 L682.7,810.4 L684.3,810.4 L685.8,810.4 L687.3,810.4 L688.8,810.4 L690.3,810.4 L691.8,810.4 L693.3,810.4 L694.9,810.4 L696.4,810.4 L697.9,810.4 L699.4,810.4 L700.9,810.4 L702.4,810.4 L703.9,810.4 L705.5,810.4 L707.0,810.4 L708.5,810.4 L710.0,810.4 L711.5,810.4 L713.0,810.4 L714.5,810.4 L716.1,810.4 L717.6,810.4 L719.1,810.4 L720.6,810.4 L722.1,810.4 L723.6,810.4 L725.1,810.4 L726.7,810.4 L728.2,810.4 L729.7,810.4 L731.2,810.4 L732.7,810.4 L734.2,810.4 L735.7,810.4 L737.3,810.4 L738.8,810.4 L740.3,810.4 L741.8,810.4 L743.3,810.4 L744.8,810.4 L746.3,810.4 L747.9,810.4 L749.4,810.4 L750.9,810.4 L752.4,810.4 L753.9,810.4 L755.4,810.4 L756.9,810.4 L758.5,810.4 L760.0,810.4 L761.5,810.4 L763.0,810.4 L764.5,810.4 L766.0,810.4 L767.6,810.4 L769.1,810.4 L770.6,810.4 L772.1,810.4 L773.6,810.4 L775.1,810.4 L776.6,810.4 L778.2,810.4 L779.7,810.4 L781.2,810.4 L782.7,810.4 L784.2,810.4 L785.7,810.4 L787.2,810.4 L788.8,810.4 L790.3,810.4 L791.8,810.4 L793.3,810.4 L794.8,810.4 L796.3,810.4 L797.8,810.4 L799.4,810.4 L800.9,810.4 L802.4,810.4 L803.9,810.4 L805.4,810.4 L806.9,810.4 L808.4,810.4 L810.0,810.4 L811.5,810.4 L813.0,810.4 L814.5,810.4 L816.0,810.4 L817.5,810.4 L819.0,810.4 L820.6,810.4 L822.1,810.4 L823.6,810.4 L825.1,810.4 L826.6,810.4 L828.1,810.4 L829.6,810.4 L831.2,810.4 L832.7,810.4 L834.2,810.4 L835.7,810.4 L837.2,810.4 L838.7,810.4 L840.2,810.4 L841.8,810.4 L843.3,810.4 L844.8,810.4 L846.3,810.4 L847.8,810.4 L849.3,810.4 L850.8,810.4 L852.4,810.4 L853.9,810.4 L855.4,810.4 L856.9,810.4 L858.4,810.4 L859.9,810.4 L861.5,810.4 L863.0,810.4 L864.5,810.4 L866.0,810.4 L867.5,810.4 L869.0,810.4 L870.5,810.4 L872.1,810.4 L873.6,810.4 L875.1,810.4 L876.6,810.4 L878.1,810.4 L879.6,810.4 L881.1,810.4 L882.7,810.4 L884.2,810.4 L885.7,810.4 L887.2,810.4 L888.7,810.4 L890.2,810.4 L891.7,810.4 L893.3,810.4 L894.8,810.4 L896.3,810.4 L897.8,810.4 L899.3,810.4 L900.8,810.4 L902.3,810.4 L903.9,810.4 L905.4,810.4 L906.9,810.4 L908.4,810.4 L909.9,810.4 L911.4,810.4 L912.9,810.4 L914.5,810.4 L916.0,810.4 L917.5,810.4 L919.0,810.4 L920.5,810.4 L922.0,810.4 L923.5,810.4 L925.1,810.4 L926.6,810.4 L928.1,810.4 L929.6,810.4 L931.1,810.4 L932.6,810.4 L934.1,810.4 L935.7,810.4 L937.2,810.4 L938.7,810.4 L940.2,810.4 L941.7,810.4 L943.2,810.4 L944.7,810.4 L946.3,810.4 L947.8,810.4 L949.3,810.4 L950.8,810.4 L952.3,810.4 L953.8,810.4 L955.4,810.4 L956.9,810.4 L958.4,810.4 L959.9,810.4 L961.4,810.4 L962.9,810.4 L964.4,810.4 L966.0,810.4 L967.5,810.4 L969.0,810.4 L970.5,810.4 L972.0,810.4 L973.5,810.4 L975.0,810.4 L976.6,810.4 L978.1,810.4 L979.6,810.4 L981.1,810.4 L982.6,810.4 L984.1,810.4 L985.6,810.4 L987.2,810.4 L988.7,810.4 L990.2,810.4 L991.7,810.4"/>
</g>
<g stroke="#000" fill="none">
<path stroke-width="1.9" d="M84.1 811.7L84.1 798.4M84.1 6.2L84.1 19.5M272.9 811.7L272.9 798.4M272.9 6.2L272.9 19.5M461.7 811.7L461.7 798.4M461.7 6.2L461.7 19.5M650.5 811.7L650.5 798.4M650.5 6.2L650.5 19.5M839.3 811.7L839.3 798.4M839.3 6.2L839.3 19.5M84.5 811.7L98.1 811.7M991.7 811.7L978.1 811.7M84.5 672.6L98.1 672.6M991.7 672.6L978.1 672.6M84.5 533.4L98.1 533.4M991.7 533.4L978.1 533.4M84.5 394.3L98.1 394.3M991.7 394.3L978.1 394.3M84.5 255.1L98.1 255.1M991.7 255.1L978.1 255.1M84.5 116.0L98.1 116.0M991.7 116.0L978.1 116.0"/>
<path stroke-width="1.5" d="M121.9 811.7L121.9 804.8M121.9 6.2L121.9 13.1M159.6 811.7L159.6 804.8M159.6 6.2L159.6 13.1M197.4 811.7L197.4 804.8M197.4 6.2L197.4 13.1M235.1 811.7L235.1 804.8M235.1 6.2L235.1 13.1M310.7 811.7L310.7 804.8M310.7 6.2L310.7 13.1M348.4 811.7L348.4 804.8M348.4 6.2L348.4 13.1M386.2 811.7L386.2 804.8M386.2 6.2L386.2 13.1M423.9 811.7L423.9 804.8M423.9 6.2L423.9 13.1M499.5 811.7L499.5 804.8M499.5 6.2L499.5 13.1M537.2 811.7L537.2 804.8M537.2 6.2L537.2 13.1M575.0 811.7L575.0 804.8M575.0 6.2L575.0 13.1M612.7 811.7L612.7 804.8M612.7 6.2L612.7 13.1M688.3 811.7L688.3 804.8M688.3 6.2L688.3 13.1M726.0 811.7L726.0 804.8M726.0 6.2L726.0 13.1M763.8 811.7L763.8 804.8M763.8 6.2L763.8 13.1M801.5 811.7L801.5 804.8M801.5 6.2L801.5 13.1M877.1 811.7L877.1 804.8M877.1 6.2L877.1 13.1M914.8 811.7L914.8 804.8M914.8 6.2L914.8 13.1M952.6 811.7L952.6 804.8M952.6 6.2L952.6 13.1M990.3 811.7L990.3 804.8M990.3 6.2L990.3 13.1M84.5 784.8L89.2 784.8M991.7 784.8L987.0 784.8M84.5 756.9L89.2 756.9M991.7 756.9L987.0 756.9M84.5 729.1L89.2 729.1M991.7 729.1L987.0 729.1M84.5 701.3L89.2 701.3M991.7 701.3L987.0 701.3M84.5 645.6L89.2 645.6M991.7 645.6L987.0 645.6M84.5 617.8L89.2 617.8M991.7 617.8L987.0 617.8M84.5 590.0L89.2 590.0M991.7 590.0L987.0 590.0M84.5 562.1L89.2 562.1M991.7 562.1L987.0 562.1M84.5 506.5L89.2 506.5M991.7 506.5L987.0 506.5M84.5 478.7L89.2 478.7M991.7 478.7L987.0 478.7M84.5 450.8L89.2 450.8M991.7 450.8L987.0 450.8M84.5 423.0L89.2 423.0M991.7 423.0L987.0 423.0M84.5 367.4L89.2 367.4M991.7 367.4L987.0 367.4M84.5 339.5L89.2 339.5M991.7 339.5L987.0 339.5M84.5 311.7L89.2 311.7M991.7 311.7L987.0 311.7M84.5 283.9L89.2 283.9M991.7 283.9L987.0 283.9M84.5 228.2L89.2 228.2M991.7 228.2L987.0 228.2M84.5 200.4L89.2 200.4M991.7 200.4L987.0 200.4M84.5 172.6L89.2 172.6M991.7 172.6L987.0 172.6M84.5 144.7L89.2 144.7M991.7 144.7L987.0 144.7M84.5 89.1L89.2 89.1M991.7 89.1L987.0 89.1M84.5 61.2L89.2 61.2M991.7 61.2L987.0 61.2M84.5 33.4L89.2 33.4M991.7 33.4L987.0 33.4"/>
<rect x="84.5" y="6.2" width="907.2" height="805.5" stroke-width="3.3"/>
</g>
<g font-family="'Liberation Serif','Times New Roman',serif" font-size="27.3" fill="#000" stroke="#000" stroke-width="0.3">
<text transform="translate(84.1,838.9) scale(1,1.06)" text-anchor="middle" font-size="26.2">0.5</text>
<text transform="translate(272.9,838.9) scale(1,1.06)" text-anchor="middle" font-size="26.2">1.0</text>
<text transform="translate(461.7,838.9) scale(1,1.06)" text-anchor="middle" font-size="26.2">1.5</text>
<text transform="translate(650.5,838.9) scale(1,1.06)" text-anchor="middle" font-size="26.2">2.0</text>
<text transform="translate(839.3,838.9) scale(1,1.06)" text-anchor="middle" font-size="26.2">2.5</text>
<text transform="translate(74.6,822.1) scale(1,1.06)" text-anchor="end" font-size="26.2">0.0</text>
<text transform="translate(74.6,683.0) scale(1,1.06)" text-anchor="end" font-size="26.2">0.1</text>
<text transform="translate(74.6,543.8) scale(1,1.06)" text-anchor="end" font-size="26.2">0.2</text>
<text transform="translate(74.6,404.7) scale(1,1.06)" text-anchor="end" font-size="26.2">0.3</text>
<text transform="translate(74.6,265.5) scale(1,1.06)" text-anchor="end" font-size="26.2">0.4</text>
<text transform="translate(74.6,126.4) scale(1,1.06)" text-anchor="end" font-size="26.2">0.5</text>
<text x="538.1" y="878.0" text-anchor="middle">Wavelength (<tspan font-family="'DejaVu Sans',sans-serif" font-style="italic" font-size="27.5">μ</tspan>m)</text>
<text transform="translate(24.8,409.7) rotate(-90)" text-anchor="middle" font-size="27.3">Total Photon Conversion Efficiency</text>
<text x="731.0" y="49.3">order 1</text>
<text x="731.0" y="89.2">order 2</text>
<text x="731.0" y="129.1">order 3</text>
<text x="731.0" y="169.0">order 1/F277W</text>
<text x="731.0" y="208.9">order1 model</text>
<text x="731.0" y="248.8">order1/F277W model</text>
<text x="731.0" y="288.7">order 2 model</text>
<text x="731.0" y="328.6">order3 model</text>
</g>
<circle cx="682.2" cy="40.4" r="2.3" fill="#000"/>
<circle cx="682.2" cy="80.3" r="2.3" fill="#00f"/>
<circle cx="682.2" cy="120.2" r="2.3" fill="#218c21"/>
<circle cx="682.2" cy="160.1" r="2.3" fill="#ffa500"/>
<path d="M654.3 199.7H709.8" stroke="#f00" stroke-width="2.6" stroke-dasharray="8.6 3.45" fill="none"/>
<path d="M654.3 239.6H709.8" stroke="#a3141a" stroke-width="2.6" stroke-dasharray="8.6 3.45" fill="none"/>
<path d="M654.3 279.6H709.8" stroke="#0ff" stroke-width="2.6" stroke-dasharray="8.6 3.45" fill="none"/>
<path d="M654.3 319.6H709.8" stroke="#0f0" stroke-width="2.6" stroke-dasharray="8.6 3.45" fill="none"/>
</svg>
</body></html>
